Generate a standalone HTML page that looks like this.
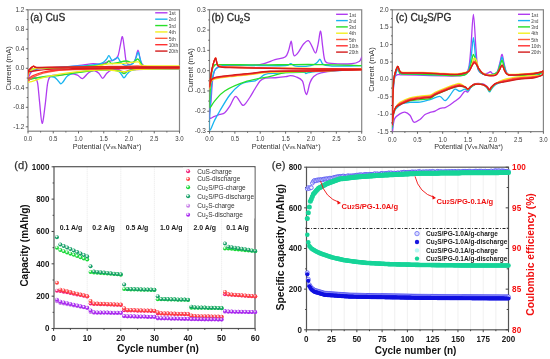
<!DOCTYPE html><html><head><meta charset="utf-8"><style>html,body{margin:0;padding:0;background:#fff;width:550px;height:359px;overflow:hidden}svg{display:block;will-change:transform}</style></head><body>
<svg width="550" height="359" viewBox="0 0 550 359" font-family='"Liberation Sans", sans-serif'>
<rect width="550" height="359" fill="#fff"/>
<defs>
<clipPath id="ca"><rect x="28" y="9.8" width="151.5" height="121.4"/></clipPath>
<clipPath id="cb"><rect x="209.5" y="9.8" width="152.2" height="121.7"/></clipPath>
<clipPath id="cc"><rect x="392.3" y="9.8" width="151.1" height="121.8"/></clipPath>
</defs>
<rect x="28" y="9.8" width="151.5" height="121.4" fill="none" stroke="#858585" stroke-width="1.2"/>
<line x1="28" y1="131.2" x2="28" y2="133.4" stroke="#555" stroke-width="0.9"/>
<text x="28" y="141.1" text-anchor="middle" font-size="7" fill="#3a3a3a" textLength="8.4" lengthAdjust="spacingAndGlyphs">0.0</text>
<line x1="40.62" y1="131.2" x2="40.62" y2="132.5" stroke="#555" stroke-width="0.9"/>
<line x1="53.25" y1="131.2" x2="53.25" y2="133.4" stroke="#555" stroke-width="0.9"/>
<text x="53.25" y="141.1" text-anchor="middle" font-size="7" fill="#3a3a3a" textLength="8.4" lengthAdjust="spacingAndGlyphs">0.5</text>
<line x1="65.88" y1="131.2" x2="65.88" y2="132.5" stroke="#555" stroke-width="0.9"/>
<line x1="78.5" y1="131.2" x2="78.5" y2="133.4" stroke="#555" stroke-width="0.9"/>
<text x="78.5" y="141.1" text-anchor="middle" font-size="7" fill="#3a3a3a" textLength="8.4" lengthAdjust="spacingAndGlyphs">1.0</text>
<line x1="91.12" y1="131.2" x2="91.12" y2="132.5" stroke="#555" stroke-width="0.9"/>
<line x1="103.75" y1="131.2" x2="103.75" y2="133.4" stroke="#555" stroke-width="0.9"/>
<text x="103.75" y="141.1" text-anchor="middle" font-size="7" fill="#3a3a3a" textLength="8.4" lengthAdjust="spacingAndGlyphs">1.5</text>
<line x1="116.38" y1="131.2" x2="116.38" y2="132.5" stroke="#555" stroke-width="0.9"/>
<line x1="129" y1="131.2" x2="129" y2="133.4" stroke="#555" stroke-width="0.9"/>
<text x="129" y="141.1" text-anchor="middle" font-size="7" fill="#3a3a3a" textLength="8.4" lengthAdjust="spacingAndGlyphs">2.0</text>
<line x1="141.62" y1="131.2" x2="141.62" y2="132.5" stroke="#555" stroke-width="0.9"/>
<line x1="154.25" y1="131.2" x2="154.25" y2="133.4" stroke="#555" stroke-width="0.9"/>
<text x="154.25" y="141.1" text-anchor="middle" font-size="7" fill="#3a3a3a" textLength="8.4" lengthAdjust="spacingAndGlyphs">2.5</text>
<line x1="166.88" y1="131.2" x2="166.88" y2="132.5" stroke="#555" stroke-width="0.9"/>
<line x1="179.5" y1="131.2" x2="179.5" y2="133.4" stroke="#555" stroke-width="0.9"/>
<text x="179.5" y="141.1" text-anchor="middle" font-size="7" fill="#3a3a3a" textLength="8.4" lengthAdjust="spacingAndGlyphs">3.0</text>
<line x1="25.8" y1="9.8" x2="28" y2="9.8" stroke="#555" stroke-width="0.9"/>
<text x="24.4" y="11.75" text-anchor="end" font-size="7.2" fill="#3a3a3a" textLength="9.01" lengthAdjust="spacingAndGlyphs">1.2</text>
<line x1="25.8" y1="29.3" x2="28" y2="29.3" stroke="#555" stroke-width="0.9"/>
<text x="24.4" y="31.25" text-anchor="end" font-size="7.2" fill="#3a3a3a" textLength="9.01" lengthAdjust="spacingAndGlyphs">0.8</text>
<line x1="25.8" y1="48.8" x2="28" y2="48.8" stroke="#555" stroke-width="0.9"/>
<text x="24.4" y="50.75" text-anchor="end" font-size="7.2" fill="#3a3a3a" textLength="9.01" lengthAdjust="spacingAndGlyphs">0.4</text>
<line x1="25.8" y1="68.31" x2="28" y2="68.31" stroke="#555" stroke-width="0.9"/>
<text x="24.4" y="70.26" text-anchor="end" font-size="7.2" fill="#3a3a3a" textLength="9.01" lengthAdjust="spacingAndGlyphs">0.0</text>
<line x1="25.8" y1="87.81" x2="28" y2="87.81" stroke="#555" stroke-width="0.9"/>
<text x="24.4" y="89.76" text-anchor="end" font-size="7.2" fill="#3a3a3a" textLength="11.17" lengthAdjust="spacingAndGlyphs">-0.4</text>
<line x1="25.8" y1="107.31" x2="28" y2="107.31" stroke="#555" stroke-width="0.9"/>
<text x="24.4" y="109.26" text-anchor="end" font-size="7.2" fill="#3a3a3a" textLength="11.17" lengthAdjust="spacingAndGlyphs">-0.8</text>
<line x1="25.8" y1="126.81" x2="28" y2="126.81" stroke="#555" stroke-width="0.9"/>
<text x="24.4" y="128.76" text-anchor="end" font-size="7.2" fill="#3a3a3a" textLength="11.17" lengthAdjust="spacingAndGlyphs">-1.2</text>
<line x1="26.7" y1="19.55" x2="28" y2="19.55" stroke="#555" stroke-width="0.9"/>
<line x1="26.7" y1="39.05" x2="28" y2="39.05" stroke="#555" stroke-width="0.9"/>
<line x1="26.7" y1="58.56" x2="28" y2="58.56" stroke="#555" stroke-width="0.9"/>
<line x1="26.7" y1="78.06" x2="28" y2="78.06" stroke="#555" stroke-width="0.9"/>
<line x1="26.7" y1="97.56" x2="28" y2="97.56" stroke="#555" stroke-width="0.9"/>
<line x1="26.7" y1="117.06" x2="28" y2="117.06" stroke="#555" stroke-width="0.9"/>
<path d="M179.5,69.28 C176.13,69.28 165.19,69.28 159.3,69.28 C153.41,69.28 148.78,69.2 144.15,69.28 C139.52,69.36 134.47,69.44 131.52,69.77 C128.58,70.09 127.74,70.86 126.48,71.23 C125.21,71.61 124.88,72.09 123.95,72.01 C123.02,71.93 121.93,71.16 120.92,70.74 C119.91,70.33 119.49,69.65 117.89,69.52 C116.29,69.4 113.18,69.4 111.33,70.01 C109.47,70.62 108.21,71.8 106.78,73.18 C105.35,74.56 104,78.22 102.74,78.3 C101.48,78.38 100.55,74.93 99.2,73.67 C97.86,72.41 96.43,70.91 94.66,70.74 C92.89,70.58 90.62,71.39 88.6,72.69 C86.58,73.99 84.39,78.14 82.54,78.54 C80.69,78.95 79.43,75.9 77.49,75.13 C75.55,74.36 74.12,73.91 70.93,73.91 C67.73,73.91 61.67,74.77 58.3,75.13 C54.93,75.5 52.49,74.81 50.72,76.11 C48.96,77.41 48.62,78.14 47.7,82.93 C46.77,87.73 46.1,98.13 45.17,104.87 C44.24,111.62 43.07,123.81 42.14,123.4 C41.21,122.99 40.37,109.18 39.62,102.43 C38.86,95.69 38.35,87 37.59,82.93 C36.84,78.87 36.25,78.71 35.07,78.06 C33.89,77.41 31.7,78.63 30.52,79.03 C29.35,79.44 27.92,81.63 28,80.49 C28.08,79.36 29.35,74.16 31.03,72.21 C32.71,70.26 34.4,69.52 38.1,68.79 C41.8,68.06 47.95,68.18 53.25,67.82 C58.55,67.45 64.86,67.09 69.91,66.6 C74.96,66.11 79.68,65.37 83.55,64.89 C87.42,64.41 90.28,63.84 93.14,63.72 C96.01,63.6 98.11,64.54 100.72,64.16 C103.33,63.79 106.61,62.17 108.8,61.48 C110.99,60.79 112.34,60.91 113.85,60.02 C115.37,59.12 116.8,58.64 117.89,56.12 C118.98,53.6 119.66,48.15 120.42,44.9 C121.17,41.65 121.76,35.97 122.44,36.62 C123.11,37.27 123.78,44.5 124.45,48.8 C125.13,53.11 125.38,59.86 126.48,62.46 C127.57,65.06 129.59,64.81 131.02,64.41 C132.45,64 133.88,62.37 135.06,60.02 C136.24,57.66 137.16,50.1 138.09,50.27 C139.02,50.43 139.61,58.39 140.62,60.99 C141.62,63.59 141.88,64.81 144.15,65.87 C146.42,66.92 148.36,67.01 154.25,67.33 C160.14,67.66 175.29,67.74 179.5,67.82" fill="none" stroke="#b03cf0" stroke-width="1.3" stroke-linejoin="round" stroke-linecap="round" clip-path="url(#ca)"/>
<path d="M179.5,68.55 C173.61,68.59 152.15,68.51 144.15,68.79 C136.15,69.08 134.39,69.36 131.52,70.26 C128.66,71.15 128.24,72.9 126.98,74.16 C125.72,75.42 124.96,77.89 123.95,77.81 C122.94,77.73 122.18,74.93 120.92,73.67 C119.66,72.41 119.24,70.91 116.38,70.26 C113.51,69.61 108.38,69.69 103.75,69.77 C99.12,69.85 93.65,70.17 88.6,70.74 C83.55,71.31 76.98,72.29 73.45,73.18 C69.91,74.08 69.07,74.73 67.39,76.11 C65.71,77.49 64.44,80.17 63.35,81.47 C62.26,82.77 61.67,83.99 60.83,83.91 C59.98,83.83 59.39,82.12 58.3,80.98 C57.21,79.84 55.94,77.81 54.26,77.08 C52.58,76.35 50.89,76.51 48.2,76.59 C45.51,76.68 41.47,77.33 38.1,77.57 C34.73,77.81 29.26,79.11 28,78.06 C26.74,77 29.26,72.82 30.52,71.23 C31.79,69.65 32.63,69.08 35.58,68.55 C38.52,68.02 42.48,68.43 48.2,68.06 C53.92,67.7 63.18,66.8 69.91,66.36 C76.65,65.91 83.38,65.87 88.6,65.38 C93.82,64.89 98.28,64.41 101.22,63.43 C104.17,62.46 105.01,60.83 106.28,59.53 C107.54,58.23 108.04,55.79 108.8,55.63 C109.56,55.47 110.23,57.74 110.82,58.56 C111.41,59.37 111.66,60.42 112.33,60.51 C113.01,60.59 113.93,59.53 114.86,59.04 C115.79,58.56 117.05,57.25 117.89,57.58 C118.73,57.9 119.15,59.94 119.91,60.99 C120.67,62.05 121.34,63.19 122.44,63.92 C123.53,64.65 124.71,65.46 126.48,65.38 C128.24,65.3 131.44,64.73 133.04,63.43 C134.64,62.13 135.23,59.45 136.07,57.58 C136.91,55.71 137.42,52.05 138.09,52.22 C138.76,52.38 139.35,56.36 140.11,58.56 C140.87,60.75 141.12,63.92 142.63,65.38 C144.15,66.84 143.06,66.92 149.2,67.33 C155.34,67.74 174.45,67.74 179.5,67.82" fill="none" stroke="#18b4f0" stroke-width="1.3" stroke-linejoin="round" stroke-linecap="round" clip-path="url(#ca)"/>
<path d="M179.5,68.55 C172.77,68.59 147.52,68.43 139.1,68.79 C130.68,69.16 131.53,69.93 129,70.74 C126.47,71.56 125.46,73.59 123.95,73.67 C122.43,73.75 122.44,71.88 119.91,71.23 C117.39,70.58 113.6,69.85 108.8,69.77 C104,69.69 97.02,70.17 91.12,70.74 C85.23,71.31 78.92,72.37 73.45,73.18 C67.98,73.99 62.51,75.13 58.3,75.62 C54.09,76.11 51.57,75.78 48.2,76.11 C44.83,76.43 41.47,77.08 38.1,77.57 C34.73,78.06 29.43,80.17 28,79.03 C26.57,77.89 28.25,72.49 29.52,70.74 C30.78,69 31.62,68.96 35.58,68.55 C39.53,68.14 46.1,68.59 53.25,68.31 C60.4,68.02 70.92,67.33 78.5,66.84 C86.08,66.36 94.07,65.95 98.7,65.38 C103.33,64.81 104.59,64.16 106.28,63.43 C107.96,62.7 107.96,60.99 108.8,60.99 C109.64,60.99 110.06,63.11 111.33,63.43 C112.59,63.76 113.93,63.35 116.38,62.94 C118.82,62.54 123.44,61.07 125.97,60.99 C128.49,60.91 130.01,62.46 131.52,62.46 C133.04,62.46 133.97,61.56 135.06,60.99 C136.15,60.42 137.08,58.64 138.09,59.04 C139.1,59.45 139.69,62.13 141.12,63.43 C142.55,64.73 140.28,66.11 146.68,66.84 C153.07,67.57 174.03,67.66 179.5,67.82" fill="none" stroke="#28e028" stroke-width="1.3" stroke-linejoin="round" stroke-linecap="round" clip-path="url(#ca)"/>
<path d="M179.5,68.79 C172.77,68.87 148.36,68.79 139.1,69.28 C129.84,69.77 129,71.6 123.95,71.72 C118.9,71.84 114.44,70.2 108.8,70.01 C103.16,69.83 96.01,70.23 90.12,70.6 C84.22,70.96 78.5,71.61 73.45,72.21 C68.4,72.8 64.86,73.26 59.81,74.16 C54.77,75.05 48.45,76.27 43.15,77.57 C37.85,78.87 30.27,82.85 28,81.96 C25.73,81.06 28.25,74.48 29.52,72.21 C30.78,69.93 31.62,69.04 35.58,68.31 C39.53,67.57 44.41,68.06 53.25,67.82 C62.09,67.57 79.34,67.49 88.6,66.84 C97.86,66.19 102.91,64.49 108.8,63.92 C114.69,63.35 119.07,63.76 123.95,63.43 C128.83,63.11 134.72,61.6 138.09,61.97 C141.46,62.33 137.25,64.97 144.15,65.62 C151.05,66.27 173.61,65.83 179.5,65.87" fill="none" stroke="#f2f020" stroke-width="1.3" stroke-linejoin="round" stroke-linecap="round" clip-path="url(#ca)"/>
<path d="M179.5,68.31 C171.08,68.35 141.62,68.47 129,68.55 C116.38,68.63 112.17,68.63 103.75,68.79 C95.33,68.96 86.5,69.2 78.5,69.52 C70.5,69.85 61.67,70.13 55.78,70.74 C49.88,71.35 46.94,72.13 43.15,73.18 C39.36,74.24 35.57,75.86 33.05,77.08 C30.52,78.3 28.76,81.39 28,80.49 C27.24,79.6 28.08,73.75 28.5,71.72 C28.93,69.69 29.68,69.24 30.52,68.31 C31.37,67.37 32.55,66.21 33.55,66.11 C34.56,66.01 34.99,67.48 36.59,67.72 C38.18,67.96 36.16,67.64 43.15,67.57 C50.14,67.51 67.56,67.53 78.5,67.33 C89.44,67.13 101.22,66.52 108.8,66.36 C116.38,66.19 119.07,66.44 123.95,66.36 C128.83,66.27 133.88,65.75 138.09,65.87 C142.3,65.99 142.3,66.84 149.2,67.09 C156.1,67.33 174.45,67.29 179.5,67.33" fill="none" stroke="#ff5c3c" stroke-width="1.3" stroke-linejoin="round" stroke-linecap="round" clip-path="url(#ca)"/>
<path d="M179.5,68.06 C171.08,68.1 145.83,68.14 129,68.31 C112.17,68.47 90.7,68.71 78.5,69.04 C66.3,69.36 61.67,69.73 55.78,70.26 C49.88,70.78 46.94,71.31 43.15,72.21 C39.36,73.1 35.57,74.56 33.05,75.62 C30.52,76.68 28.76,79.19 28,78.54 C27.24,77.89 28,73.43 28.5,71.72 C29.01,70.01 30.19,69.2 31.03,68.31 C31.87,67.41 32.63,66.48 33.55,66.36 C34.48,66.23 34.14,67.41 36.59,67.57 C39.03,67.74 37.01,67.41 48.2,67.33 C59.39,67.25 90.28,67.13 103.75,67.09 C117.22,67.05 116.38,67.09 129,67.09 C141.62,67.09 171.08,67.09 179.5,67.09" fill="none" stroke="#ff3030" stroke-width="1.3" stroke-linejoin="round" stroke-linecap="round" clip-path="url(#ca)"/>
<path d="M179.5,67.82 C166.88,67.9 122.27,68.14 103.75,68.31 C85.23,68.47 77.66,68.63 68.4,68.79 C59.14,68.96 53.67,68.96 48.2,69.28 C42.73,69.61 38.94,70.34 35.58,70.74 C32.21,71.15 28.84,72.13 28,71.72 C27.16,71.31 29.6,69.24 30.52,68.31 C31.45,67.37 32.55,66.27 33.55,66.11 C34.56,65.95 33.3,67.17 36.59,67.33 C39.87,67.49 37.85,67.17 53.25,67.09 C68.65,67.01 107.96,66.88 129,66.84 C150.04,66.8 171.08,66.84 179.5,66.84" fill="none" stroke="#d41c1c" stroke-width="1.3" stroke-linejoin="round" stroke-linecap="round" clip-path="url(#ca)"/>
<line x1="155.2" y1="12.8" x2="167.5" y2="12.8" stroke="#b03cf0" stroke-width="1.4"/>
<text x="168.7" y="15" font-size="6" fill="#444" textLength="7.05" lengthAdjust="spacingAndGlyphs">1st</text>
<line x1="155.2" y1="19.18" x2="167.5" y2="19.18" stroke="#18b4f0" stroke-width="1.4"/>
<text x="168.7" y="21.38" font-size="6" fill="#444" textLength="7.05" lengthAdjust="spacingAndGlyphs">2nd</text>
<line x1="155.2" y1="25.56" x2="167.5" y2="25.56" stroke="#28e028" stroke-width="1.4"/>
<text x="168.7" y="27.76" font-size="6" fill="#444" textLength="7.05" lengthAdjust="spacingAndGlyphs">3rd</text>
<line x1="155.2" y1="31.94" x2="167.5" y2="31.94" stroke="#f2f020" stroke-width="1.4"/>
<text x="168.7" y="34.14" font-size="6" fill="#444" textLength="7.05" lengthAdjust="spacingAndGlyphs">4th</text>
<line x1="155.2" y1="38.32" x2="167.5" y2="38.32" stroke="#ff5c3c" stroke-width="1.4"/>
<text x="168.7" y="40.52" font-size="6" fill="#444" textLength="7.05" lengthAdjust="spacingAndGlyphs">5th</text>
<line x1="155.2" y1="44.7" x2="167.5" y2="44.7" stroke="#ff3030" stroke-width="1.4"/>
<text x="168.7" y="46.9" font-size="6" fill="#444" textLength="9.4" lengthAdjust="spacingAndGlyphs">10th</text>
<line x1="155.2" y1="51.08" x2="167.5" y2="51.08" stroke="#d41c1c" stroke-width="1.4"/>
<text x="168.7" y="53.28" font-size="6" fill="#444" textLength="9.4" lengthAdjust="spacingAndGlyphs">20th</text>
<text x="30.2" y="20.5" font-size="10.2" fill="#2a2a2a" stroke="#2a2a2a" stroke-width="0.3">(a) CuS</text>
<text transform="translate(11.1,68.4) rotate(-90)" text-anchor="middle" font-size="7.7" fill="#333">Current (mA)</text>
<text x="72.7" y="149.3" font-size="7.3" fill="#333">Potential (V<tspan font-size="5.5">vs.</tspan><tspan font-size="6.7">Na/Na</tspan><tspan font-size="4.5" dy="-2.6">+</tspan><tspan dy="2.6">)</tspan></text>
<rect x="209.5" y="9.8" width="152.2" height="121.7" fill="none" stroke="#858585" stroke-width="1.2"/>
<line x1="209.5" y1="131.5" x2="209.5" y2="133.7" stroke="#555" stroke-width="0.9"/>
<text x="209.5" y="141.4" text-anchor="middle" font-size="7" fill="#3a3a3a" textLength="8.4" lengthAdjust="spacingAndGlyphs">0.0</text>
<line x1="222.18" y1="131.5" x2="222.18" y2="132.8" stroke="#555" stroke-width="0.9"/>
<line x1="234.87" y1="131.5" x2="234.87" y2="133.7" stroke="#555" stroke-width="0.9"/>
<text x="234.87" y="141.4" text-anchor="middle" font-size="7" fill="#3a3a3a" textLength="8.4" lengthAdjust="spacingAndGlyphs">0.5</text>
<line x1="247.55" y1="131.5" x2="247.55" y2="132.8" stroke="#555" stroke-width="0.9"/>
<line x1="260.23" y1="131.5" x2="260.23" y2="133.7" stroke="#555" stroke-width="0.9"/>
<text x="260.23" y="141.4" text-anchor="middle" font-size="7" fill="#3a3a3a" textLength="8.4" lengthAdjust="spacingAndGlyphs">1.0</text>
<line x1="272.92" y1="131.5" x2="272.92" y2="132.8" stroke="#555" stroke-width="0.9"/>
<line x1="285.6" y1="131.5" x2="285.6" y2="133.7" stroke="#555" stroke-width="0.9"/>
<text x="285.6" y="141.4" text-anchor="middle" font-size="7" fill="#3a3a3a" textLength="8.4" lengthAdjust="spacingAndGlyphs">1.5</text>
<line x1="298.28" y1="131.5" x2="298.28" y2="132.8" stroke="#555" stroke-width="0.9"/>
<line x1="310.97" y1="131.5" x2="310.97" y2="133.7" stroke="#555" stroke-width="0.9"/>
<text x="310.97" y="141.4" text-anchor="middle" font-size="7" fill="#3a3a3a" textLength="8.4" lengthAdjust="spacingAndGlyphs">2.0</text>
<line x1="323.65" y1="131.5" x2="323.65" y2="132.8" stroke="#555" stroke-width="0.9"/>
<line x1="336.33" y1="131.5" x2="336.33" y2="133.7" stroke="#555" stroke-width="0.9"/>
<text x="336.33" y="141.4" text-anchor="middle" font-size="7" fill="#3a3a3a" textLength="8.4" lengthAdjust="spacingAndGlyphs">2.5</text>
<line x1="349.02" y1="131.5" x2="349.02" y2="132.8" stroke="#555" stroke-width="0.9"/>
<line x1="361.7" y1="131.5" x2="361.7" y2="133.7" stroke="#555" stroke-width="0.9"/>
<text x="361.7" y="141.4" text-anchor="middle" font-size="7" fill="#3a3a3a" textLength="8.4" lengthAdjust="spacingAndGlyphs">3.0</text>
<line x1="207.3" y1="9.8" x2="209.5" y2="9.8" stroke="#555" stroke-width="0.9"/>
<text x="205.9" y="11.75" text-anchor="end" font-size="7.2" fill="#3a3a3a" textLength="9.01" lengthAdjust="spacingAndGlyphs">0.3</text>
<line x1="207.3" y1="30.08" x2="209.5" y2="30.08" stroke="#555" stroke-width="0.9"/>
<text x="205.9" y="32.03" text-anchor="end" font-size="7.2" fill="#3a3a3a" textLength="9.01" lengthAdjust="spacingAndGlyphs">0.2</text>
<line x1="207.3" y1="50.37" x2="209.5" y2="50.37" stroke="#555" stroke-width="0.9"/>
<text x="205.9" y="52.32" text-anchor="end" font-size="7.2" fill="#3a3a3a" textLength="9.01" lengthAdjust="spacingAndGlyphs">0.1</text>
<line x1="207.3" y1="70.65" x2="209.5" y2="70.65" stroke="#555" stroke-width="0.9"/>
<text x="205.9" y="72.6" text-anchor="end" font-size="7.2" fill="#3a3a3a" textLength="9.01" lengthAdjust="spacingAndGlyphs">0.0</text>
<line x1="207.3" y1="90.93" x2="209.5" y2="90.93" stroke="#555" stroke-width="0.9"/>
<text x="205.9" y="92.88" text-anchor="end" font-size="7.2" fill="#3a3a3a" textLength="11.17" lengthAdjust="spacingAndGlyphs">-0.1</text>
<line x1="207.3" y1="111.22" x2="209.5" y2="111.22" stroke="#555" stroke-width="0.9"/>
<text x="205.9" y="113.17" text-anchor="end" font-size="7.2" fill="#3a3a3a" textLength="11.17" lengthAdjust="spacingAndGlyphs">-0.2</text>
<line x1="207.3" y1="131.5" x2="209.5" y2="131.5" stroke="#555" stroke-width="0.9"/>
<text x="205.9" y="133.45" text-anchor="end" font-size="7.2" fill="#3a3a3a" textLength="11.17" lengthAdjust="spacingAndGlyphs">-0.3</text>
<line x1="208.2" y1="19.94" x2="209.5" y2="19.94" stroke="#555" stroke-width="0.9"/>
<line x1="208.2" y1="40.23" x2="209.5" y2="40.23" stroke="#555" stroke-width="0.9"/>
<line x1="208.2" y1="60.51" x2="209.5" y2="60.51" stroke="#555" stroke-width="0.9"/>
<line x1="208.2" y1="80.79" x2="209.5" y2="80.79" stroke="#555" stroke-width="0.9"/>
<line x1="208.2" y1="101.08" x2="209.5" y2="101.08" stroke="#555" stroke-width="0.9"/>
<line x1="208.2" y1="121.36" x2="209.5" y2="121.36" stroke="#555" stroke-width="0.9"/>
<path d="M361.7,68.62 C358.32,68.89 348.17,69.53 341.41,70.24 C334.64,70.95 325.76,71.8 321.11,72.88 C316.46,73.96 315.36,75.08 313.5,76.73 C311.64,78.39 310.88,80.45 309.95,82.82 C309.02,85.19 308.51,88.97 307.92,90.93 C307.33,92.89 306.91,94.58 306.4,94.58 C305.89,94.58 305.56,93.23 304.88,90.93 C304.2,88.63 303.86,83.16 302.34,80.79 C300.82,78.43 297.78,77.58 295.75,76.73 C293.72,75.89 291.86,75.72 290.17,75.72 C288.47,75.72 288.05,76.4 285.6,76.73 C283.15,77.07 278.84,77.51 275.45,77.75 C272.07,77.99 267.84,77.65 265.31,78.15 C262.77,78.66 261.92,79.07 260.23,80.79 C258.54,82.52 256.85,85.79 255.16,88.5 C253.47,91.2 251.78,94.42 250.09,97.02 C248.4,99.62 246.28,102.77 245.01,104.12 C243.74,105.47 243.49,105.81 242.48,105.13 C241.46,104.46 240.02,101.51 238.93,100.06 C237.83,98.61 236.81,96.58 235.88,96.41 C234.95,96.24 234.36,97.42 233.34,99.05 C232.33,100.67 231.23,103.88 229.79,106.15 C228.36,108.41 226.41,111.25 224.72,112.64 C223.03,114.02 221.34,113.85 219.65,114.46 C217.96,115.07 216.26,115.81 214.57,116.29 C212.88,116.76 210.09,119.84 209.5,117.3 C208.91,114.77 210.51,107.16 211.02,101.08 C211.53,94.99 211.95,85.86 212.54,80.79 C213.14,75.72 213.81,72.85 214.57,70.65 C215.33,68.45 215.84,68.45 217.11,67.61 C218.38,66.76 219.22,65.92 222.18,65.58 C225.14,65.24 228.61,65.75 234.87,65.58 C241.12,65.41 253.05,65.55 259.73,64.57 C266.41,63.58 270.72,60.95 274.95,59.7 C279.17,58.45 282.81,58.62 285.09,57.06 C287.38,55.51 287.63,53 288.64,50.37 C289.66,47.73 290.5,41.24 291.18,41.24 C291.86,41.24 292.2,47.93 292.7,50.37 C293.21,52.8 293.29,55.51 294.22,55.84 C295.15,56.18 296.76,54.32 298.28,52.39 C299.81,50.47 301.67,46.24 303.36,44.28 C305.05,42.32 306.99,40.29 308.43,40.63 C309.87,40.97 310.8,44.25 311.98,46.31 C313.17,48.37 314.52,53.34 315.53,53 C316.55,52.67 317.22,47.93 318.07,44.28 C318.91,40.63 319.84,30.76 320.61,31.1 C321.37,31.44 321.87,41.31 322.64,46.31 C323.4,51.31 323.73,58.28 325.17,61.12 C326.61,63.96 326.86,62.91 331.26,63.35 C335.66,63.79 346.9,64.06 351.55,63.75 C356.2,63.45 357.47,62.64 359.16,61.52 C360.85,60.41 361.28,57.8 361.7,57.06" fill="none" stroke="#b03cf0" stroke-width="1.3" stroke-linejoin="round" stroke-linecap="round" clip-path="url(#cb)"/>
<path d="M361.7,68.62 C357.47,68.96 343.94,70.14 336.33,70.65 C328.72,71.16 320.69,71.33 316.04,71.66 C311.39,72 310.12,72.37 308.43,72.68 C306.74,72.98 306.74,73.56 305.89,73.49 C305.05,73.42 306.74,72.41 303.36,72.27 C299.97,72.14 290.25,72.51 285.6,72.68 C280.95,72.85 278.84,73.02 275.45,73.29 C272.07,73.56 267.84,73.56 265.31,74.3 C262.77,75.04 261.92,76.67 260.23,77.75 C258.54,78.83 257.27,80.12 255.16,80.79 C253.05,81.47 250.09,81.13 247.55,81.81 C245.01,82.48 242.9,82.65 239.94,84.85 C236.98,87.05 233.18,90.6 229.79,94.99 C226.41,99.38 222.18,106.99 219.65,111.22 C217.11,115.44 216.26,117.3 214.57,120.34 C212.88,123.39 210.18,132.68 209.5,129.47 C208.82,126.26 210.09,109.19 210.51,101.08 C210.94,92.96 211.36,85.86 212.04,80.79 C212.71,75.72 213.3,73.02 214.57,70.65 C215.84,68.28 217.11,67.54 219.65,66.59 C222.18,65.65 223.03,65.14 229.79,64.97 C236.56,64.8 250.93,65.48 260.23,65.58 C269.53,65.68 280.53,65.92 285.6,65.58 C290.67,65.24 288.98,63.45 290.67,63.55 C292.36,63.65 292.36,65.85 295.75,66.19 C299.13,66.53 307.42,66.19 310.97,65.58 C314.52,64.97 315.53,63.58 317.05,62.54 C318.58,61.49 319,58.95 320.1,59.29 C321.2,59.63 320.94,63.42 323.65,64.57 C326.36,65.71 329.99,66.02 336.33,66.19 C342.67,66.36 357.47,65.68 361.7,65.58" fill="none" stroke="#18b4f0" stroke-width="1.3" stroke-linejoin="round" stroke-linecap="round" clip-path="url(#cb)"/>
<path d="M361.7,68.62 C353.24,69.13 323.65,70.99 310.97,71.66 C298.28,72.34 292.36,71.9 285.6,72.68 C278.84,73.46 277.14,74.81 270.38,76.33 C263.62,77.85 252.62,79.37 245.01,81.81 C237.4,84.24 229.79,87.72 224.72,90.93 C219.65,94.14 217.11,98.37 214.57,101.08 C212.04,103.78 210.18,109.53 209.5,107.16 C208.82,104.79 210.09,92.96 210.51,86.88 C210.94,80.79 211.36,74.2 212.04,70.65 C212.71,67.1 213.3,66.59 214.57,65.58 C215.84,64.56 212.04,64.67 219.65,64.57 C227.26,64.46 248.4,64.97 260.23,64.97 C272.07,64.97 280.53,64.63 290.67,64.57 C300.82,64.5 309.28,64.4 321.11,64.57 C332.95,64.73 354.94,65.41 361.7,65.58" fill="none" stroke="#28e028" stroke-width="1.3" stroke-linejoin="round" stroke-linecap="round" clip-path="url(#cb)"/>
<path d="M361.7,69.43 C353.24,69.77 326.19,70.99 310.97,71.46 C295.75,71.93 280.53,71.73 270.38,72.27 C260.23,72.81 256.85,73.96 250.09,74.71 C243.32,75.45 235.71,75.99 229.79,76.73 C223.87,77.48 217.7,78.32 214.57,79.17 C211.44,80.01 211.87,80.18 211.02,81.81 C210.18,83.43 209.5,90.09 209.5,88.91 C209.5,87.72 210.43,78.76 211.02,74.71 C211.61,70.65 212.29,67.27 213.05,64.57 C213.81,61.86 214.91,58.65 215.59,58.48 C216.26,58.31 216.43,62.27 217.11,63.55 C217.79,64.84 217.53,65.61 219.65,66.19 C221.76,66.76 223.03,66.73 229.79,67 C236.56,67.27 246.7,67.57 260.23,67.81 C273.76,68.05 294.06,68.25 310.97,68.42 C327.88,68.59 353.24,68.76 361.7,68.82" fill="none" stroke="#f2f020" stroke-width="1.3" stroke-linejoin="round" stroke-linecap="round" clip-path="url(#cb)"/>
<path d="M361.7,69.64 C353.24,69.91 326.19,70.92 310.97,71.26 C295.75,71.6 280.53,71.19 270.38,71.66 C260.23,72.14 256.85,73.35 250.09,74.1 C243.32,74.84 235.71,75.42 229.79,76.13 C223.87,76.84 217.7,77.58 214.57,78.36 C211.44,79.14 211.87,79.2 211.02,80.79 C210.18,82.38 209.5,88.91 209.5,87.89 C209.5,86.88 210.43,78.59 211.02,74.71 C211.61,70.82 212.29,67.4 213.05,64.57 C213.81,61.73 214.91,57.84 215.59,57.67 C216.26,57.5 216.43,62.13 217.11,63.55 C217.79,64.97 217.53,65.61 219.65,66.19 C221.76,66.76 223.03,66.73 229.79,67 C236.56,67.27 246.7,67.54 260.23,67.81 C273.76,68.08 294.06,68.42 310.97,68.62 C327.88,68.82 353.24,68.96 361.7,69.03" fill="none" stroke="#ff5c3c" stroke-width="1.3" stroke-linejoin="round" stroke-linecap="round" clip-path="url(#cb)"/>
<path d="M361.7,69.64 C353.24,69.87 326.19,70.75 310.97,71.06 C295.75,71.36 280.53,71.02 270.38,71.46 C260.23,71.9 256.85,72.98 250.09,73.69 C243.32,74.4 235.71,75.01 229.79,75.72 C223.87,76.43 217.7,77.11 214.57,77.95 C211.44,78.8 211.87,79.3 211.02,80.79 C210.18,82.28 209.5,87.89 209.5,86.88 C209.5,85.86 210.43,78.43 211.02,74.71 C211.61,70.99 212.29,67.34 213.05,64.57 C213.81,61.79 214.91,58.18 215.59,58.07 C216.26,57.97 216.43,62.54 217.11,63.96 C217.79,65.38 217.53,66.02 219.65,66.59 C221.76,67.17 223.03,67.17 229.79,67.4 C236.56,67.64 246.7,67.78 260.23,68.01 C273.76,68.25 294.06,68.62 310.97,68.82 C327.88,69.03 353.24,69.16 361.7,69.23" fill="none" stroke="#ff3030" stroke-width="1.3" stroke-linejoin="round" stroke-linecap="round" clip-path="url(#cb)"/>
<path d="M361.7,69.84 C353.24,70.01 326.19,70.62 310.97,70.85 C295.75,71.09 280.53,70.85 270.38,71.26 C260.23,71.66 256.85,72.61 250.09,73.29 C243.32,73.96 235.71,74.61 229.79,75.32 C223.87,76.03 217.7,76.7 214.57,77.55 C211.44,78.39 211.87,78.9 211.02,80.39 C210.18,81.87 209.5,87.42 209.5,86.47 C209.5,85.52 210.43,78.36 211.02,74.71 C211.61,71.06 212.29,67.27 213.05,64.57 C213.81,61.86 214.91,58.55 215.59,58.48 C216.26,58.41 216.43,62.77 217.11,64.16 C217.79,65.55 217.53,66.22 219.65,66.8 C221.76,67.37 223.03,67.37 229.79,67.61 C236.56,67.84 246.7,67.98 260.23,68.22 C273.76,68.45 294.06,68.82 310.97,69.03 C327.88,69.23 353.24,69.37 361.7,69.43" fill="none" stroke="#d41c1c" stroke-width="1.3" stroke-linejoin="round" stroke-linecap="round" clip-path="url(#cb)"/>
<line x1="336.1" y1="14.3" x2="347.8" y2="14.3" stroke="#b03cf0" stroke-width="1.4"/>
<text x="349" y="16.5" font-size="6" fill="#444" textLength="7.05" lengthAdjust="spacingAndGlyphs">1st</text>
<line x1="336.1" y1="20.6" x2="347.8" y2="20.6" stroke="#18b4f0" stroke-width="1.4"/>
<text x="349" y="22.8" font-size="6" fill="#444" textLength="7.05" lengthAdjust="spacingAndGlyphs">2nd</text>
<line x1="336.1" y1="26.9" x2="347.8" y2="26.9" stroke="#28e028" stroke-width="1.4"/>
<text x="349" y="29.1" font-size="6" fill="#444" textLength="7.05" lengthAdjust="spacingAndGlyphs">3rd</text>
<line x1="336.1" y1="33.2" x2="347.8" y2="33.2" stroke="#f2f020" stroke-width="1.4"/>
<text x="349" y="35.4" font-size="6" fill="#444" textLength="7.05" lengthAdjust="spacingAndGlyphs">4th</text>
<line x1="336.1" y1="39.5" x2="347.8" y2="39.5" stroke="#ff5c3c" stroke-width="1.4"/>
<text x="349" y="41.7" font-size="6" fill="#444" textLength="7.05" lengthAdjust="spacingAndGlyphs">5th</text>
<line x1="336.1" y1="45.8" x2="347.8" y2="45.8" stroke="#ff3030" stroke-width="1.4"/>
<text x="349" y="48" font-size="6" fill="#444" textLength="9.4" lengthAdjust="spacingAndGlyphs">10th</text>
<line x1="336.1" y1="52.1" x2="347.8" y2="52.1" stroke="#d41c1c" stroke-width="1.4"/>
<text x="349" y="54.3" font-size="6" fill="#444" textLength="9.4" lengthAdjust="spacingAndGlyphs">20th</text>
<text x="211.5" y="20.6" font-size="10.2" fill="#2a2a2a" stroke="#2a2a2a" stroke-width="0.3">(b) Cu<tspan font-size="6.5" dy="2">2</tspan><tspan dy="-2">S</tspan></text>
<text transform="translate(193.1,70.4) rotate(-90)" text-anchor="middle" font-size="7.7" fill="#333">Current (mA)</text>
<text x="251.8" y="149.3" font-size="7.3" fill="#333">Potential (V<tspan font-size="5.5">vs.</tspan><tspan font-size="6.7">Na/Na</tspan><tspan font-size="4.5" dy="-2.6">+</tspan><tspan dy="2.6">)</tspan></text>
<rect x="392.3" y="9.8" width="151.1" height="121.8" fill="none" stroke="#858585" stroke-width="1.2"/>
<line x1="392.3" y1="131.6" x2="392.3" y2="133.8" stroke="#555" stroke-width="0.9"/>
<text x="392.3" y="141.5" text-anchor="middle" font-size="7" fill="#3a3a3a" textLength="8.4" lengthAdjust="spacingAndGlyphs">0.0</text>
<line x1="404.89" y1="131.6" x2="404.89" y2="132.9" stroke="#555" stroke-width="0.9"/>
<line x1="417.48" y1="131.6" x2="417.48" y2="133.8" stroke="#555" stroke-width="0.9"/>
<text x="417.48" y="141.5" text-anchor="middle" font-size="7" fill="#3a3a3a" textLength="8.4" lengthAdjust="spacingAndGlyphs">0.5</text>
<line x1="430.07" y1="131.6" x2="430.07" y2="132.9" stroke="#555" stroke-width="0.9"/>
<line x1="442.67" y1="131.6" x2="442.67" y2="133.8" stroke="#555" stroke-width="0.9"/>
<text x="442.67" y="141.5" text-anchor="middle" font-size="7" fill="#3a3a3a" textLength="8.4" lengthAdjust="spacingAndGlyphs">1.0</text>
<line x1="455.26" y1="131.6" x2="455.26" y2="132.9" stroke="#555" stroke-width="0.9"/>
<line x1="467.85" y1="131.6" x2="467.85" y2="133.8" stroke="#555" stroke-width="0.9"/>
<text x="467.85" y="141.5" text-anchor="middle" font-size="7" fill="#3a3a3a" textLength="8.4" lengthAdjust="spacingAndGlyphs">1.5</text>
<line x1="480.44" y1="131.6" x2="480.44" y2="132.9" stroke="#555" stroke-width="0.9"/>
<line x1="493.03" y1="131.6" x2="493.03" y2="133.8" stroke="#555" stroke-width="0.9"/>
<text x="493.03" y="141.5" text-anchor="middle" font-size="7" fill="#3a3a3a" textLength="8.4" lengthAdjust="spacingAndGlyphs">2.0</text>
<line x1="505.62" y1="131.6" x2="505.62" y2="132.9" stroke="#555" stroke-width="0.9"/>
<line x1="518.22" y1="131.6" x2="518.22" y2="133.8" stroke="#555" stroke-width="0.9"/>
<text x="518.22" y="141.5" text-anchor="middle" font-size="7" fill="#3a3a3a" textLength="8.4" lengthAdjust="spacingAndGlyphs">2.5</text>
<line x1="530.81" y1="131.6" x2="530.81" y2="132.9" stroke="#555" stroke-width="0.9"/>
<line x1="543.4" y1="131.6" x2="543.4" y2="133.8" stroke="#555" stroke-width="0.9"/>
<text x="543.4" y="141.5" text-anchor="middle" font-size="7" fill="#3a3a3a" textLength="8.4" lengthAdjust="spacingAndGlyphs">3.0</text>
<line x1="390.1" y1="9.8" x2="392.3" y2="9.8" stroke="#555" stroke-width="0.9"/>
<text x="388.7" y="11.75" text-anchor="end" font-size="7.2" fill="#3a3a3a" textLength="9.01" lengthAdjust="spacingAndGlyphs">2.0</text>
<line x1="390.1" y1="27.2" x2="392.3" y2="27.2" stroke="#555" stroke-width="0.9"/>
<text x="388.7" y="29.15" text-anchor="end" font-size="7.2" fill="#3a3a3a" textLength="9.01" lengthAdjust="spacingAndGlyphs">1.5</text>
<line x1="390.1" y1="44.6" x2="392.3" y2="44.6" stroke="#555" stroke-width="0.9"/>
<text x="388.7" y="46.55" text-anchor="end" font-size="7.2" fill="#3a3a3a" textLength="9.01" lengthAdjust="spacingAndGlyphs">1.0</text>
<line x1="390.1" y1="62" x2="392.3" y2="62" stroke="#555" stroke-width="0.9"/>
<text x="388.7" y="63.95" text-anchor="end" font-size="7.2" fill="#3a3a3a" textLength="9.01" lengthAdjust="spacingAndGlyphs">0.5</text>
<line x1="390.1" y1="79.4" x2="392.3" y2="79.4" stroke="#555" stroke-width="0.9"/>
<text x="388.7" y="81.35" text-anchor="end" font-size="7.2" fill="#3a3a3a" textLength="9.01" lengthAdjust="spacingAndGlyphs">0.0</text>
<line x1="390.1" y1="96.8" x2="392.3" y2="96.8" stroke="#555" stroke-width="0.9"/>
<text x="388.7" y="98.75" text-anchor="end" font-size="7.2" fill="#3a3a3a" textLength="11.17" lengthAdjust="spacingAndGlyphs">-0.5</text>
<line x1="390.1" y1="114.2" x2="392.3" y2="114.2" stroke="#555" stroke-width="0.9"/>
<text x="388.7" y="116.15" text-anchor="end" font-size="7.2" fill="#3a3a3a" textLength="11.17" lengthAdjust="spacingAndGlyphs">-1.0</text>
<line x1="390.1" y1="131.6" x2="392.3" y2="131.6" stroke="#555" stroke-width="0.9"/>
<text x="388.7" y="133.55" text-anchor="end" font-size="7.2" fill="#3a3a3a" textLength="11.17" lengthAdjust="spacingAndGlyphs">-1.5</text>
<line x1="391" y1="18.5" x2="392.3" y2="18.5" stroke="#555" stroke-width="0.9"/>
<line x1="391" y1="35.9" x2="392.3" y2="35.9" stroke="#555" stroke-width="0.9"/>
<line x1="391" y1="53.3" x2="392.3" y2="53.3" stroke="#555" stroke-width="0.9"/>
<line x1="391" y1="70.7" x2="392.3" y2="70.7" stroke="#555" stroke-width="0.9"/>
<line x1="391" y1="88.1" x2="392.3" y2="88.1" stroke="#555" stroke-width="0.9"/>
<line x1="391" y1="105.5" x2="392.3" y2="105.5" stroke="#555" stroke-width="0.9"/>
<line x1="391" y1="122.9" x2="392.3" y2="122.9" stroke="#555" stroke-width="0.9"/>
<path d="M543.4,71.05 C541.72,72.09 537.52,76.04 533.33,77.31 C529.13,78.59 523.25,78.07 518.22,78.7 C513.18,79.34 506.88,80.33 503.11,81.14 C499.33,81.95 497.48,82.59 495.55,83.58 C493.62,84.56 492.53,86.13 491.52,87.06 C490.51,87.98 490.26,89.26 489.51,89.14 C488.75,89.03 488.08,87.23 486.99,86.36 C485.9,85.49 484.89,84.39 482.96,83.92 C481.03,83.46 477.25,83.29 475.4,83.58 C473.56,83.87 473.14,84.27 471.88,85.66 C470.62,87.06 469.03,91 467.85,91.93 C466.67,92.86 466.17,90.3 464.83,91.23 C463.48,92.16 461.47,95.81 459.79,97.5 C458.11,99.18 456.35,100.11 454.75,101.32 C453.16,102.54 451.82,103.76 450.22,104.8 C448.63,105.85 446.86,107.01 445.19,107.59 C443.51,108.17 441.83,107.7 440.15,108.28 C438.47,108.86 436.79,110.37 435.11,111.07 C433.43,111.76 431.75,111.88 430.07,112.46 C428.4,113.04 426.72,113.39 425.04,114.55 C423.36,115.71 421.85,118.14 420,119.42 C418.15,120.7 415.64,122.9 413.96,122.2 C412.28,121.51 411.44,116.93 409.93,115.24 C408.42,113.56 406.57,112.34 404.89,112.11 C403.21,111.88 401.53,112.81 399.86,113.85 C398.18,114.9 395.91,116.58 394.82,118.38 C393.73,120.17 393.73,122.44 393.31,124.64 C392.89,126.84 392.38,135.66 392.3,131.6 C392.22,127.54 392.47,108.98 392.8,100.28 C393.14,91.58 393.73,83.58 394.31,79.4 C394.9,75.22 395.66,76.04 396.33,75.22 C397,74.41 397.34,74.59 398.34,74.53 C399.35,74.47 399.18,74.76 402.37,74.88 C405.56,74.99 410.77,75.05 417.48,75.22 C424.2,75.4 435.95,75.8 442.67,75.92 C449.38,76.04 454,76.15 457.78,75.92 C461.55,75.69 463.48,75.98 465.33,74.53 C467.18,73.08 467.93,71.63 468.86,67.22 C469.78,62.81 470.12,56.9 470.87,48.08 C471.63,39.26 472.55,14.32 473.39,14.32 C474.23,14.32 475.15,38.97 475.91,48.08 C476.66,57.19 476.92,64.78 477.92,68.96 C478.93,73.14 480.44,72.38 481.95,73.14 C483.46,73.89 485.56,73.72 486.99,73.48 C488.42,73.25 489.51,71.63 490.51,71.74 C491.52,71.86 491.94,74.06 493.03,74.18 C494.12,74.3 495.89,74.47 497.06,72.44 C498.24,70.41 499.25,65.02 500.08,62 C500.92,58.98 501.43,54.05 502.1,54.34 C502.77,54.63 503.27,60.55 504.11,63.74 C504.95,66.93 505.62,71.57 507.14,73.48 C508.65,75.4 508.81,75.05 513.18,75.22 C517.55,75.4 528.29,75.22 533.33,74.53 C538.36,73.83 541.72,71.63 543.4,71.05" fill="none" stroke="#b03cf0" stroke-width="1.3" stroke-linejoin="round" stroke-linecap="round" clip-path="url(#cc)"/>
<path d="M543.4,71.74 C541.72,72.67 537.52,76.15 533.33,77.31 C529.13,78.47 523.25,77.95 518.22,78.7 C513.18,79.46 506.88,80.85 503.11,81.84 C499.33,82.82 497.48,83.4 495.55,84.62 C493.62,85.84 492.53,87.93 491.52,89.14 C490.51,90.36 490.26,92.1 489.51,91.93 C488.75,91.75 488.08,89.32 486.99,88.1 C485.9,86.88 484.89,85.26 482.96,84.62 C481.03,83.98 477.5,83.69 475.4,84.27 C473.31,84.85 471.63,87 470.37,88.1 C469.11,89.2 468.77,90.71 467.85,90.88 C466.93,91.06 466.17,89.09 464.83,89.14 C463.48,89.2 461.47,91.23 459.79,91.23 C458.11,91.23 456.35,88.51 454.75,89.14 C453.16,89.78 451.82,93.15 450.22,95.06 C448.63,96.97 446.95,100.4 445.19,100.63 C443.42,100.86 442.16,96.63 439.64,96.45 C437.13,96.28 433.35,98.66 430.07,99.58 C426.8,100.51 423.36,101.56 420,102.02 C416.64,102.48 412.87,102.08 409.93,102.37 C406.99,102.66 404.72,102.66 402.37,103.76 C400.02,104.86 397.34,106.95 395.83,108.98 C394.31,111.01 393.89,112.75 393.31,115.94 C392.72,119.13 392.38,131.31 392.3,128.12 C392.22,124.93 392.47,104.92 392.8,96.8 C393.14,88.68 393.73,83.46 394.31,79.4 C394.9,75.34 395.74,74.18 396.33,72.44 C396.92,70.7 397.25,68.84 397.84,68.96 C398.43,69.08 398.26,72.27 399.86,73.14 C401.45,74.01 400.27,73.83 407.41,74.18 C414.55,74.53 434.27,75.05 442.67,75.22 C451.06,75.4 454,75.4 457.78,75.22 C461.55,75.05 463.48,75.22 465.33,74.18 C467.18,73.14 467.85,72.15 468.86,68.96 C469.86,65.77 470.62,60.26 471.38,55.04 C472.13,49.82 472.72,37.64 473.39,37.64 C474.06,37.64 474.65,49.82 475.4,55.04 C476.16,60.26 476.66,65.77 477.92,68.96 C479.18,72.15 480.86,73.19 482.96,74.18 C485.06,75.17 488.16,75.17 490.51,74.88 C492.87,74.59 495.47,74.3 497.06,72.44 C498.66,70.58 499.25,66.29 500.08,63.74 C500.92,61.19 501.43,56.84 502.1,57.13 C502.77,57.42 503.27,62.75 504.11,65.48 C504.95,68.21 505.62,71.86 507.14,73.48 C508.65,75.11 508.81,75.05 513.18,75.22 C517.55,75.4 528.29,75.11 533.33,74.53 C538.36,73.95 541.72,72.21 543.4,71.74" fill="none" stroke="#18b4f0" stroke-width="1.3" stroke-linejoin="round" stroke-linecap="round" clip-path="url(#cc)"/>
<path d="M543.4,71.4 C541.72,72.38 537.52,76.09 533.33,77.31 C529.13,78.53 523.25,77.98 518.22,78.7 C513.18,79.43 506.88,80.79 503.11,81.66 C499.33,82.53 497.48,82.85 495.55,83.92 C493.62,85 492.53,86.94 491.52,88.1 C490.51,89.26 490.26,91 489.51,90.88 C488.75,90.77 488.08,88.45 486.99,87.4 C485.9,86.36 484.89,85.14 482.96,84.62 C481.03,84.1 477.5,83.81 475.4,84.27 C473.31,84.74 471.63,86.48 470.37,87.4 C469.11,88.33 468.69,89.84 467.85,89.84 C467.01,89.84 466.67,88.04 465.33,87.4 C463.99,86.77 461.55,86.07 459.79,86.01 C458.03,85.95 457.19,86.3 454.75,87.06 C452.32,87.81 448.46,89.2 445.19,90.54 C441.91,91.87 437.63,93.73 435.11,95.06 C432.59,96.39 432.59,97.79 430.07,98.54 C427.56,99.29 423.36,99.18 420,99.58 C416.64,99.99 413.29,100.16 409.93,100.98 C406.57,101.79 402.21,103.3 399.86,104.46 C397.5,105.62 396.92,106.31 395.83,107.94 C394.73,109.56 393.89,111.13 393.31,114.2 C392.72,117.27 392.38,129.28 392.3,126.38 C392.22,123.48 392.55,104.63 392.8,96.8 C393.06,88.97 393.31,83.75 393.81,79.4 C394.31,75.05 395.15,72.67 395.83,70.7 C396.5,68.73 397.25,67.39 397.84,67.57 C398.43,67.74 398.76,70.7 399.35,71.74 C399.94,72.79 398.34,73.43 401.37,73.83 C404.39,74.24 410.6,73.95 417.48,74.18 C424.37,74.41 435.95,74.99 442.67,75.22 C449.38,75.46 454,75.69 457.78,75.57 C461.55,75.46 463.48,75.34 465.33,74.53 C467.18,73.72 467.85,72.79 468.86,70.7 C469.86,68.61 470.62,64.73 471.38,62 C472.13,59.27 472.63,54.34 473.39,54.34 C474.15,54.34 474.99,59.45 475.91,62 C476.83,64.55 477.76,67.68 478.93,69.66 C480.11,71.63 481.03,72.96 482.96,73.83 C484.89,74.7 488.16,75.11 490.51,74.88 C492.87,74.64 495.47,74.01 497.06,72.44 C498.66,70.87 499.25,67.51 500.08,65.48 C500.92,63.45 501.43,59.97 502.1,60.26 C502.77,60.55 503.27,64.9 504.11,67.22 C504.95,69.54 504.79,72.79 507.14,74.18 C509.49,75.57 513.85,75.51 518.22,75.57 C522.58,75.63 529.13,75.22 533.33,74.53 C537.52,73.83 541.72,71.92 543.4,71.4" fill="none" stroke="#28e028" stroke-width="1.3" stroke-linejoin="round" stroke-linecap="round" clip-path="url(#cc)"/>
<path d="M392.3,124.64 C392.38,120 392.55,104.34 392.8,96.8 C393.06,89.26 393.31,83.75 393.81,79.4 C394.31,75.05 395.15,72.85 395.83,70.7 C396.5,68.55 397.25,66.58 397.84,66.52 C398.43,66.47 398.76,69.42 399.35,70.35 C399.94,71.28 400.02,71.74 401.37,72.09 C402.71,72.44 403.88,72.38 407.41,72.44 C410.94,72.5 417.48,72.32 422.52,72.44 C427.56,72.56 433.01,72.9 437.63,73.14 C442.25,73.37 446.86,73.72 450.22,73.83 C453.58,73.95 455.26,74.06 457.78,73.83 C460.29,73.6 463.48,72.96 465.33,72.44 C467.18,71.92 467.85,71.63 468.86,70.7 C469.86,69.77 470.54,68.9 471.38,66.87 C472.22,64.84 473.05,59.56 473.89,58.52 C474.73,57.48 475.57,58.87 476.41,60.61 C477.25,62.35 477.84,66.87 478.93,68.96 C480.02,71.05 481.45,72.15 482.96,73.14 C484.47,74.12 485.9,74.64 488,74.88 C490.1,75.11 493.7,75.22 495.55,74.53 C497.4,73.83 497.99,72.27 499.08,70.7 C500.17,69.13 501.18,65.13 502.1,65.13 C503.02,65.13 503.61,69.19 504.62,70.7 C505.62,72.21 505.88,73.6 508.14,74.18 C510.41,74.76 514.02,74.35 518.22,74.18 C522.41,74.01 529.55,73.48 533.33,73.14 C537.1,72.79 539.2,72.44 540.88,72.09 C542.56,71.74 543.23,70.53 543.4,71.05 C543.57,71.57 543.57,74.47 541.89,75.22 C540.21,75.98 537.27,75.28 533.33,75.57 C529.38,75.86 523.25,76.27 518.22,76.96 C513.18,77.66 506.88,78.65 503.11,79.75 C499.33,80.85 497.48,82.36 495.55,83.58 C493.62,84.79 492.53,86.01 491.52,87.06 C490.51,88.1 490.26,89.84 489.51,89.84 C488.75,89.84 488.08,87.93 486.99,87.06 C485.9,86.19 484.89,85.08 482.96,84.62 C481.03,84.16 477.08,84.21 475.4,84.27 C473.73,84.33 473.73,84.5 472.89,84.97 C472.05,85.43 471.21,86.36 470.37,87.06 C469.53,87.75 468.69,89.14 467.85,89.14 C467.01,89.14 466.67,87.98 465.33,87.06 C463.99,86.13 461.55,83.98 459.79,83.58 C458.03,83.17 457.19,83.87 454.75,84.62 C452.32,85.37 448.46,86.82 445.19,88.1 C441.91,89.38 437.63,91.12 435.11,92.28 C432.59,93.44 432.59,94.42 430.07,95.06 C427.56,95.7 423.36,95.64 420,96.1 C416.64,96.57 413.29,96.8 409.93,97.84 C406.57,98.89 402.21,100.8 399.86,102.37 C397.5,103.93 396.92,105.27 395.83,107.24 C394.73,109.21 393.89,111.3 393.31,114.2 C392.72,117.1 392.47,122.9 392.3,124.64" fill="none" stroke="#f2f020" stroke-width="1.3" stroke-linejoin="round" stroke-linecap="round" clip-path="url(#cc)"/>
<path d="M392.3,124.64 C392.38,120 392.55,104.34 392.8,96.8 C393.06,89.26 393.31,83.75 393.81,79.4 C394.31,75.05 395.15,72.85 395.83,70.7 C396.5,68.55 397.25,66.58 397.84,66.52 C398.43,66.47 398.76,69.37 399.35,70.35 C399.94,71.34 400.02,72.03 401.37,72.44 C402.71,72.85 403.88,72.73 407.41,72.79 C410.94,72.85 417.48,72.67 422.52,72.79 C427.56,72.9 433.01,73.25 437.63,73.48 C442.25,73.72 446.86,74.06 450.22,74.18 C453.58,74.3 455.26,74.41 457.78,74.18 C460.29,73.95 463.48,73.31 465.33,72.79 C467.18,72.27 467.85,72.03 468.86,71.05 C469.86,70.06 470.54,68.5 471.38,66.87 C472.22,65.25 473.05,61.93 473.89,61.3 C474.73,60.68 475.57,61.84 476.41,63.11 C477.25,64.39 477.84,67.23 478.93,68.96 C480.02,70.69 481.45,72.44 482.96,73.48 C484.47,74.53 485.9,74.99 488,75.22 C490.1,75.46 493.7,75.63 495.55,74.88 C497.4,74.12 497.99,72.32 499.08,70.7 C500.17,69.08 501.18,65.13 502.1,65.13 C503.02,65.13 503.61,69.13 504.62,70.7 C505.62,72.27 505.88,73.89 508.14,74.53 C510.41,75.17 514.02,74.7 518.22,74.53 C522.41,74.35 529.55,73.89 533.33,73.48 C537.1,73.08 539.2,72.5 540.88,72.09 C542.56,71.69 543.23,70.53 543.4,71.05 C543.57,71.57 543.57,74.3 541.89,75.22 C540.21,76.15 537.27,76.15 533.33,76.62 C529.38,77.08 523.25,77.31 518.22,78.01 C513.18,78.7 506.88,79.86 503.11,80.79 C499.33,81.72 497.48,82.53 495.55,83.58 C493.62,84.62 492.53,86.01 491.52,87.06 C490.51,88.1 490.26,89.84 489.51,89.84 C488.75,89.84 488.08,87.93 486.99,87.06 C485.9,86.19 484.89,85.08 482.96,84.62 C481.03,84.16 477.08,84.21 475.4,84.27 C473.73,84.33 473.73,84.5 472.89,84.97 C472.05,85.43 471.21,86.36 470.37,87.06 C469.53,87.75 468.69,89.14 467.85,89.14 C467.01,89.14 466.67,87.81 465.33,87.06 C463.99,86.3 461.55,84.85 459.79,84.62 C458.03,84.39 457.19,84.91 454.75,85.66 C452.32,86.42 448.46,87.87 445.19,89.14 C441.91,90.42 437.63,92.16 435.11,93.32 C432.59,94.48 432.59,95.47 430.07,96.1 C427.56,96.74 423.36,96.68 420,97.15 C416.64,97.61 413.29,97.84 409.93,98.89 C406.57,99.93 402.21,102.02 399.86,103.41 C397.5,104.8 396.92,105.44 395.83,107.24 C394.73,109.04 393.89,111.3 393.31,114.2 C392.72,117.1 392.47,122.9 392.3,124.64" fill="none" stroke="#ff5c3c" stroke-width="1.3" stroke-linejoin="round" stroke-linecap="round" clip-path="url(#cc)"/>
<path d="M392.3,124.64 C392.38,120 392.55,104.34 392.8,96.8 C393.06,89.26 393.31,83.75 393.81,79.4 C394.31,75.05 395.15,72.85 395.83,70.7 C396.5,68.55 397.25,66.58 397.84,66.52 C398.43,66.47 398.76,69.34 399.35,70.35 C399.94,71.37 400.02,72.18 401.37,72.61 C402.71,73.05 403.88,72.9 407.41,72.96 C410.94,73.02 417.48,72.85 422.52,72.96 C427.56,73.08 433.01,73.43 437.63,73.66 C442.25,73.89 446.86,74.24 450.22,74.35 C453.58,74.47 455.26,74.59 457.78,74.35 C460.29,74.12 463.48,73.48 465.33,72.96 C467.18,72.44 467.85,72.24 468.86,71.22 C469.86,70.21 470.54,68.35 471.38,66.87 C472.22,65.39 473.05,62.82 473.89,62.35 C474.73,61.88 475.57,62.95 476.41,64.05 C477.25,65.16 477.84,67.36 478.93,68.96 C480.02,70.56 481.45,72.58 482.96,73.66 C484.47,74.73 485.9,75.17 488,75.4 C490.1,75.63 493.7,75.83 495.55,75.05 C497.4,74.27 497.99,72.35 499.08,70.7 C500.17,69.05 501.18,65.13 502.1,65.13 C503.02,65.13 503.61,69.1 504.62,70.7 C505.62,72.29 505.88,74.03 508.14,74.7 C510.41,75.37 514.02,74.88 518.22,74.7 C522.41,74.53 529.55,74.09 533.33,73.66 C537.1,73.22 539.2,72.53 540.88,72.09 C542.56,71.66 543.23,70.53 543.4,71.05 C543.57,71.57 543.57,74.18 541.89,75.22 C540.21,76.27 537.27,76.73 533.33,77.31 C529.38,77.89 523.25,78.01 518.22,78.7 C513.18,79.4 506.88,80.68 503.11,81.49 C499.33,82.3 497.48,82.65 495.55,83.58 C493.62,84.5 492.53,86.01 491.52,87.06 C490.51,88.1 490.26,89.84 489.51,89.84 C488.75,89.84 488.08,87.93 486.99,87.06 C485.9,86.19 484.89,85.08 482.96,84.62 C481.03,84.16 477.08,84.21 475.4,84.27 C473.73,84.33 473.73,84.5 472.89,84.97 C472.05,85.43 471.21,86.36 470.37,87.06 C469.53,87.75 468.69,89.14 467.85,89.14 C467.01,89.14 466.67,87.69 465.33,87.06 C463.99,86.42 461.55,85.43 459.79,85.32 C458.03,85.2 457.19,85.61 454.75,86.36 C452.32,87.11 448.46,88.56 445.19,89.84 C441.91,91.12 437.63,92.86 435.11,94.02 C432.59,95.18 432.59,96.16 430.07,96.8 C427.56,97.44 423.36,97.38 420,97.84 C416.64,98.31 413.29,98.54 409.93,99.58 C406.57,100.63 402.21,102.83 399.86,104.11 C397.5,105.38 396.92,105.56 395.83,107.24 C394.73,108.92 393.89,111.3 393.31,114.2 C392.72,117.1 392.47,122.9 392.3,124.64" fill="none" stroke="#ff3030" stroke-width="1.3" stroke-linejoin="round" stroke-linecap="round" clip-path="url(#cc)"/>
<path d="M392.3,124.64 C392.38,120 392.55,104.34 392.8,96.8 C393.06,89.26 393.31,83.75 393.81,79.4 C394.31,75.05 395.15,72.85 395.83,70.7 C396.5,68.55 397.25,66.58 397.84,66.52 C398.43,66.47 398.76,69.31 399.35,70.35 C399.94,71.4 400.02,72.32 401.37,72.79 C402.71,73.25 403.88,73.08 407.41,73.14 C410.94,73.19 417.48,73.02 422.52,73.14 C427.56,73.25 433.01,73.6 437.63,73.83 C442.25,74.06 446.86,74.41 450.22,74.53 C453.58,74.64 455.26,74.76 457.78,74.53 C460.29,74.3 463.48,73.66 465.33,73.14 C467.18,72.61 467.85,72.44 468.86,71.4 C469.86,70.35 470.54,68.26 471.38,66.87 C472.22,65.48 473.05,63.41 473.89,63.04 C474.73,62.68 475.57,63.69 476.41,64.68 C477.25,65.67 477.84,67.43 478.93,68.96 C480.02,70.49 481.45,72.73 482.96,73.83 C484.47,74.93 485.9,75.34 488,75.57 C490.1,75.8 493.7,76.04 495.55,75.22 C497.4,74.41 497.99,72.38 499.08,70.7 C500.17,69.02 501.18,65.13 502.1,65.13 C503.02,65.13 503.61,69.08 504.62,70.7 C505.62,72.32 505.88,74.18 508.14,74.88 C510.41,75.57 514.02,75.05 518.22,74.88 C522.41,74.7 529.55,74.3 533.33,73.83 C537.1,73.37 539.2,72.56 540.88,72.09 C542.56,71.63 543.23,70.53 543.4,71.05 C543.57,71.57 543.57,74.06 541.89,75.22 C540.21,76.38 537.27,77.31 533.33,78.01 C529.38,78.7 523.25,78.7 518.22,79.4 C513.18,80.1 506.88,81.49 503.11,82.18 C499.33,82.88 497.48,82.76 495.55,83.58 C493.62,84.39 492.53,86.01 491.52,87.06 C490.51,88.1 490.26,89.84 489.51,89.84 C488.75,89.84 488.08,87.93 486.99,87.06 C485.9,86.19 484.89,85.08 482.96,84.62 C481.03,84.16 477.08,84.21 475.4,84.27 C473.73,84.33 473.73,84.5 472.89,84.97 C472.05,85.43 471.21,86.36 470.37,87.06 C469.53,87.75 468.69,89.14 467.85,89.14 C467.01,89.14 466.67,87.58 465.33,87.06 C463.99,86.53 461.55,86.01 459.79,86.01 C458.03,86.01 457.19,86.3 454.75,87.06 C452.32,87.81 448.46,89.26 445.19,90.54 C441.91,91.81 437.63,93.55 435.11,94.71 C432.59,95.87 432.59,96.86 430.07,97.5 C427.56,98.13 423.36,98.08 420,98.54 C416.64,99 413.29,99.24 409.93,100.28 C406.57,101.32 402.21,103.64 399.86,104.8 C397.5,105.96 396.92,105.67 395.83,107.24 C394.73,108.81 393.89,111.3 393.31,114.2 C392.72,117.1 392.47,122.9 392.3,124.64" fill="none" stroke="#d41c1c" stroke-width="1.3" stroke-linejoin="round" stroke-linecap="round" clip-path="url(#cc)"/>
<line x1="518" y1="14.3" x2="530" y2="14.3" stroke="#b03cf0" stroke-width="1.4"/>
<text x="531.2" y="16.5" font-size="6" fill="#444" textLength="7.05" lengthAdjust="spacingAndGlyphs">1st</text>
<line x1="518" y1="20.6" x2="530" y2="20.6" stroke="#18b4f0" stroke-width="1.4"/>
<text x="531.2" y="22.8" font-size="6" fill="#444" textLength="7.05" lengthAdjust="spacingAndGlyphs">2nd</text>
<line x1="518" y1="26.9" x2="530" y2="26.9" stroke="#28e028" stroke-width="1.4"/>
<text x="531.2" y="29.1" font-size="6" fill="#444" textLength="7.05" lengthAdjust="spacingAndGlyphs">3rd</text>
<line x1="518" y1="33.2" x2="530" y2="33.2" stroke="#f2f020" stroke-width="1.4"/>
<text x="531.2" y="35.4" font-size="6" fill="#444" textLength="7.05" lengthAdjust="spacingAndGlyphs">4th</text>
<line x1="518" y1="39.5" x2="530" y2="39.5" stroke="#ff5c3c" stroke-width="1.4"/>
<text x="531.2" y="41.7" font-size="6" fill="#444" textLength="7.05" lengthAdjust="spacingAndGlyphs">5th</text>
<line x1="518" y1="45.8" x2="530" y2="45.8" stroke="#ff3030" stroke-width="1.4"/>
<text x="531.2" y="48" font-size="6" fill="#444" textLength="9.4" lengthAdjust="spacingAndGlyphs">10th</text>
<line x1="518" y1="52.1" x2="530" y2="52.1" stroke="#d41c1c" stroke-width="1.4"/>
<text x="531.2" y="54.3" font-size="6" fill="#444" textLength="9.4" lengthAdjust="spacingAndGlyphs">20th</text>
<text x="395.7" y="20.6" font-size="10.2" fill="#2a2a2a" stroke="#2a2a2a" stroke-width="0.3">(c) Cu<tspan font-size="6.5" dy="2">2</tspan><tspan dy="-2">S/PG</tspan></text>
<text transform="translate(374.2,69.5) rotate(-90)" text-anchor="middle" font-size="7.7" fill="#333">Current (mA)</text>
<text x="434.2" y="149.3" font-size="7.3" fill="#333">Potential (V<tspan font-size="5.5">vs.</tspan><tspan font-size="6.7">Na/Na</tspan><tspan font-size="4.5" dy="-2.6">+</tspan><tspan dy="2.6">)</tspan></text>
<line x1="87.2" y1="166.7" x2="87.2" y2="328.5" stroke="#d8d8d8" stroke-width="0.6" stroke-dasharray="1,1"/>
<line x1="120.8" y1="166.7" x2="120.8" y2="328.5" stroke="#d8d8d8" stroke-width="0.6" stroke-dasharray="1,1"/>
<line x1="154.4" y1="166.7" x2="154.4" y2="328.5" stroke="#d8d8d8" stroke-width="0.6" stroke-dasharray="1,1"/>
<line x1="188" y1="166.7" x2="188" y2="328.5" stroke="#d8d8d8" stroke-width="0.6" stroke-dasharray="1,1"/>
<line x1="221.6" y1="166.7" x2="221.6" y2="328.5" stroke="#d8d8d8" stroke-width="0.6" stroke-dasharray="1,1"/>
<rect x="54" y="166.7" width="201" height="161.8" fill="none" stroke="#555" stroke-width="1.2"/>
<line x1="53.6" y1="328.5" x2="53.6" y2="330.9" stroke="#444" stroke-width="1"/>
<text x="53.6" y="340.5" text-anchor="middle" font-size="9" font-weight="bold" fill="#1a1a1a" textLength="4.5" lengthAdjust="spacingAndGlyphs">0</text>
<line x1="70.4" y1="328.5" x2="70.4" y2="329.9" stroke="#444" stroke-width="1"/>
<line x1="87.2" y1="328.5" x2="87.2" y2="330.9" stroke="#444" stroke-width="1"/>
<text x="87.2" y="340.5" text-anchor="middle" font-size="9" font-weight="bold" fill="#1a1a1a" textLength="9" lengthAdjust="spacingAndGlyphs">10</text>
<line x1="104" y1="328.5" x2="104" y2="329.9" stroke="#444" stroke-width="1"/>
<line x1="120.8" y1="328.5" x2="120.8" y2="330.9" stroke="#444" stroke-width="1"/>
<text x="120.8" y="340.5" text-anchor="middle" font-size="9" font-weight="bold" fill="#1a1a1a" textLength="9" lengthAdjust="spacingAndGlyphs">20</text>
<line x1="137.6" y1="328.5" x2="137.6" y2="329.9" stroke="#444" stroke-width="1"/>
<line x1="154.4" y1="328.5" x2="154.4" y2="330.9" stroke="#444" stroke-width="1"/>
<text x="154.4" y="340.5" text-anchor="middle" font-size="9" font-weight="bold" fill="#1a1a1a" textLength="9" lengthAdjust="spacingAndGlyphs">30</text>
<line x1="171.2" y1="328.5" x2="171.2" y2="329.9" stroke="#444" stroke-width="1"/>
<line x1="188" y1="328.5" x2="188" y2="330.9" stroke="#444" stroke-width="1"/>
<text x="188" y="340.5" text-anchor="middle" font-size="9" font-weight="bold" fill="#1a1a1a" textLength="9" lengthAdjust="spacingAndGlyphs">40</text>
<line x1="204.8" y1="328.5" x2="204.8" y2="329.9" stroke="#444" stroke-width="1"/>
<line x1="221.6" y1="328.5" x2="221.6" y2="330.9" stroke="#444" stroke-width="1"/>
<text x="221.6" y="340.5" text-anchor="middle" font-size="9" font-weight="bold" fill="#1a1a1a" textLength="9" lengthAdjust="spacingAndGlyphs">50</text>
<line x1="238.4" y1="328.5" x2="238.4" y2="329.9" stroke="#444" stroke-width="1"/>
<line x1="255.2" y1="328.5" x2="255.2" y2="330.9" stroke="#444" stroke-width="1"/>
<text x="255.2" y="340.5" text-anchor="middle" font-size="9" font-weight="bold" fill="#1a1a1a" textLength="9" lengthAdjust="spacingAndGlyphs">60</text>
<line x1="51.6" y1="328.5" x2="54" y2="328.5" stroke="#444" stroke-width="1"/>
<text x="49.5" y="331.4" text-anchor="end" font-size="8.7" font-weight="bold" fill="#1a1a1a" textLength="4.45" lengthAdjust="spacingAndGlyphs">0</text>
<line x1="52.6" y1="312.33" x2="54" y2="312.33" stroke="#444" stroke-width="1"/>
<line x1="51.6" y1="296.16" x2="54" y2="296.16" stroke="#444" stroke-width="1"/>
<text x="49.5" y="299.06" text-anchor="end" font-size="8.7" font-weight="bold" fill="#1a1a1a" textLength="13.35" lengthAdjust="spacingAndGlyphs">200</text>
<line x1="52.6" y1="279.99" x2="54" y2="279.99" stroke="#444" stroke-width="1"/>
<line x1="51.6" y1="263.82" x2="54" y2="263.82" stroke="#444" stroke-width="1"/>
<text x="49.5" y="266.72" text-anchor="end" font-size="8.7" font-weight="bold" fill="#1a1a1a" textLength="13.35" lengthAdjust="spacingAndGlyphs">400</text>
<line x1="52.6" y1="247.65" x2="54" y2="247.65" stroke="#444" stroke-width="1"/>
<line x1="51.6" y1="231.48" x2="54" y2="231.48" stroke="#444" stroke-width="1"/>
<text x="49.5" y="234.38" text-anchor="end" font-size="8.7" font-weight="bold" fill="#1a1a1a" textLength="13.35" lengthAdjust="spacingAndGlyphs">600</text>
<line x1="52.6" y1="215.31" x2="54" y2="215.31" stroke="#444" stroke-width="1"/>
<line x1="51.6" y1="199.14" x2="54" y2="199.14" stroke="#444" stroke-width="1"/>
<text x="49.5" y="202.04" text-anchor="end" font-size="8.7" font-weight="bold" fill="#1a1a1a" textLength="13.35" lengthAdjust="spacingAndGlyphs">800</text>
<line x1="52.6" y1="182.97" x2="54" y2="182.97" stroke="#444" stroke-width="1"/>
<line x1="51.6" y1="166.8" x2="54" y2="166.8" stroke="#444" stroke-width="1"/>
<text x="49.5" y="169.7" text-anchor="end" font-size="8.7" font-weight="bold" fill="#1a1a1a" textLength="17.8" lengthAdjust="spacingAndGlyphs">1000</text>
<defs>
<radialGradient id="gcusc" cx="0.38" cy="0.35" r="0.7"><stop offset="0" stop-color="#fff" stop-opacity="0.22"/><stop offset="0.5" stop-color="#f0207a" stop-opacity="1"/><stop offset="1" stop-color="#f0207a"/></radialGradient>
<radialGradient id="gcusd" cx="0.38" cy="0.35" r="0.7"><stop offset="0" stop-color="#fff" stop-opacity="0.22"/><stop offset="0.5" stop-color="#ff4040" stop-opacity="1"/><stop offset="1" stop-color="#ff4040"/></radialGradient>
<radialGradient id="gpgc" cx="0.38" cy="0.35" r="0.7"><stop offset="0" stop-color="#fff" stop-opacity="0.22"/><stop offset="0.5" stop-color="#18d838" stop-opacity="1"/><stop offset="1" stop-color="#18d838"/></radialGradient>
<radialGradient id="gpgd" cx="0.38" cy="0.35" r="0.7"><stop offset="0" stop-color="#fff" stop-opacity="0.22"/><stop offset="0.5" stop-color="#16a068" stop-opacity="1"/><stop offset="1" stop-color="#16a068"/></radialGradient>
<radialGradient id="gcu2sc" cx="0.38" cy="0.35" r="0.7"><stop offset="0" stop-color="#fff" stop-opacity="0.22"/><stop offset="0.5" stop-color="#c880e8" stop-opacity="1"/><stop offset="1" stop-color="#c880e8"/></radialGradient>
<radialGradient id="gcu2sd" cx="0.38" cy="0.35" r="0.7"><stop offset="0" stop-color="#fff" stop-opacity="0.22"/><stop offset="0.5" stop-color="#a828f0" stop-opacity="1"/><stop offset="1" stop-color="#a828f0"/></radialGradient>
</defs>
<circle cx="56.96" cy="290.66" r="2.0" fill="url(#gcusc)"/>
<circle cx="60.32" cy="290.99" r="2.0" fill="url(#gcusc)"/>
<circle cx="63.68" cy="291.67" r="2.0" fill="url(#gcusc)"/>
<circle cx="67.04" cy="292.36" r="2.0" fill="url(#gcusc)"/>
<circle cx="70.4" cy="293.05" r="2.0" fill="url(#gcusc)"/>
<circle cx="73.76" cy="293.73" r="2.0" fill="url(#gcusc)"/>
<circle cx="77.12" cy="294.42" r="2.0" fill="url(#gcusc)"/>
<circle cx="80.48" cy="295.11" r="2.0" fill="url(#gcusc)"/>
<circle cx="83.84" cy="295.8" r="2.0" fill="url(#gcusc)"/>
<circle cx="87.2" cy="296.48" r="2.0" fill="url(#gcusc)"/>
<circle cx="90.56" cy="303.44" r="2.0" fill="url(#gcusc)"/>
<circle cx="93.92" cy="303.92" r="2.0" fill="url(#gcusc)"/>
<circle cx="97.28" cy="304.04" r="2.0" fill="url(#gcusc)"/>
<circle cx="100.64" cy="304.16" r="2.0" fill="url(#gcusc)"/>
<circle cx="104" cy="304.29" r="2.0" fill="url(#gcusc)"/>
<circle cx="107.36" cy="304.41" r="2.0" fill="url(#gcusc)"/>
<circle cx="110.72" cy="304.53" r="2.0" fill="url(#gcusc)"/>
<circle cx="114.08" cy="304.65" r="2.0" fill="url(#gcusc)"/>
<circle cx="117.44" cy="304.77" r="2.0" fill="url(#gcusc)"/>
<circle cx="120.8" cy="304.89" r="2.0" fill="url(#gcusc)"/>
<circle cx="124.16" cy="310.23" r="2.0" fill="url(#gcusc)"/>
<circle cx="127.52" cy="310.39" r="2.0" fill="url(#gcusc)"/>
<circle cx="130.88" cy="310.47" r="2.0" fill="url(#gcusc)"/>
<circle cx="134.24" cy="310.55" r="2.0" fill="url(#gcusc)"/>
<circle cx="137.6" cy="310.63" r="2.0" fill="url(#gcusc)"/>
<circle cx="140.96" cy="310.71" r="2.0" fill="url(#gcusc)"/>
<circle cx="144.32" cy="310.79" r="2.0" fill="url(#gcusc)"/>
<circle cx="147.68" cy="310.87" r="2.0" fill="url(#gcusc)"/>
<circle cx="151.04" cy="310.96" r="2.0" fill="url(#gcusc)"/>
<circle cx="154.4" cy="311.04" r="2.0" fill="url(#gcusc)"/>
<circle cx="157.76" cy="313.62" r="2.0" fill="url(#gcusc)"/>
<circle cx="161.12" cy="313.62" r="2.0" fill="url(#gcusc)"/>
<circle cx="164.48" cy="313.7" r="2.0" fill="url(#gcusc)"/>
<circle cx="167.84" cy="313.79" r="2.0" fill="url(#gcusc)"/>
<circle cx="171.2" cy="313.87" r="2.0" fill="url(#gcusc)"/>
<circle cx="174.56" cy="313.95" r="2.0" fill="url(#gcusc)"/>
<circle cx="177.92" cy="314.03" r="2.0" fill="url(#gcusc)"/>
<circle cx="181.28" cy="314.11" r="2.0" fill="url(#gcusc)"/>
<circle cx="184.64" cy="314.19" r="2.0" fill="url(#gcusc)"/>
<circle cx="188" cy="314.27" r="2.0" fill="url(#gcusc)"/>
<circle cx="191.36" cy="316.53" r="2.0" fill="url(#gcusc)"/>
<circle cx="194.72" cy="316.53" r="2.0" fill="url(#gcusc)"/>
<circle cx="198.08" cy="316.59" r="2.0" fill="url(#gcusc)"/>
<circle cx="201.44" cy="316.66" r="2.0" fill="url(#gcusc)"/>
<circle cx="204.8" cy="316.72" r="2.0" fill="url(#gcusc)"/>
<circle cx="208.16" cy="316.78" r="2.0" fill="url(#gcusc)"/>
<circle cx="211.52" cy="316.84" r="2.0" fill="url(#gcusc)"/>
<circle cx="214.88" cy="316.9" r="2.0" fill="url(#gcusc)"/>
<circle cx="218.24" cy="316.96" r="2.0" fill="url(#gcusc)"/>
<circle cx="221.6" cy="317.02" r="2.0" fill="url(#gcusc)"/>
<circle cx="224.96" cy="294.22" r="2.0" fill="url(#gcusc)"/>
<circle cx="228.32" cy="294.54" r="2.0" fill="url(#gcusc)"/>
<circle cx="231.68" cy="294.79" r="2.0" fill="url(#gcusc)"/>
<circle cx="235.04" cy="295.03" r="2.0" fill="url(#gcusc)"/>
<circle cx="238.4" cy="295.27" r="2.0" fill="url(#gcusc)"/>
<circle cx="241.76" cy="295.51" r="2.0" fill="url(#gcusc)"/>
<circle cx="245.12" cy="295.76" r="2.0" fill="url(#gcusc)"/>
<circle cx="248.48" cy="296" r="2.0" fill="url(#gcusc)"/>
<circle cx="251.84" cy="296.24" r="2.0" fill="url(#gcusc)"/>
<circle cx="255.2" cy="296.48" r="2.0" fill="url(#gcusc)"/>
<circle cx="56.96" cy="282.74" r="2.0" fill="url(#gcusd)"/>
<circle cx="60.32" cy="289.69" r="2.0" fill="url(#gcusd)"/>
<circle cx="63.68" cy="290.5" r="2.0" fill="url(#gcusd)"/>
<circle cx="67.04" cy="291.31" r="2.0" fill="url(#gcusd)"/>
<circle cx="70.4" cy="292.12" r="2.0" fill="url(#gcusd)"/>
<circle cx="73.76" cy="292.93" r="2.0" fill="url(#gcusd)"/>
<circle cx="77.12" cy="293.73" r="2.0" fill="url(#gcusd)"/>
<circle cx="80.48" cy="294.54" r="2.0" fill="url(#gcusd)"/>
<circle cx="83.84" cy="295.35" r="2.0" fill="url(#gcusd)"/>
<circle cx="87.2" cy="296.16" r="2.0" fill="url(#gcusd)"/>
<circle cx="90.56" cy="301.01" r="2.0" fill="url(#gcusd)"/>
<circle cx="93.92" cy="303.44" r="2.0" fill="url(#gcusd)"/>
<circle cx="97.28" cy="303.58" r="2.0" fill="url(#gcusd)"/>
<circle cx="100.64" cy="303.72" r="2.0" fill="url(#gcusd)"/>
<circle cx="104" cy="303.86" r="2.0" fill="url(#gcusd)"/>
<circle cx="107.36" cy="304" r="2.0" fill="url(#gcusd)"/>
<circle cx="110.72" cy="304.14" r="2.0" fill="url(#gcusd)"/>
<circle cx="114.08" cy="304.29" r="2.0" fill="url(#gcusd)"/>
<circle cx="117.44" cy="304.43" r="2.0" fill="url(#gcusd)"/>
<circle cx="120.8" cy="304.57" r="2.0" fill="url(#gcusd)"/>
<circle cx="124.16" cy="308.29" r="2.0" fill="url(#gcusd)"/>
<circle cx="127.52" cy="309.9" r="2.0" fill="url(#gcusd)"/>
<circle cx="130.88" cy="310.01" r="2.0" fill="url(#gcusd)"/>
<circle cx="134.24" cy="310.11" r="2.0" fill="url(#gcusd)"/>
<circle cx="137.6" cy="310.21" r="2.0" fill="url(#gcusd)"/>
<circle cx="140.96" cy="310.31" r="2.0" fill="url(#gcusd)"/>
<circle cx="144.32" cy="310.41" r="2.0" fill="url(#gcusd)"/>
<circle cx="147.68" cy="310.51" r="2.0" fill="url(#gcusd)"/>
<circle cx="151.04" cy="310.61" r="2.0" fill="url(#gcusd)"/>
<circle cx="154.4" cy="310.71" r="2.0" fill="url(#gcusd)"/>
<circle cx="157.76" cy="312.33" r="2.0" fill="url(#gcusd)"/>
<circle cx="161.12" cy="313.14" r="2.0" fill="url(#gcusd)"/>
<circle cx="164.48" cy="313.24" r="2.0" fill="url(#gcusd)"/>
<circle cx="167.84" cy="313.34" r="2.0" fill="url(#gcusd)"/>
<circle cx="171.2" cy="313.44" r="2.0" fill="url(#gcusd)"/>
<circle cx="174.56" cy="313.54" r="2.0" fill="url(#gcusd)"/>
<circle cx="177.92" cy="313.64" r="2.0" fill="url(#gcusd)"/>
<circle cx="181.28" cy="313.74" r="2.0" fill="url(#gcusd)"/>
<circle cx="184.64" cy="313.85" r="2.0" fill="url(#gcusd)"/>
<circle cx="188" cy="313.95" r="2.0" fill="url(#gcusd)"/>
<circle cx="191.36" cy="315.56" r="2.0" fill="url(#gcusd)"/>
<circle cx="194.72" cy="316.05" r="2.0" fill="url(#gcusd)"/>
<circle cx="198.08" cy="316.13" r="2.0" fill="url(#gcusd)"/>
<circle cx="201.44" cy="316.21" r="2.0" fill="url(#gcusd)"/>
<circle cx="204.8" cy="316.29" r="2.0" fill="url(#gcusd)"/>
<circle cx="208.16" cy="316.37" r="2.0" fill="url(#gcusd)"/>
<circle cx="211.52" cy="316.45" r="2.0" fill="url(#gcusd)"/>
<circle cx="214.88" cy="316.53" r="2.0" fill="url(#gcusd)"/>
<circle cx="218.24" cy="316.62" r="2.0" fill="url(#gcusd)"/>
<circle cx="221.6" cy="316.7" r="2.0" fill="url(#gcusd)"/>
<circle cx="224.96" cy="291.96" r="2.0" fill="url(#gcusd)"/>
<circle cx="228.32" cy="294.22" r="2.0" fill="url(#gcusd)"/>
<circle cx="231.68" cy="294.46" r="2.0" fill="url(#gcusd)"/>
<circle cx="235.04" cy="294.7" r="2.0" fill="url(#gcusd)"/>
<circle cx="238.4" cy="294.95" r="2.0" fill="url(#gcusd)"/>
<circle cx="241.76" cy="295.19" r="2.0" fill="url(#gcusd)"/>
<circle cx="245.12" cy="295.43" r="2.0" fill="url(#gcusd)"/>
<circle cx="248.48" cy="295.67" r="2.0" fill="url(#gcusd)"/>
<circle cx="251.84" cy="295.92" r="2.0" fill="url(#gcusd)"/>
<circle cx="255.2" cy="296.16" r="2.0" fill="url(#gcusd)"/>
<circle cx="56.96" cy="247.65" r="2.0" fill="url(#gpgc)"/>
<circle cx="60.32" cy="250.08" r="2.0" fill="url(#gpgc)"/>
<circle cx="63.68" cy="251.27" r="2.0" fill="url(#gpgc)"/>
<circle cx="67.04" cy="252.46" r="2.0" fill="url(#gpgc)"/>
<circle cx="70.4" cy="253.65" r="2.0" fill="url(#gpgc)"/>
<circle cx="73.76" cy="254.85" r="2.0" fill="url(#gpgc)"/>
<circle cx="77.12" cy="256.04" r="2.0" fill="url(#gpgc)"/>
<circle cx="80.48" cy="257.23" r="2.0" fill="url(#gpgc)"/>
<circle cx="83.84" cy="258.42" r="2.0" fill="url(#gpgc)"/>
<circle cx="87.2" cy="259.62" r="2.0" fill="url(#gpgc)"/>
<circle cx="90.56" cy="271.9" r="2.0" fill="url(#gpgc)"/>
<circle cx="93.92" cy="272.39" r="2.0" fill="url(#gpgc)"/>
<circle cx="97.28" cy="272.67" r="2.0" fill="url(#gpgc)"/>
<circle cx="100.64" cy="272.96" r="2.0" fill="url(#gpgc)"/>
<circle cx="104" cy="273.24" r="2.0" fill="url(#gpgc)"/>
<circle cx="107.36" cy="273.52" r="2.0" fill="url(#gpgc)"/>
<circle cx="110.72" cy="273.8" r="2.0" fill="url(#gpgc)"/>
<circle cx="114.08" cy="274.09" r="2.0" fill="url(#gpgc)"/>
<circle cx="117.44" cy="274.37" r="2.0" fill="url(#gpgc)"/>
<circle cx="120.8" cy="274.65" r="2.0" fill="url(#gpgc)"/>
<circle cx="124.16" cy="288.88" r="2.0" fill="url(#gpgc)"/>
<circle cx="127.52" cy="289.37" r="2.0" fill="url(#gpgc)"/>
<circle cx="130.88" cy="289.45" r="2.0" fill="url(#gpgc)"/>
<circle cx="134.24" cy="289.53" r="2.0" fill="url(#gpgc)"/>
<circle cx="137.6" cy="289.61" r="2.0" fill="url(#gpgc)"/>
<circle cx="140.96" cy="289.69" r="2.0" fill="url(#gpgc)"/>
<circle cx="144.32" cy="289.77" r="2.0" fill="url(#gpgc)"/>
<circle cx="147.68" cy="289.85" r="2.0" fill="url(#gpgc)"/>
<circle cx="151.04" cy="289.93" r="2.0" fill="url(#gpgc)"/>
<circle cx="154.4" cy="290.02" r="2.0" fill="url(#gpgc)"/>
<circle cx="157.76" cy="299.23" r="2.0" fill="url(#gpgc)"/>
<circle cx="161.12" cy="299.23" r="2.0" fill="url(#gpgc)"/>
<circle cx="164.48" cy="299.31" r="2.0" fill="url(#gpgc)"/>
<circle cx="167.84" cy="299.39" r="2.0" fill="url(#gpgc)"/>
<circle cx="171.2" cy="299.47" r="2.0" fill="url(#gpgc)"/>
<circle cx="174.56" cy="299.56" r="2.0" fill="url(#gpgc)"/>
<circle cx="177.92" cy="299.64" r="2.0" fill="url(#gpgc)"/>
<circle cx="181.28" cy="299.72" r="2.0" fill="url(#gpgc)"/>
<circle cx="184.64" cy="299.8" r="2.0" fill="url(#gpgc)"/>
<circle cx="188" cy="299.88" r="2.0" fill="url(#gpgc)"/>
<circle cx="191.36" cy="307.8" r="2.0" fill="url(#gpgc)"/>
<circle cx="194.72" cy="307.64" r="2.0" fill="url(#gpgc)"/>
<circle cx="198.08" cy="307.7" r="2.0" fill="url(#gpgc)"/>
<circle cx="201.44" cy="307.76" r="2.0" fill="url(#gpgc)"/>
<circle cx="204.8" cy="307.82" r="2.0" fill="url(#gpgc)"/>
<circle cx="208.16" cy="307.88" r="2.0" fill="url(#gpgc)"/>
<circle cx="211.52" cy="307.94" r="2.0" fill="url(#gpgc)"/>
<circle cx="214.88" cy="308" r="2.0" fill="url(#gpgc)"/>
<circle cx="218.24" cy="308.07" r="2.0" fill="url(#gpgc)"/>
<circle cx="221.6" cy="308.13" r="2.0" fill="url(#gpgc)"/>
<circle cx="224.96" cy="248.46" r="2.0" fill="url(#gpgc)"/>
<circle cx="228.32" cy="248.46" r="2.0" fill="url(#gpgc)"/>
<circle cx="231.68" cy="248.8" r="2.0" fill="url(#gpgc)"/>
<circle cx="235.04" cy="249.15" r="2.0" fill="url(#gpgc)"/>
<circle cx="238.4" cy="249.49" r="2.0" fill="url(#gpgc)"/>
<circle cx="241.76" cy="249.83" r="2.0" fill="url(#gpgc)"/>
<circle cx="245.12" cy="250.18" r="2.0" fill="url(#gpgc)"/>
<circle cx="248.48" cy="250.52" r="2.0" fill="url(#gpgc)"/>
<circle cx="251.84" cy="250.86" r="2.0" fill="url(#gpgc)"/>
<circle cx="255.2" cy="251.21" r="2.0" fill="url(#gpgc)"/>
<circle cx="56.96" cy="237.14" r="2.0" fill="url(#gpgd)"/>
<circle cx="60.32" cy="244.58" r="2.0" fill="url(#gpgd)"/>
<circle cx="63.68" cy="246.07" r="2.0" fill="url(#gpgd)"/>
<circle cx="67.04" cy="247.57" r="2.0" fill="url(#gpgd)"/>
<circle cx="70.4" cy="249.06" r="2.0" fill="url(#gpgd)"/>
<circle cx="73.76" cy="250.56" r="2.0" fill="url(#gpgd)"/>
<circle cx="77.12" cy="252.06" r="2.0" fill="url(#gpgd)"/>
<circle cx="80.48" cy="253.55" r="2.0" fill="url(#gpgd)"/>
<circle cx="83.84" cy="255.05" r="2.0" fill="url(#gpgd)"/>
<circle cx="87.2" cy="256.54" r="2.0" fill="url(#gpgd)"/>
<circle cx="90.56" cy="266.25" r="2.0" fill="url(#gpgd)"/>
<circle cx="93.92" cy="271.58" r="2.0" fill="url(#gpgd)"/>
<circle cx="97.28" cy="271.93" r="2.0" fill="url(#gpgd)"/>
<circle cx="100.64" cy="272.27" r="2.0" fill="url(#gpgd)"/>
<circle cx="104" cy="272.61" r="2.0" fill="url(#gpgd)"/>
<circle cx="107.36" cy="272.96" r="2.0" fill="url(#gpgd)"/>
<circle cx="110.72" cy="273.3" r="2.0" fill="url(#gpgd)"/>
<circle cx="114.08" cy="273.64" r="2.0" fill="url(#gpgd)"/>
<circle cx="117.44" cy="273.99" r="2.0" fill="url(#gpgd)"/>
<circle cx="120.8" cy="274.33" r="2.0" fill="url(#gpgd)"/>
<circle cx="124.16" cy="284.52" r="2.0" fill="url(#gpgd)"/>
<circle cx="127.52" cy="288.88" r="2.0" fill="url(#gpgd)"/>
<circle cx="130.88" cy="288.98" r="2.0" fill="url(#gpgd)"/>
<circle cx="134.24" cy="289.09" r="2.0" fill="url(#gpgd)"/>
<circle cx="137.6" cy="289.19" r="2.0" fill="url(#gpgd)"/>
<circle cx="140.96" cy="289.29" r="2.0" fill="url(#gpgd)"/>
<circle cx="144.32" cy="289.39" r="2.0" fill="url(#gpgd)"/>
<circle cx="147.68" cy="289.49" r="2.0" fill="url(#gpgd)"/>
<circle cx="151.04" cy="289.59" r="2.0" fill="url(#gpgd)"/>
<circle cx="154.4" cy="289.69" r="2.0" fill="url(#gpgd)"/>
<circle cx="157.76" cy="296.16" r="2.0" fill="url(#gpgd)"/>
<circle cx="161.12" cy="298.91" r="2.0" fill="url(#gpgd)"/>
<circle cx="164.48" cy="299.01" r="2.0" fill="url(#gpgd)"/>
<circle cx="167.84" cy="299.11" r="2.0" fill="url(#gpgd)"/>
<circle cx="171.2" cy="299.21" r="2.0" fill="url(#gpgd)"/>
<circle cx="174.56" cy="299.31" r="2.0" fill="url(#gpgd)"/>
<circle cx="177.92" cy="299.41" r="2.0" fill="url(#gpgd)"/>
<circle cx="181.28" cy="299.52" r="2.0" fill="url(#gpgd)"/>
<circle cx="184.64" cy="299.62" r="2.0" fill="url(#gpgd)"/>
<circle cx="188" cy="299.72" r="2.0" fill="url(#gpgd)"/>
<circle cx="191.36" cy="306.67" r="2.0" fill="url(#gpgd)"/>
<circle cx="194.72" cy="307.32" r="2.0" fill="url(#gpgd)"/>
<circle cx="198.08" cy="307.4" r="2.0" fill="url(#gpgd)"/>
<circle cx="201.44" cy="307.48" r="2.0" fill="url(#gpgd)"/>
<circle cx="204.8" cy="307.56" r="2.0" fill="url(#gpgd)"/>
<circle cx="208.16" cy="307.64" r="2.0" fill="url(#gpgd)"/>
<circle cx="211.52" cy="307.72" r="2.0" fill="url(#gpgd)"/>
<circle cx="214.88" cy="307.8" r="2.0" fill="url(#gpgd)"/>
<circle cx="218.24" cy="307.88" r="2.0" fill="url(#gpgd)"/>
<circle cx="221.6" cy="307.96" r="2.0" fill="url(#gpgd)"/>
<circle cx="224.96" cy="243.61" r="2.0" fill="url(#gpgd)"/>
<circle cx="228.32" cy="246.84" r="2.0" fill="url(#gpgd)"/>
<circle cx="231.68" cy="247.35" r="2.0" fill="url(#gpgd)"/>
<circle cx="235.04" cy="247.85" r="2.0" fill="url(#gpgd)"/>
<circle cx="238.4" cy="248.36" r="2.0" fill="url(#gpgd)"/>
<circle cx="241.76" cy="248.86" r="2.0" fill="url(#gpgd)"/>
<circle cx="245.12" cy="249.37" r="2.0" fill="url(#gpgd)"/>
<circle cx="248.48" cy="249.87" r="2.0" fill="url(#gpgd)"/>
<circle cx="251.84" cy="250.38" r="2.0" fill="url(#gpgd)"/>
<circle cx="255.2" cy="250.88" r="2.0" fill="url(#gpgd)"/>
<circle cx="56.96" cy="301.33" r="2.0" fill="url(#gcu2sc)"/>
<circle cx="60.32" cy="302.95" r="2.0" fill="url(#gcu2sc)"/>
<circle cx="63.68" cy="303.58" r="2.0" fill="url(#gcu2sc)"/>
<circle cx="67.04" cy="304.2" r="2.0" fill="url(#gcu2sc)"/>
<circle cx="70.4" cy="304.83" r="2.0" fill="url(#gcu2sc)"/>
<circle cx="73.76" cy="305.46" r="2.0" fill="url(#gcu2sc)"/>
<circle cx="77.12" cy="306.08" r="2.0" fill="url(#gcu2sc)"/>
<circle cx="80.48" cy="306.71" r="2.0" fill="url(#gcu2sc)"/>
<circle cx="83.84" cy="307.34" r="2.0" fill="url(#gcu2sc)"/>
<circle cx="87.2" cy="307.96" r="2.0" fill="url(#gcu2sc)"/>
<circle cx="90.56" cy="312.01" r="2.0" fill="url(#gcu2sc)"/>
<circle cx="93.92" cy="312.65" r="2.0" fill="url(#gcu2sc)"/>
<circle cx="97.28" cy="312.69" r="2.0" fill="url(#gcu2sc)"/>
<circle cx="100.64" cy="312.73" r="2.0" fill="url(#gcu2sc)"/>
<circle cx="104" cy="312.77" r="2.0" fill="url(#gcu2sc)"/>
<circle cx="107.36" cy="312.82" r="2.0" fill="url(#gcu2sc)"/>
<circle cx="110.72" cy="312.86" r="2.0" fill="url(#gcu2sc)"/>
<circle cx="114.08" cy="312.9" r="2.0" fill="url(#gcu2sc)"/>
<circle cx="117.44" cy="312.94" r="2.0" fill="url(#gcu2sc)"/>
<circle cx="120.8" cy="312.98" r="2.0" fill="url(#gcu2sc)"/>
<circle cx="124.16" cy="316.37" r="2.0" fill="url(#gcu2sc)"/>
<circle cx="127.52" cy="316.53" r="2.0" fill="url(#gcu2sc)"/>
<circle cx="130.88" cy="316.59" r="2.0" fill="url(#gcu2sc)"/>
<circle cx="134.24" cy="316.66" r="2.0" fill="url(#gcu2sc)"/>
<circle cx="137.6" cy="316.72" r="2.0" fill="url(#gcu2sc)"/>
<circle cx="140.96" cy="316.78" r="2.0" fill="url(#gcu2sc)"/>
<circle cx="144.32" cy="316.84" r="2.0" fill="url(#gcu2sc)"/>
<circle cx="147.68" cy="316.9" r="2.0" fill="url(#gcu2sc)"/>
<circle cx="151.04" cy="316.96" r="2.0" fill="url(#gcu2sc)"/>
<circle cx="154.4" cy="317.02" r="2.0" fill="url(#gcu2sc)"/>
<circle cx="157.76" cy="318.47" r="2.0" fill="url(#gcu2sc)"/>
<circle cx="161.12" cy="318.47" r="2.0" fill="url(#gcu2sc)"/>
<circle cx="164.48" cy="318.54" r="2.0" fill="url(#gcu2sc)"/>
<circle cx="167.84" cy="318.6" r="2.0" fill="url(#gcu2sc)"/>
<circle cx="171.2" cy="318.66" r="2.0" fill="url(#gcu2sc)"/>
<circle cx="174.56" cy="318.72" r="2.0" fill="url(#gcu2sc)"/>
<circle cx="177.92" cy="318.78" r="2.0" fill="url(#gcu2sc)"/>
<circle cx="181.28" cy="318.84" r="2.0" fill="url(#gcu2sc)"/>
<circle cx="184.64" cy="318.9" r="2.0" fill="url(#gcu2sc)"/>
<circle cx="188" cy="318.96" r="2.0" fill="url(#gcu2sc)"/>
<circle cx="191.36" cy="319.28" r="2.0" fill="url(#gcu2sc)"/>
<circle cx="194.72" cy="319.28" r="2.0" fill="url(#gcu2sc)"/>
<circle cx="198.08" cy="319.32" r="2.0" fill="url(#gcu2sc)"/>
<circle cx="201.44" cy="319.36" r="2.0" fill="url(#gcu2sc)"/>
<circle cx="204.8" cy="319.4" r="2.0" fill="url(#gcu2sc)"/>
<circle cx="208.16" cy="319.44" r="2.0" fill="url(#gcu2sc)"/>
<circle cx="211.52" cy="319.49" r="2.0" fill="url(#gcu2sc)"/>
<circle cx="214.88" cy="319.53" r="2.0" fill="url(#gcu2sc)"/>
<circle cx="218.24" cy="319.57" r="2.0" fill="url(#gcu2sc)"/>
<circle cx="221.6" cy="319.61" r="2.0" fill="url(#gcu2sc)"/>
<circle cx="224.96" cy="311.68" r="2.0" fill="url(#gcu2sc)"/>
<circle cx="228.32" cy="311.68" r="2.0" fill="url(#gcu2sc)"/>
<circle cx="231.68" cy="311.74" r="2.0" fill="url(#gcu2sc)"/>
<circle cx="235.04" cy="311.8" r="2.0" fill="url(#gcu2sc)"/>
<circle cx="238.4" cy="311.87" r="2.0" fill="url(#gcu2sc)"/>
<circle cx="241.76" cy="311.93" r="2.0" fill="url(#gcu2sc)"/>
<circle cx="245.12" cy="311.99" r="2.0" fill="url(#gcu2sc)"/>
<circle cx="248.48" cy="312.05" r="2.0" fill="url(#gcu2sc)"/>
<circle cx="251.84" cy="312.11" r="2.0" fill="url(#gcu2sc)"/>
<circle cx="255.2" cy="312.17" r="2.0" fill="url(#gcu2sc)"/>
<circle cx="56.96" cy="299.72" r="2.0" fill="url(#gcu2sd)"/>
<circle cx="60.32" cy="301.66" r="2.0" fill="url(#gcu2sd)"/>
<circle cx="63.68" cy="302.43" r="2.0" fill="url(#gcu2sd)"/>
<circle cx="67.04" cy="303.19" r="2.0" fill="url(#gcu2sd)"/>
<circle cx="70.4" cy="303.96" r="2.0" fill="url(#gcu2sd)"/>
<circle cx="73.76" cy="304.73" r="2.0" fill="url(#gcu2sd)"/>
<circle cx="77.12" cy="305.5" r="2.0" fill="url(#gcu2sd)"/>
<circle cx="80.48" cy="306.27" r="2.0" fill="url(#gcu2sd)"/>
<circle cx="83.84" cy="307.03" r="2.0" fill="url(#gcu2sd)"/>
<circle cx="87.2" cy="307.8" r="2.0" fill="url(#gcu2sd)"/>
<circle cx="90.56" cy="310.39" r="2.0" fill="url(#gcu2sd)"/>
<circle cx="93.92" cy="312.33" r="2.0" fill="url(#gcu2sd)"/>
<circle cx="97.28" cy="312.39" r="2.0" fill="url(#gcu2sd)"/>
<circle cx="100.64" cy="312.45" r="2.0" fill="url(#gcu2sd)"/>
<circle cx="104" cy="312.51" r="2.0" fill="url(#gcu2sd)"/>
<circle cx="107.36" cy="312.57" r="2.0" fill="url(#gcu2sd)"/>
<circle cx="110.72" cy="312.63" r="2.0" fill="url(#gcu2sd)"/>
<circle cx="114.08" cy="312.69" r="2.0" fill="url(#gcu2sd)"/>
<circle cx="117.44" cy="312.75" r="2.0" fill="url(#gcu2sd)"/>
<circle cx="120.8" cy="312.82" r="2.0" fill="url(#gcu2sd)"/>
<circle cx="124.16" cy="315.89" r="2.0" fill="url(#gcu2sd)"/>
<circle cx="127.52" cy="316.21" r="2.0" fill="url(#gcu2sd)"/>
<circle cx="130.88" cy="316.29" r="2.0" fill="url(#gcu2sd)"/>
<circle cx="134.24" cy="316.37" r="2.0" fill="url(#gcu2sd)"/>
<circle cx="137.6" cy="316.45" r="2.0" fill="url(#gcu2sd)"/>
<circle cx="140.96" cy="316.53" r="2.0" fill="url(#gcu2sd)"/>
<circle cx="144.32" cy="316.62" r="2.0" fill="url(#gcu2sd)"/>
<circle cx="147.68" cy="316.7" r="2.0" fill="url(#gcu2sd)"/>
<circle cx="151.04" cy="316.78" r="2.0" fill="url(#gcu2sd)"/>
<circle cx="154.4" cy="316.86" r="2.0" fill="url(#gcu2sd)"/>
<circle cx="157.76" cy="317.99" r="2.0" fill="url(#gcu2sd)"/>
<circle cx="161.12" cy="318.15" r="2.0" fill="url(#gcu2sd)"/>
<circle cx="164.48" cy="318.23" r="2.0" fill="url(#gcu2sd)"/>
<circle cx="167.84" cy="318.31" r="2.0" fill="url(#gcu2sd)"/>
<circle cx="171.2" cy="318.39" r="2.0" fill="url(#gcu2sd)"/>
<circle cx="174.56" cy="318.47" r="2.0" fill="url(#gcu2sd)"/>
<circle cx="177.92" cy="318.56" r="2.0" fill="url(#gcu2sd)"/>
<circle cx="181.28" cy="318.64" r="2.0" fill="url(#gcu2sd)"/>
<circle cx="184.64" cy="318.72" r="2.0" fill="url(#gcu2sd)"/>
<circle cx="188" cy="318.8" r="2.0" fill="url(#gcu2sd)"/>
<circle cx="191.36" cy="319.12" r="2.0" fill="url(#gcu2sd)"/>
<circle cx="194.72" cy="319.12" r="2.0" fill="url(#gcu2sd)"/>
<circle cx="198.08" cy="319.16" r="2.0" fill="url(#gcu2sd)"/>
<circle cx="201.44" cy="319.2" r="2.0" fill="url(#gcu2sd)"/>
<circle cx="204.8" cy="319.24" r="2.0" fill="url(#gcu2sd)"/>
<circle cx="208.16" cy="319.28" r="2.0" fill="url(#gcu2sd)"/>
<circle cx="211.52" cy="319.32" r="2.0" fill="url(#gcu2sd)"/>
<circle cx="214.88" cy="319.36" r="2.0" fill="url(#gcu2sd)"/>
<circle cx="218.24" cy="319.4" r="2.0" fill="url(#gcu2sd)"/>
<circle cx="221.6" cy="319.44" r="2.0" fill="url(#gcu2sd)"/>
<circle cx="224.96" cy="311.04" r="2.0" fill="url(#gcu2sd)"/>
<circle cx="228.32" cy="311.52" r="2.0" fill="url(#gcu2sd)"/>
<circle cx="231.68" cy="311.58" r="2.0" fill="url(#gcu2sd)"/>
<circle cx="235.04" cy="311.64" r="2.0" fill="url(#gcu2sd)"/>
<circle cx="238.4" cy="311.7" r="2.0" fill="url(#gcu2sd)"/>
<circle cx="241.76" cy="311.76" r="2.0" fill="url(#gcu2sd)"/>
<circle cx="245.12" cy="311.82" r="2.0" fill="url(#gcu2sd)"/>
<circle cx="248.48" cy="311.89" r="2.0" fill="url(#gcu2sd)"/>
<circle cx="251.84" cy="311.95" r="2.0" fill="url(#gcu2sd)"/>
<circle cx="255.2" cy="312.01" r="2.0" fill="url(#gcu2sd)"/>
<text x="59.7" y="230.3" font-size="7.3" font-weight="bold" fill="#222" textLength="22.5" lengthAdjust="spacingAndGlyphs">0.1 A/g</text>
<text x="92.3" y="230.3" font-size="7.3" font-weight="bold" fill="#222" textLength="22.5" lengthAdjust="spacingAndGlyphs">0.2 A/g</text>
<text x="125.8" y="230.3" font-size="7.3" font-weight="bold" fill="#222" textLength="22.5" lengthAdjust="spacingAndGlyphs">0.5 A/g</text>
<text x="160" y="230.3" font-size="7.3" font-weight="bold" fill="#222" textLength="22.5" lengthAdjust="spacingAndGlyphs">1.0 A/g</text>
<text x="193.5" y="230.3" font-size="7.3" font-weight="bold" fill="#222" textLength="22.5" lengthAdjust="spacingAndGlyphs">2.0 A/g</text>
<text x="226.3" y="230.3" font-size="7.3" font-weight="bold" fill="#222" textLength="22.5" lengthAdjust="spacingAndGlyphs">0.1 A/g</text>
<rect x="183" y="167.5" width="71.4" height="51" fill="#fff"/>
<circle cx="188.1" cy="171.2" r="2.0" fill="url(#gcusc)"/>
<text x="197.3" y="173.5" font-size="6.5" fill="#333">CuS-charge</text>
<circle cx="188.1" cy="179.0" r="2.0" fill="url(#gcusd)"/>
<text x="197.3" y="181.3" font-size="6.5" fill="#333">CuS-discharge</text>
<circle cx="188.1" cy="187.2" r="2.0" fill="url(#gpgc)"/>
<text x="197.3" y="189.5" font-size="6.5" fill="#333">Cu<tspan font-size="4.5" dy="1.5">2</tspan><tspan dy="-1.5">S/PG-charge</tspan></text>
<circle cx="188.1" cy="196.2" r="2.0" fill="url(#gpgd)"/>
<text x="197.3" y="198.5" font-size="6.5" fill="#333">Cu<tspan font-size="4.5" dy="1.5">2</tspan><tspan dy="-1.5">S/PG-discharge</tspan></text>
<circle cx="188.1" cy="205.7" r="2.0" fill="url(#gcu2sc)"/>
<text x="197.3" y="208" font-size="6.5" fill="#333">Cu<tspan font-size="4.5" dy="1.5">2</tspan><tspan dy="-1.5">S-charge</tspan></text>
<circle cx="188.1" cy="214.7" r="2.0" fill="url(#gcu2sd)"/>
<text x="197.3" y="217" font-size="6.5" fill="#333">Cu<tspan font-size="4.5" dy="1.5">2</tspan><tspan dy="-1.5">S-discharge</tspan></text>
<text x="14.3" y="168.7" font-size="11.2" fill="#333" stroke="#333" stroke-width="0.25">(d)</text>
<text transform="translate(28.3,245.5) rotate(-90)" text-anchor="middle" font-size="10" font-weight="bold" fill="#111">Capacity (mAh/g)</text>
<text x="158" y="351.7" text-anchor="middle" font-size="10" font-weight="bold" fill="#111">Cycle number (n)</text>
<line x1="318.94" y1="167.2" x2="318.94" y2="329.8" stroke="#e6e6e6" stroke-width="0.6"/>
<line x1="331.57" y1="167.2" x2="331.57" y2="329.8" stroke="#e6e6e6" stroke-width="0.6"/>
<line x1="344.21" y1="167.2" x2="344.21" y2="329.8" stroke="#e6e6e6" stroke-width="0.6"/>
<line x1="356.85" y1="167.2" x2="356.85" y2="329.8" stroke="#e6e6e6" stroke-width="0.6"/>
<line x1="369.49" y1="167.2" x2="369.49" y2="329.8" stroke="#e6e6e6" stroke-width="0.6"/>
<line x1="382.12" y1="167.2" x2="382.12" y2="329.8" stroke="#e6e6e6" stroke-width="0.6"/>
<line x1="394.76" y1="167.2" x2="394.76" y2="329.8" stroke="#e6e6e6" stroke-width="0.6"/>
<line x1="407.4" y1="167.2" x2="407.4" y2="329.8" stroke="#e6e6e6" stroke-width="0.6"/>
<line x1="420.04" y1="167.2" x2="420.04" y2="329.8" stroke="#e6e6e6" stroke-width="0.6"/>
<line x1="432.68" y1="167.2" x2="432.68" y2="329.8" stroke="#e6e6e6" stroke-width="0.6"/>
<line x1="445.31" y1="167.2" x2="445.31" y2="329.8" stroke="#e6e6e6" stroke-width="0.6"/>
<line x1="457.95" y1="167.2" x2="457.95" y2="329.8" stroke="#e6e6e6" stroke-width="0.6"/>
<line x1="470.59" y1="167.2" x2="470.59" y2="329.8" stroke="#e6e6e6" stroke-width="0.6"/>
<line x1="483.23" y1="167.2" x2="483.23" y2="329.8" stroke="#e6e6e6" stroke-width="0.6"/>
<line x1="495.86" y1="167.2" x2="495.86" y2="329.8" stroke="#e6e6e6" stroke-width="0.6"/>
<rect x="306.5" y="167.2" width="202" height="162.6" fill="none" stroke="#555" stroke-width="1.2"/>
<line x1="306.3" y1="329.8" x2="306.3" y2="332.2" stroke="#444" stroke-width="1"/>
<text x="306.3" y="341.7" text-anchor="middle" font-size="9" font-weight="bold" fill="#1a1a1a" textLength="4.47" lengthAdjust="spacingAndGlyphs">0</text>
<line x1="318.94" y1="329.8" x2="318.94" y2="331.2" stroke="#444" stroke-width="1"/>
<line x1="331.57" y1="329.8" x2="331.57" y2="332.2" stroke="#444" stroke-width="1"/>
<text x="331.57" y="341.7" text-anchor="middle" font-size="9" font-weight="bold" fill="#1a1a1a" textLength="8.94" lengthAdjust="spacingAndGlyphs">25</text>
<line x1="344.21" y1="329.8" x2="344.21" y2="331.2" stroke="#444" stroke-width="1"/>
<line x1="356.85" y1="329.8" x2="356.85" y2="332.2" stroke="#444" stroke-width="1"/>
<text x="356.85" y="341.7" text-anchor="middle" font-size="9" font-weight="bold" fill="#1a1a1a" textLength="8.94" lengthAdjust="spacingAndGlyphs">50</text>
<line x1="369.49" y1="329.8" x2="369.49" y2="331.2" stroke="#444" stroke-width="1"/>
<line x1="382.12" y1="329.8" x2="382.12" y2="332.2" stroke="#444" stroke-width="1"/>
<text x="382.12" y="341.7" text-anchor="middle" font-size="9" font-weight="bold" fill="#1a1a1a" textLength="8.94" lengthAdjust="spacingAndGlyphs">75</text>
<line x1="394.76" y1="329.8" x2="394.76" y2="331.2" stroke="#444" stroke-width="1"/>
<line x1="407.4" y1="329.8" x2="407.4" y2="332.2" stroke="#444" stroke-width="1"/>
<text x="407.4" y="341.7" text-anchor="middle" font-size="9" font-weight="bold" fill="#1a1a1a" textLength="13.41" lengthAdjust="spacingAndGlyphs">100</text>
<line x1="420.04" y1="329.8" x2="420.04" y2="331.2" stroke="#444" stroke-width="1"/>
<line x1="432.68" y1="329.8" x2="432.68" y2="332.2" stroke="#444" stroke-width="1"/>
<text x="432.68" y="341.7" text-anchor="middle" font-size="9" font-weight="bold" fill="#1a1a1a" textLength="13.41" lengthAdjust="spacingAndGlyphs">125</text>
<line x1="445.31" y1="329.8" x2="445.31" y2="331.2" stroke="#444" stroke-width="1"/>
<line x1="457.95" y1="329.8" x2="457.95" y2="332.2" stroke="#444" stroke-width="1"/>
<text x="457.95" y="341.7" text-anchor="middle" font-size="9" font-weight="bold" fill="#1a1a1a" textLength="13.41" lengthAdjust="spacingAndGlyphs">150</text>
<line x1="470.59" y1="329.8" x2="470.59" y2="331.2" stroke="#444" stroke-width="1"/>
<line x1="483.23" y1="329.8" x2="483.23" y2="332.2" stroke="#444" stroke-width="1"/>
<text x="483.23" y="341.7" text-anchor="middle" font-size="9" font-weight="bold" fill="#1a1a1a" textLength="13.41" lengthAdjust="spacingAndGlyphs">175</text>
<line x1="495.86" y1="329.8" x2="495.86" y2="331.2" stroke="#444" stroke-width="1"/>
<line x1="508.5" y1="329.8" x2="508.5" y2="332.2" stroke="#444" stroke-width="1"/>
<text x="508.5" y="341.7" text-anchor="middle" font-size="9" font-weight="bold" fill="#1a1a1a" textLength="13.41" lengthAdjust="spacingAndGlyphs">200</text>
<line x1="304.1" y1="329.8" x2="306.5" y2="329.8" stroke="#444" stroke-width="1"/>
<text x="302" y="332.7" text-anchor="end" font-size="8.7" font-weight="bold" fill="#1a1a1a" textLength="4.45" lengthAdjust="spacingAndGlyphs">0</text>
<line x1="305.1" y1="309.48" x2="306.5" y2="309.48" stroke="#444" stroke-width="1"/>
<line x1="304.1" y1="289.15" x2="306.5" y2="289.15" stroke="#444" stroke-width="1"/>
<text x="302" y="292.05" text-anchor="end" font-size="8.7" font-weight="bold" fill="#1a1a1a" textLength="13.35" lengthAdjust="spacingAndGlyphs">200</text>
<line x1="305.1" y1="268.83" x2="306.5" y2="268.83" stroke="#444" stroke-width="1"/>
<line x1="304.1" y1="248.5" x2="306.5" y2="248.5" stroke="#444" stroke-width="1"/>
<text x="302" y="251.4" text-anchor="end" font-size="8.7" font-weight="bold" fill="#1a1a1a" textLength="13.35" lengthAdjust="spacingAndGlyphs">400</text>
<line x1="305.1" y1="228.18" x2="306.5" y2="228.18" stroke="#444" stroke-width="1"/>
<line x1="304.1" y1="207.85" x2="306.5" y2="207.85" stroke="#444" stroke-width="1"/>
<text x="302" y="210.75" text-anchor="end" font-size="8.7" font-weight="bold" fill="#1a1a1a" textLength="13.35" lengthAdjust="spacingAndGlyphs">600</text>
<line x1="305.1" y1="187.53" x2="306.5" y2="187.53" stroke="#444" stroke-width="1"/>
<line x1="304.1" y1="167.2" x2="306.5" y2="167.2" stroke="#444" stroke-width="1"/>
<text x="302" y="170.1" text-anchor="end" font-size="8.7" font-weight="bold" fill="#1a1a1a" textLength="13.35" lengthAdjust="spacingAndGlyphs">800</text>
<line x1="508.5" y1="329.8" x2="505.7" y2="329.8" stroke="#444" stroke-width="1"/>
<text x="512.1" y="332.5" font-size="9.3" font-weight="bold" fill="#f51010" textLength="9.1" lengthAdjust="spacingAndGlyphs">80</text>
<line x1="508.5" y1="309.48" x2="506.7" y2="309.48" stroke="#444" stroke-width="1"/>
<line x1="508.5" y1="289.15" x2="505.7" y2="289.15" stroke="#444" stroke-width="1"/>
<text x="512.1" y="291.85" font-size="9.3" font-weight="bold" fill="#f51010" textLength="9.1" lengthAdjust="spacingAndGlyphs">85</text>
<line x1="508.5" y1="268.82" x2="506.7" y2="268.82" stroke="#444" stroke-width="1"/>
<line x1="508.5" y1="248.5" x2="505.7" y2="248.5" stroke="#444" stroke-width="1"/>
<text x="512.1" y="251.2" font-size="9.3" font-weight="bold" fill="#f51010" textLength="9.1" lengthAdjust="spacingAndGlyphs">90</text>
<line x1="508.5" y1="228.18" x2="506.7" y2="228.18" stroke="#444" stroke-width="1"/>
<line x1="508.5" y1="207.85" x2="505.7" y2="207.85" stroke="#444" stroke-width="1"/>
<text x="512.1" y="210.55" font-size="9.3" font-weight="bold" fill="#f51010" textLength="9.1" lengthAdjust="spacingAndGlyphs">95</text>
<line x1="508.5" y1="187.53" x2="506.7" y2="187.53" stroke="#444" stroke-width="1"/>
<line x1="508.5" y1="167.2" x2="505.7" y2="167.2" stroke="#444" stroke-width="1"/>
<text x="512.1" y="169.9" font-size="9.3" font-weight="bold" fill="#f51010" textLength="13.65" lengthAdjust="spacingAndGlyphs">100</text>
<line x1="306.5" y1="228.5" x2="508.5" y2="228.5" stroke="#222" stroke-width="1" stroke-dasharray="3,1.6,0.8,1.6"/>
<circle cx="307.31" cy="188.8" r="1.9" fill="#f6f6ff" stroke="#4646f0" stroke-width="0.7"/>
<circle cx="308.32" cy="187.51" r="1.9" fill="#f6f6ff" stroke="#4646f0" stroke-width="0.7"/>
<circle cx="309.33" cy="188.57" r="1.9" fill="#f6f6ff" stroke="#4646f0" stroke-width="0.7"/>
<circle cx="310.34" cy="187.63" r="1.9" fill="#f6f6ff" stroke="#4646f0" stroke-width="0.7"/>
<circle cx="311.36" cy="187.72" r="1.9" fill="#f6f6ff" stroke="#4646f0" stroke-width="0.7"/>
<circle cx="312.37" cy="183.14" r="1.9" fill="#f6f6ff" stroke="#4646f0" stroke-width="0.7"/>
<circle cx="313.38" cy="181.35" r="1.9" fill="#f6f6ff" stroke="#4646f0" stroke-width="0.7"/>
<circle cx="314.39" cy="180.4" r="1.9" fill="#f6f6ff" stroke="#4646f0" stroke-width="0.7"/>
<circle cx="315.4" cy="180.82" r="1.9" fill="#f6f6ff" stroke="#4646f0" stroke-width="0.7"/>
<circle cx="316.41" cy="180.7" r="1.9" fill="#f6f6ff" stroke="#4646f0" stroke-width="0.7"/>
<circle cx="317.42" cy="179.81" r="1.9" fill="#f6f6ff" stroke="#4646f0" stroke-width="0.7"/>
<circle cx="318.43" cy="180.18" r="1.9" fill="#f6f6ff" stroke="#4646f0" stroke-width="0.7"/>
<circle cx="319.44" cy="179.68" r="1.9" fill="#f6f6ff" stroke="#4646f0" stroke-width="0.7"/>
<circle cx="320.45" cy="179.88" r="1.9" fill="#f6f6ff" stroke="#4646f0" stroke-width="0.7"/>
<circle cx="321.47" cy="179.58" r="1.9" fill="#f6f6ff" stroke="#4646f0" stroke-width="0.7"/>
<circle cx="322.48" cy="179.91" r="1.9" fill="#f6f6ff" stroke="#4646f0" stroke-width="0.7"/>
<circle cx="323.49" cy="179.29" r="1.9" fill="#f6f6ff" stroke="#4646f0" stroke-width="0.7"/>
<circle cx="324.5" cy="178.92" r="1.9" fill="#f6f6ff" stroke="#4646f0" stroke-width="0.7"/>
<circle cx="325.51" cy="179.11" r="1.9" fill="#f6f6ff" stroke="#4646f0" stroke-width="0.7"/>
<circle cx="326.52" cy="178.75" r="1.9" fill="#f6f6ff" stroke="#4646f0" stroke-width="0.7"/>
<circle cx="327.53" cy="178.65" r="1.9" fill="#f6f6ff" stroke="#4646f0" stroke-width="0.7"/>
<circle cx="328.54" cy="179.06" r="1.9" fill="#f6f6ff" stroke="#4646f0" stroke-width="0.7"/>
<circle cx="329.55" cy="178.21" r="1.9" fill="#f6f6ff" stroke="#4646f0" stroke-width="0.7"/>
<circle cx="330.56" cy="178.2" r="1.9" fill="#f6f6ff" stroke="#4646f0" stroke-width="0.7"/>
<circle cx="331.57" cy="178.31" r="1.9" fill="#f6f6ff" stroke="#4646f0" stroke-width="0.7"/>
<circle cx="332.59" cy="178.4" r="1.9" fill="#f6f6ff" stroke="#4646f0" stroke-width="0.7"/>
<circle cx="333.6" cy="177.41" r="1.9" fill="#f6f6ff" stroke="#4646f0" stroke-width="0.7"/>
<circle cx="334.61" cy="177.61" r="1.9" fill="#f6f6ff" stroke="#4646f0" stroke-width="0.7"/>
<circle cx="335.62" cy="177.2" r="1.9" fill="#f6f6ff" stroke="#4646f0" stroke-width="0.7"/>
<circle cx="336.63" cy="176.87" r="1.9" fill="#f6f6ff" stroke="#4646f0" stroke-width="0.7"/>
<circle cx="337.64" cy="176.85" r="1.9" fill="#f6f6ff" stroke="#4646f0" stroke-width="0.7"/>
<circle cx="338.65" cy="176.48" r="1.9" fill="#f6f6ff" stroke="#4646f0" stroke-width="0.7"/>
<circle cx="339.66" cy="176.81" r="1.9" fill="#f6f6ff" stroke="#4646f0" stroke-width="0.7"/>
<circle cx="340.67" cy="176.35" r="1.9" fill="#f6f6ff" stroke="#4646f0" stroke-width="0.7"/>
<circle cx="341.69" cy="176.62" r="1.9" fill="#f6f6ff" stroke="#4646f0" stroke-width="0.7"/>
<circle cx="342.7" cy="176.07" r="1.9" fill="#f6f6ff" stroke="#4646f0" stroke-width="0.7"/>
<circle cx="343.71" cy="176.05" r="1.9" fill="#f6f6ff" stroke="#4646f0" stroke-width="0.7"/>
<circle cx="344.72" cy="176.74" r="1.9" fill="#f6f6ff" stroke="#4646f0" stroke-width="0.7"/>
<circle cx="345.73" cy="176.63" r="1.9" fill="#f6f6ff" stroke="#4646f0" stroke-width="0.7"/>
<circle cx="346.74" cy="176.48" r="1.9" fill="#f6f6ff" stroke="#4646f0" stroke-width="0.7"/>
<circle cx="347.75" cy="175.67" r="1.9" fill="#f6f6ff" stroke="#4646f0" stroke-width="0.7"/>
<circle cx="348.76" cy="176.12" r="1.9" fill="#f6f6ff" stroke="#4646f0" stroke-width="0.7"/>
<circle cx="349.77" cy="175.86" r="1.9" fill="#f6f6ff" stroke="#4646f0" stroke-width="0.7"/>
<circle cx="350.78" cy="176.1" r="1.9" fill="#f6f6ff" stroke="#4646f0" stroke-width="0.7"/>
<circle cx="351.8" cy="175.83" r="1.9" fill="#f6f6ff" stroke="#4646f0" stroke-width="0.7"/>
<circle cx="352.81" cy="175.87" r="1.9" fill="#f6f6ff" stroke="#4646f0" stroke-width="0.7"/>
<circle cx="353.82" cy="175.83" r="1.9" fill="#f6f6ff" stroke="#4646f0" stroke-width="0.7"/>
<circle cx="354.83" cy="175.53" r="1.9" fill="#f6f6ff" stroke="#4646f0" stroke-width="0.7"/>
<circle cx="355.84" cy="175.46" r="1.9" fill="#f6f6ff" stroke="#4646f0" stroke-width="0.7"/>
<circle cx="356.85" cy="175.07" r="1.9" fill="#f6f6ff" stroke="#4646f0" stroke-width="0.7"/>
<circle cx="357.86" cy="175.22" r="1.9" fill="#f6f6ff" stroke="#4646f0" stroke-width="0.7"/>
<circle cx="358.87" cy="174.9" r="1.9" fill="#f6f6ff" stroke="#4646f0" stroke-width="0.7"/>
<circle cx="359.88" cy="174.9" r="1.9" fill="#f6f6ff" stroke="#4646f0" stroke-width="0.7"/>
<circle cx="360.89" cy="174.7" r="1.9" fill="#f6f6ff" stroke="#4646f0" stroke-width="0.7"/>
<circle cx="361.91" cy="174.94" r="1.9" fill="#f6f6ff" stroke="#4646f0" stroke-width="0.7"/>
<circle cx="362.92" cy="175.36" r="1.9" fill="#f6f6ff" stroke="#4646f0" stroke-width="0.7"/>
<circle cx="363.93" cy="174.6" r="1.9" fill="#f6f6ff" stroke="#4646f0" stroke-width="0.7"/>
<circle cx="364.94" cy="174.43" r="1.9" fill="#f6f6ff" stroke="#4646f0" stroke-width="0.7"/>
<circle cx="365.95" cy="174.41" r="1.9" fill="#f6f6ff" stroke="#4646f0" stroke-width="0.7"/>
<circle cx="366.96" cy="174.67" r="1.9" fill="#f6f6ff" stroke="#4646f0" stroke-width="0.7"/>
<circle cx="367.97" cy="174.45" r="1.9" fill="#f6f6ff" stroke="#4646f0" stroke-width="0.7"/>
<circle cx="368.98" cy="174.87" r="1.9" fill="#f6f6ff" stroke="#4646f0" stroke-width="0.7"/>
<circle cx="369.99" cy="174.19" r="1.9" fill="#f6f6ff" stroke="#4646f0" stroke-width="0.7"/>
<circle cx="371" cy="174.37" r="1.9" fill="#f6f6ff" stroke="#4646f0" stroke-width="0.7"/>
<circle cx="372.01" cy="174.58" r="1.9" fill="#f6f6ff" stroke="#4646f0" stroke-width="0.7"/>
<circle cx="373.03" cy="174.72" r="1.9" fill="#f6f6ff" stroke="#4646f0" stroke-width="0.7"/>
<circle cx="374.04" cy="173.88" r="1.9" fill="#f6f6ff" stroke="#4646f0" stroke-width="0.7"/>
<circle cx="375.05" cy="173.67" r="1.9" fill="#f6f6ff" stroke="#4646f0" stroke-width="0.7"/>
<circle cx="376.06" cy="174.48" r="1.9" fill="#f6f6ff" stroke="#4646f0" stroke-width="0.7"/>
<circle cx="377.07" cy="173.71" r="1.9" fill="#f6f6ff" stroke="#4646f0" stroke-width="0.7"/>
<circle cx="378.08" cy="174.02" r="1.9" fill="#f6f6ff" stroke="#4646f0" stroke-width="0.7"/>
<circle cx="379.09" cy="174.2" r="1.9" fill="#f6f6ff" stroke="#4646f0" stroke-width="0.7"/>
<circle cx="380.1" cy="173.99" r="1.9" fill="#f6f6ff" stroke="#4646f0" stroke-width="0.7"/>
<circle cx="381.11" cy="173.47" r="1.9" fill="#f6f6ff" stroke="#4646f0" stroke-width="0.7"/>
<circle cx="382.12" cy="173.32" r="1.9" fill="#f6f6ff" stroke="#4646f0" stroke-width="0.7"/>
<circle cx="383.14" cy="174.08" r="1.9" fill="#f6f6ff" stroke="#4646f0" stroke-width="0.7"/>
<circle cx="384.15" cy="173.48" r="1.9" fill="#f6f6ff" stroke="#4646f0" stroke-width="0.7"/>
<circle cx="385.16" cy="173.98" r="1.9" fill="#f6f6ff" stroke="#4646f0" stroke-width="0.7"/>
<circle cx="386.17" cy="173.28" r="1.9" fill="#f6f6ff" stroke="#4646f0" stroke-width="0.7"/>
<circle cx="387.18" cy="173.61" r="1.9" fill="#f6f6ff" stroke="#4646f0" stroke-width="0.7"/>
<circle cx="388.19" cy="173.02" r="1.9" fill="#f6f6ff" stroke="#4646f0" stroke-width="0.7"/>
<circle cx="389.2" cy="172.87" r="1.9" fill="#f6f6ff" stroke="#4646f0" stroke-width="0.7"/>
<circle cx="390.21" cy="173.29" r="1.9" fill="#f6f6ff" stroke="#4646f0" stroke-width="0.7"/>
<circle cx="391.22" cy="172.76" r="1.9" fill="#f6f6ff" stroke="#4646f0" stroke-width="0.7"/>
<circle cx="392.24" cy="173.38" r="1.9" fill="#f6f6ff" stroke="#4646f0" stroke-width="0.7"/>
<circle cx="393.25" cy="173.56" r="1.9" fill="#f6f6ff" stroke="#4646f0" stroke-width="0.7"/>
<circle cx="394.26" cy="173" r="1.9" fill="#f6f6ff" stroke="#4646f0" stroke-width="0.7"/>
<circle cx="395.27" cy="173.5" r="1.9" fill="#f6f6ff" stroke="#4646f0" stroke-width="0.7"/>
<circle cx="396.28" cy="173.29" r="1.9" fill="#f6f6ff" stroke="#4646f0" stroke-width="0.7"/>
<circle cx="397.29" cy="173.04" r="1.9" fill="#f6f6ff" stroke="#4646f0" stroke-width="0.7"/>
<circle cx="398.3" cy="172.79" r="1.9" fill="#f6f6ff" stroke="#4646f0" stroke-width="0.7"/>
<circle cx="399.31" cy="173.19" r="1.9" fill="#f6f6ff" stroke="#4646f0" stroke-width="0.7"/>
<circle cx="400.32" cy="173.25" r="1.9" fill="#f6f6ff" stroke="#4646f0" stroke-width="0.7"/>
<circle cx="401.33" cy="172.39" r="1.9" fill="#f6f6ff" stroke="#4646f0" stroke-width="0.7"/>
<circle cx="402.35" cy="172.88" r="1.9" fill="#f6f6ff" stroke="#4646f0" stroke-width="0.7"/>
<circle cx="403.36" cy="172.21" r="1.9" fill="#f6f6ff" stroke="#4646f0" stroke-width="0.7"/>
<circle cx="404.37" cy="172.22" r="1.9" fill="#f6f6ff" stroke="#4646f0" stroke-width="0.7"/>
<circle cx="405.38" cy="172.67" r="1.9" fill="#f6f6ff" stroke="#4646f0" stroke-width="0.7"/>
<circle cx="406.39" cy="172.54" r="1.9" fill="#f6f6ff" stroke="#4646f0" stroke-width="0.7"/>
<circle cx="407.4" cy="172.44" r="1.9" fill="#f6f6ff" stroke="#4646f0" stroke-width="0.7"/>
<circle cx="408.41" cy="172.27" r="1.9" fill="#f6f6ff" stroke="#4646f0" stroke-width="0.7"/>
<circle cx="409.42" cy="172.26" r="1.9" fill="#f6f6ff" stroke="#4646f0" stroke-width="0.7"/>
<circle cx="410.43" cy="172.25" r="1.9" fill="#f6f6ff" stroke="#4646f0" stroke-width="0.7"/>
<circle cx="411.44" cy="172.14" r="1.9" fill="#f6f6ff" stroke="#4646f0" stroke-width="0.7"/>
<circle cx="412.45" cy="171.78" r="1.9" fill="#f6f6ff" stroke="#4646f0" stroke-width="0.7"/>
<circle cx="413.47" cy="172.15" r="1.9" fill="#f6f6ff" stroke="#4646f0" stroke-width="0.7"/>
<circle cx="414.48" cy="172.18" r="1.9" fill="#f6f6ff" stroke="#4646f0" stroke-width="0.7"/>
<circle cx="415.49" cy="171.85" r="1.9" fill="#f6f6ff" stroke="#4646f0" stroke-width="0.7"/>
<circle cx="416.5" cy="172.27" r="1.9" fill="#f6f6ff" stroke="#4646f0" stroke-width="0.7"/>
<circle cx="417.51" cy="172.16" r="1.9" fill="#f6f6ff" stroke="#4646f0" stroke-width="0.7"/>
<circle cx="418.52" cy="171.45" r="1.9" fill="#f6f6ff" stroke="#4646f0" stroke-width="0.7"/>
<circle cx="419.53" cy="171.89" r="1.9" fill="#f6f6ff" stroke="#4646f0" stroke-width="0.7"/>
<circle cx="420.54" cy="171.85" r="1.9" fill="#f6f6ff" stroke="#4646f0" stroke-width="0.7"/>
<circle cx="421.55" cy="172.36" r="1.9" fill="#f6f6ff" stroke="#4646f0" stroke-width="0.7"/>
<circle cx="422.56" cy="171.96" r="1.9" fill="#f6f6ff" stroke="#4646f0" stroke-width="0.7"/>
<circle cx="423.58" cy="171.79" r="1.9" fill="#f6f6ff" stroke="#4646f0" stroke-width="0.7"/>
<circle cx="424.59" cy="172.33" r="1.9" fill="#f6f6ff" stroke="#4646f0" stroke-width="0.7"/>
<circle cx="425.6" cy="171.74" r="1.9" fill="#f6f6ff" stroke="#4646f0" stroke-width="0.7"/>
<circle cx="426.61" cy="171.71" r="1.9" fill="#f6f6ff" stroke="#4646f0" stroke-width="0.7"/>
<circle cx="427.62" cy="172.26" r="1.9" fill="#f6f6ff" stroke="#4646f0" stroke-width="0.7"/>
<circle cx="428.63" cy="171.7" r="1.9" fill="#f6f6ff" stroke="#4646f0" stroke-width="0.7"/>
<circle cx="429.64" cy="171.85" r="1.9" fill="#f6f6ff" stroke="#4646f0" stroke-width="0.7"/>
<circle cx="430.65" cy="171.63" r="1.9" fill="#f6f6ff" stroke="#4646f0" stroke-width="0.7"/>
<circle cx="431.66" cy="171.94" r="1.9" fill="#f6f6ff" stroke="#4646f0" stroke-width="0.7"/>
<circle cx="432.68" cy="171.59" r="1.9" fill="#f6f6ff" stroke="#4646f0" stroke-width="0.7"/>
<circle cx="433.69" cy="171.55" r="1.9" fill="#f6f6ff" stroke="#4646f0" stroke-width="0.7"/>
<circle cx="434.7" cy="172.24" r="1.9" fill="#f6f6ff" stroke="#4646f0" stroke-width="0.7"/>
<circle cx="435.71" cy="172.19" r="1.9" fill="#f6f6ff" stroke="#4646f0" stroke-width="0.7"/>
<circle cx="436.72" cy="171.58" r="1.9" fill="#f6f6ff" stroke="#4646f0" stroke-width="0.7"/>
<circle cx="437.73" cy="171.29" r="1.9" fill="#f6f6ff" stroke="#4646f0" stroke-width="0.7"/>
<circle cx="438.74" cy="171.98" r="1.9" fill="#f6f6ff" stroke="#4646f0" stroke-width="0.7"/>
<circle cx="439.75" cy="171.77" r="1.9" fill="#f6f6ff" stroke="#4646f0" stroke-width="0.7"/>
<circle cx="440.76" cy="171.62" r="1.9" fill="#f6f6ff" stroke="#4646f0" stroke-width="0.7"/>
<circle cx="441.77" cy="171.88" r="1.9" fill="#f6f6ff" stroke="#4646f0" stroke-width="0.7"/>
<circle cx="442.78" cy="171.83" r="1.9" fill="#f6f6ff" stroke="#4646f0" stroke-width="0.7"/>
<circle cx="443.8" cy="171.87" r="1.9" fill="#f6f6ff" stroke="#4646f0" stroke-width="0.7"/>
<circle cx="444.81" cy="171.81" r="1.9" fill="#f6f6ff" stroke="#4646f0" stroke-width="0.7"/>
<circle cx="445.82" cy="171.58" r="1.9" fill="#f6f6ff" stroke="#4646f0" stroke-width="0.7"/>
<circle cx="446.83" cy="171.85" r="1.9" fill="#f6f6ff" stroke="#4646f0" stroke-width="0.7"/>
<circle cx="447.84" cy="171.77" r="1.9" fill="#f6f6ff" stroke="#4646f0" stroke-width="0.7"/>
<circle cx="448.85" cy="171.38" r="1.9" fill="#f6f6ff" stroke="#4646f0" stroke-width="0.7"/>
<circle cx="449.86" cy="172.09" r="1.9" fill="#f6f6ff" stroke="#4646f0" stroke-width="0.7"/>
<circle cx="450.87" cy="171.56" r="1.9" fill="#f6f6ff" stroke="#4646f0" stroke-width="0.7"/>
<circle cx="451.88" cy="171.38" r="1.9" fill="#f6f6ff" stroke="#4646f0" stroke-width="0.7"/>
<circle cx="452.89" cy="171.79" r="1.9" fill="#f6f6ff" stroke="#4646f0" stroke-width="0.7"/>
<circle cx="453.91" cy="171.87" r="1.9" fill="#f6f6ff" stroke="#4646f0" stroke-width="0.7"/>
<circle cx="454.92" cy="171.29" r="1.9" fill="#f6f6ff" stroke="#4646f0" stroke-width="0.7"/>
<circle cx="455.93" cy="171.83" r="1.9" fill="#f6f6ff" stroke="#4646f0" stroke-width="0.7"/>
<circle cx="456.94" cy="171.87" r="1.9" fill="#f6f6ff" stroke="#4646f0" stroke-width="0.7"/>
<circle cx="457.95" cy="171.62" r="1.9" fill="#f6f6ff" stroke="#4646f0" stroke-width="0.7"/>
<circle cx="458.96" cy="171.36" r="1.9" fill="#f6f6ff" stroke="#4646f0" stroke-width="0.7"/>
<circle cx="459.97" cy="171.93" r="1.9" fill="#f6f6ff" stroke="#4646f0" stroke-width="0.7"/>
<circle cx="460.98" cy="171.71" r="1.9" fill="#f6f6ff" stroke="#4646f0" stroke-width="0.7"/>
<circle cx="461.99" cy="171.68" r="1.9" fill="#f6f6ff" stroke="#4646f0" stroke-width="0.7"/>
<circle cx="463" cy="171.19" r="1.9" fill="#f6f6ff" stroke="#4646f0" stroke-width="0.7"/>
<circle cx="464.02" cy="171.56" r="1.9" fill="#f6f6ff" stroke="#4646f0" stroke-width="0.7"/>
<circle cx="465.03" cy="171.15" r="1.9" fill="#f6f6ff" stroke="#4646f0" stroke-width="0.7"/>
<circle cx="466.04" cy="171.81" r="1.9" fill="#f6f6ff" stroke="#4646f0" stroke-width="0.7"/>
<circle cx="467.05" cy="171.64" r="1.9" fill="#f6f6ff" stroke="#4646f0" stroke-width="0.7"/>
<circle cx="468.06" cy="171.32" r="1.9" fill="#f6f6ff" stroke="#4646f0" stroke-width="0.7"/>
<circle cx="469.07" cy="171.08" r="1.9" fill="#f6f6ff" stroke="#4646f0" stroke-width="0.7"/>
<circle cx="470.08" cy="171.5" r="1.9" fill="#f6f6ff" stroke="#4646f0" stroke-width="0.7"/>
<circle cx="471.09" cy="171.71" r="1.9" fill="#f6f6ff" stroke="#4646f0" stroke-width="0.7"/>
<circle cx="472.1" cy="171.8" r="1.9" fill="#f6f6ff" stroke="#4646f0" stroke-width="0.7"/>
<circle cx="473.12" cy="171.39" r="1.9" fill="#f6f6ff" stroke="#4646f0" stroke-width="0.7"/>
<circle cx="474.13" cy="171.71" r="1.9" fill="#f6f6ff" stroke="#4646f0" stroke-width="0.7"/>
<circle cx="475.14" cy="171.1" r="1.9" fill="#f6f6ff" stroke="#4646f0" stroke-width="0.7"/>
<circle cx="476.15" cy="171.06" r="1.9" fill="#f6f6ff" stroke="#4646f0" stroke-width="0.7"/>
<circle cx="477.16" cy="171.69" r="1.9" fill="#f6f6ff" stroke="#4646f0" stroke-width="0.7"/>
<circle cx="478.17" cy="171.59" r="1.9" fill="#f6f6ff" stroke="#4646f0" stroke-width="0.7"/>
<circle cx="479.18" cy="171.07" r="1.9" fill="#f6f6ff" stroke="#4646f0" stroke-width="0.7"/>
<circle cx="480.19" cy="171.22" r="1.9" fill="#f6f6ff" stroke="#4646f0" stroke-width="0.7"/>
<circle cx="481.2" cy="171.05" r="1.9" fill="#f6f6ff" stroke="#4646f0" stroke-width="0.7"/>
<circle cx="482.21" cy="171.49" r="1.9" fill="#f6f6ff" stroke="#4646f0" stroke-width="0.7"/>
<circle cx="483.23" cy="171.69" r="1.9" fill="#f6f6ff" stroke="#4646f0" stroke-width="0.7"/>
<circle cx="484.24" cy="171.52" r="1.9" fill="#f6f6ff" stroke="#4646f0" stroke-width="0.7"/>
<circle cx="485.25" cy="171.03" r="1.9" fill="#f6f6ff" stroke="#4646f0" stroke-width="0.7"/>
<circle cx="486.26" cy="171.53" r="1.9" fill="#f6f6ff" stroke="#4646f0" stroke-width="0.7"/>
<circle cx="487.27" cy="171.44" r="1.9" fill="#f6f6ff" stroke="#4646f0" stroke-width="0.7"/>
<circle cx="488.28" cy="171.37" r="1.9" fill="#f6f6ff" stroke="#4646f0" stroke-width="0.7"/>
<circle cx="489.29" cy="171.35" r="1.9" fill="#f6f6ff" stroke="#4646f0" stroke-width="0.7"/>
<circle cx="490.3" cy="171.36" r="1.9" fill="#f6f6ff" stroke="#4646f0" stroke-width="0.7"/>
<circle cx="491.31" cy="170.85" r="1.9" fill="#f6f6ff" stroke="#4646f0" stroke-width="0.7"/>
<circle cx="492.32" cy="171.58" r="1.9" fill="#f6f6ff" stroke="#4646f0" stroke-width="0.7"/>
<circle cx="493.33" cy="171.72" r="1.9" fill="#f6f6ff" stroke="#4646f0" stroke-width="0.7"/>
<circle cx="494.35" cy="170.8" r="1.9" fill="#f6f6ff" stroke="#4646f0" stroke-width="0.7"/>
<circle cx="495.36" cy="170.85" r="1.9" fill="#f6f6ff" stroke="#4646f0" stroke-width="0.7"/>
<circle cx="496.37" cy="170.74" r="1.9" fill="#f6f6ff" stroke="#4646f0" stroke-width="0.7"/>
<circle cx="497.38" cy="171.27" r="1.9" fill="#f6f6ff" stroke="#4646f0" stroke-width="0.7"/>
<circle cx="498.39" cy="170.75" r="1.9" fill="#f6f6ff" stroke="#4646f0" stroke-width="0.7"/>
<circle cx="499.4" cy="170.77" r="1.9" fill="#f6f6ff" stroke="#4646f0" stroke-width="0.7"/>
<circle cx="500.41" cy="171.45" r="1.9" fill="#f6f6ff" stroke="#4646f0" stroke-width="0.7"/>
<circle cx="501.42" cy="170.93" r="1.9" fill="#f6f6ff" stroke="#4646f0" stroke-width="0.7"/>
<circle cx="502.43" cy="170.83" r="1.9" fill="#f6f6ff" stroke="#4646f0" stroke-width="0.7"/>
<circle cx="503.44" cy="170.99" r="1.9" fill="#f6f6ff" stroke="#4646f0" stroke-width="0.7"/>
<circle cx="504.46" cy="171.12" r="1.9" fill="#f6f6ff" stroke="#4646f0" stroke-width="0.7"/>
<circle cx="505.47" cy="171.34" r="1.9" fill="#f6f6ff" stroke="#4646f0" stroke-width="0.7"/>
<circle cx="506.48" cy="171.28" r="1.9" fill="#f6f6ff" stroke="#4646f0" stroke-width="0.7"/>
<circle cx="507.49" cy="171.38" r="1.9" fill="#f6f6ff" stroke="#4646f0" stroke-width="0.7"/>
<circle cx="508.5" cy="171.52" r="1.9" fill="#f6f6ff" stroke="#4646f0" stroke-width="0.7"/>
<circle cx="307.31" cy="218.42" r="2.5" fill="#16d498"/>
<circle cx="308.32" cy="212.73" r="2.5" fill="#16d498"/>
<circle cx="309.33" cy="207.04" r="2.5" fill="#16d498"/>
<circle cx="310.34" cy="201.35" r="2.5" fill="#16d498"/>
<circle cx="311.36" cy="198.91" r="2.5" fill="#16d498"/>
<circle cx="312.37" cy="196.47" r="2.5" fill="#16d498"/>
<circle cx="313.38" cy="194.03" r="2.5" fill="#16d498"/>
<circle cx="314.39" cy="192.89" r="2.5" fill="#16d498"/>
<circle cx="315.4" cy="191.75" r="2.5" fill="#16d498"/>
<circle cx="316.41" cy="190.61" r="2.5" fill="#16d498"/>
<circle cx="317.42" cy="189.48" r="2.5" fill="#16d498"/>
<circle cx="318.43" cy="188.34" r="2.5" fill="#16d498"/>
<circle cx="319.44" cy="187.78" r="2.5" fill="#16d498"/>
<circle cx="320.45" cy="187.22" r="2.5" fill="#16d498"/>
<circle cx="321.47" cy="186.66" r="2.5" fill="#16d498"/>
<circle cx="322.48" cy="186.1" r="2.5" fill="#16d498"/>
<circle cx="323.49" cy="185.54" r="2.5" fill="#16d498"/>
<circle cx="324.5" cy="184.98" r="2.5" fill="#16d498"/>
<circle cx="325.51" cy="184.43" r="2.5" fill="#16d498"/>
<circle cx="326.52" cy="183.87" r="2.5" fill="#16d498"/>
<circle cx="327.53" cy="183.49" r="2.5" fill="#16d498"/>
<circle cx="328.54" cy="183.12" r="2.5" fill="#16d498"/>
<circle cx="329.55" cy="182.74" r="2.5" fill="#16d498"/>
<circle cx="330.56" cy="182.37" r="2.5" fill="#16d498"/>
<circle cx="331.57" cy="181.99" r="2.5" fill="#16d498"/>
<circle cx="332.59" cy="181.62" r="2.5" fill="#16d498"/>
<circle cx="333.6" cy="181.24" r="2.5" fill="#16d498"/>
<circle cx="334.61" cy="180.86" r="2.5" fill="#16d498"/>
<circle cx="335.62" cy="180.49" r="2.5" fill="#16d498"/>
<circle cx="336.63" cy="180.11" r="2.5" fill="#16d498"/>
<circle cx="337.64" cy="179.74" r="2.5" fill="#16d498"/>
<circle cx="338.65" cy="179.36" r="2.5" fill="#16d498"/>
<circle cx="339.66" cy="178.99" r="2.5" fill="#16d498"/>
<circle cx="340.67" cy="178.87" r="2.5" fill="#16d498"/>
<circle cx="341.69" cy="178.75" r="2.5" fill="#16d498"/>
<circle cx="342.7" cy="178.63" r="2.5" fill="#16d498"/>
<circle cx="343.71" cy="178.51" r="2.5" fill="#16d498"/>
<circle cx="344.72" cy="178.39" r="2.5" fill="#16d498"/>
<circle cx="345.73" cy="178.27" r="2.5" fill="#16d498"/>
<circle cx="346.74" cy="178.15" r="2.5" fill="#16d498"/>
<circle cx="347.75" cy="178.03" r="2.5" fill="#16d498"/>
<circle cx="348.76" cy="177.91" r="2.5" fill="#16d498"/>
<circle cx="349.77" cy="177.79" r="2.5" fill="#16d498"/>
<circle cx="350.78" cy="177.67" r="2.5" fill="#16d498"/>
<circle cx="351.8" cy="177.55" r="2.5" fill="#16d498"/>
<circle cx="352.81" cy="177.43" r="2.5" fill="#16d498"/>
<circle cx="353.82" cy="177.31" r="2.5" fill="#16d498"/>
<circle cx="354.83" cy="177.2" r="2.5" fill="#16d498"/>
<circle cx="355.84" cy="177.08" r="2.5" fill="#16d498"/>
<circle cx="356.85" cy="176.96" r="2.5" fill="#16d498"/>
<circle cx="357.86" cy="176.89" r="2.5" fill="#16d498"/>
<circle cx="358.87" cy="176.81" r="2.5" fill="#16d498"/>
<circle cx="359.88" cy="176.74" r="2.5" fill="#16d498"/>
<circle cx="360.89" cy="176.67" r="2.5" fill="#16d498"/>
<circle cx="361.91" cy="176.6" r="2.5" fill="#16d498"/>
<circle cx="362.92" cy="176.53" r="2.5" fill="#16d498"/>
<circle cx="363.93" cy="176.46" r="2.5" fill="#16d498"/>
<circle cx="364.94" cy="176.39" r="2.5" fill="#16d498"/>
<circle cx="365.95" cy="176.32" r="2.5" fill="#16d498"/>
<circle cx="366.96" cy="176.25" r="2.5" fill="#16d498"/>
<circle cx="367.97" cy="176.18" r="2.5" fill="#16d498"/>
<circle cx="368.98" cy="176.11" r="2.5" fill="#16d498"/>
<circle cx="369.99" cy="176.04" r="2.5" fill="#16d498"/>
<circle cx="371" cy="175.97" r="2.5" fill="#16d498"/>
<circle cx="372.01" cy="175.9" r="2.5" fill="#16d498"/>
<circle cx="373.03" cy="175.82" r="2.5" fill="#16d498"/>
<circle cx="374.04" cy="175.75" r="2.5" fill="#16d498"/>
<circle cx="375.05" cy="175.68" r="2.5" fill="#16d498"/>
<circle cx="376.06" cy="175.61" r="2.5" fill="#16d498"/>
<circle cx="377.07" cy="175.54" r="2.5" fill="#16d498"/>
<circle cx="378.08" cy="175.47" r="2.5" fill="#16d498"/>
<circle cx="379.09" cy="175.4" r="2.5" fill="#16d498"/>
<circle cx="380.1" cy="175.33" r="2.5" fill="#16d498"/>
<circle cx="381.11" cy="175.28" r="2.5" fill="#16d498"/>
<circle cx="382.12" cy="175.23" r="2.5" fill="#16d498"/>
<circle cx="383.14" cy="175.18" r="2.5" fill="#16d498"/>
<circle cx="384.15" cy="175.12" r="2.5" fill="#16d498"/>
<circle cx="385.16" cy="175.07" r="2.5" fill="#16d498"/>
<circle cx="386.17" cy="175.02" r="2.5" fill="#16d498"/>
<circle cx="387.18" cy="174.97" r="2.5" fill="#16d498"/>
<circle cx="388.19" cy="174.92" r="2.5" fill="#16d498"/>
<circle cx="389.2" cy="174.87" r="2.5" fill="#16d498"/>
<circle cx="390.21" cy="174.82" r="2.5" fill="#16d498"/>
<circle cx="391.22" cy="174.77" r="2.5" fill="#16d498"/>
<circle cx="392.24" cy="174.71" r="2.5" fill="#16d498"/>
<circle cx="393.25" cy="174.66" r="2.5" fill="#16d498"/>
<circle cx="394.26" cy="174.61" r="2.5" fill="#16d498"/>
<circle cx="395.27" cy="174.56" r="2.5" fill="#16d498"/>
<circle cx="396.28" cy="174.51" r="2.5" fill="#16d498"/>
<circle cx="397.29" cy="174.46" r="2.5" fill="#16d498"/>
<circle cx="398.3" cy="174.41" r="2.5" fill="#16d498"/>
<circle cx="399.31" cy="174.35" r="2.5" fill="#16d498"/>
<circle cx="400.32" cy="174.3" r="2.5" fill="#16d498"/>
<circle cx="401.33" cy="174.25" r="2.5" fill="#16d498"/>
<circle cx="402.35" cy="174.2" r="2.5" fill="#16d498"/>
<circle cx="403.36" cy="174.15" r="2.5" fill="#16d498"/>
<circle cx="404.37" cy="174.1" r="2.5" fill="#16d498"/>
<circle cx="405.38" cy="174.05" r="2.5" fill="#16d498"/>
<circle cx="406.39" cy="173.99" r="2.5" fill="#16d498"/>
<circle cx="407.4" cy="173.94" r="2.5" fill="#16d498"/>
<circle cx="408.41" cy="173.89" r="2.5" fill="#16d498"/>
<circle cx="409.42" cy="173.84" r="2.5" fill="#16d498"/>
<circle cx="410.43" cy="173.79" r="2.5" fill="#16d498"/>
<circle cx="411.44" cy="173.74" r="2.5" fill="#16d498"/>
<circle cx="412.45" cy="173.69" r="2.5" fill="#16d498"/>
<circle cx="413.47" cy="173.64" r="2.5" fill="#16d498"/>
<circle cx="414.48" cy="173.58" r="2.5" fill="#16d498"/>
<circle cx="415.49" cy="173.53" r="2.5" fill="#16d498"/>
<circle cx="416.5" cy="173.48" r="2.5" fill="#16d498"/>
<circle cx="417.51" cy="173.43" r="2.5" fill="#16d498"/>
<circle cx="418.52" cy="173.38" r="2.5" fill="#16d498"/>
<circle cx="419.53" cy="173.37" r="2.5" fill="#16d498"/>
<circle cx="420.54" cy="173.35" r="2.5" fill="#16d498"/>
<circle cx="421.55" cy="173.34" r="2.5" fill="#16d498"/>
<circle cx="422.56" cy="173.33" r="2.5" fill="#16d498"/>
<circle cx="423.58" cy="173.32" r="2.5" fill="#16d498"/>
<circle cx="424.59" cy="173.3" r="2.5" fill="#16d498"/>
<circle cx="425.6" cy="173.29" r="2.5" fill="#16d498"/>
<circle cx="426.61" cy="173.28" r="2.5" fill="#16d498"/>
<circle cx="427.62" cy="173.27" r="2.5" fill="#16d498"/>
<circle cx="428.63" cy="173.25" r="2.5" fill="#16d498"/>
<circle cx="429.64" cy="173.24" r="2.5" fill="#16d498"/>
<circle cx="430.65" cy="173.23" r="2.5" fill="#16d498"/>
<circle cx="431.66" cy="173.22" r="2.5" fill="#16d498"/>
<circle cx="432.68" cy="173.2" r="2.5" fill="#16d498"/>
<circle cx="433.69" cy="173.19" r="2.5" fill="#16d498"/>
<circle cx="434.7" cy="173.18" r="2.5" fill="#16d498"/>
<circle cx="435.71" cy="173.17" r="2.5" fill="#16d498"/>
<circle cx="436.72" cy="173.15" r="2.5" fill="#16d498"/>
<circle cx="437.73" cy="173.14" r="2.5" fill="#16d498"/>
<circle cx="438.74" cy="173.13" r="2.5" fill="#16d498"/>
<circle cx="439.75" cy="173.12" r="2.5" fill="#16d498"/>
<circle cx="440.76" cy="173.1" r="2.5" fill="#16d498"/>
<circle cx="441.77" cy="173.09" r="2.5" fill="#16d498"/>
<circle cx="442.78" cy="173.08" r="2.5" fill="#16d498"/>
<circle cx="443.8" cy="173.07" r="2.5" fill="#16d498"/>
<circle cx="444.81" cy="173.05" r="2.5" fill="#16d498"/>
<circle cx="445.82" cy="173.04" r="2.5" fill="#16d498"/>
<circle cx="446.83" cy="173.03" r="2.5" fill="#16d498"/>
<circle cx="447.84" cy="173.02" r="2.5" fill="#16d498"/>
<circle cx="448.85" cy="173" r="2.5" fill="#16d498"/>
<circle cx="449.86" cy="172.99" r="2.5" fill="#16d498"/>
<circle cx="450.87" cy="172.98" r="2.5" fill="#16d498"/>
<circle cx="451.88" cy="172.97" r="2.5" fill="#16d498"/>
<circle cx="452.89" cy="172.95" r="2.5" fill="#16d498"/>
<circle cx="453.91" cy="172.94" r="2.5" fill="#16d498"/>
<circle cx="454.92" cy="172.93" r="2.5" fill="#16d498"/>
<circle cx="455.93" cy="172.92" r="2.5" fill="#16d498"/>
<circle cx="456.94" cy="172.9" r="2.5" fill="#16d498"/>
<circle cx="457.95" cy="172.89" r="2.5" fill="#16d498"/>
<circle cx="458.96" cy="172.88" r="2.5" fill="#16d498"/>
<circle cx="459.97" cy="172.88" r="2.5" fill="#16d498"/>
<circle cx="460.98" cy="172.87" r="2.5" fill="#16d498"/>
<circle cx="461.99" cy="172.86" r="2.5" fill="#16d498"/>
<circle cx="463" cy="172.86" r="2.5" fill="#16d498"/>
<circle cx="464.02" cy="172.85" r="2.5" fill="#16d498"/>
<circle cx="465.03" cy="172.85" r="2.5" fill="#16d498"/>
<circle cx="466.04" cy="172.84" r="2.5" fill="#16d498"/>
<circle cx="467.05" cy="172.83" r="2.5" fill="#16d498"/>
<circle cx="468.06" cy="172.83" r="2.5" fill="#16d498"/>
<circle cx="469.07" cy="172.82" r="2.5" fill="#16d498"/>
<circle cx="470.08" cy="172.81" r="2.5" fill="#16d498"/>
<circle cx="471.09" cy="172.81" r="2.5" fill="#16d498"/>
<circle cx="472.1" cy="172.8" r="2.5" fill="#16d498"/>
<circle cx="473.12" cy="172.79" r="2.5" fill="#16d498"/>
<circle cx="474.13" cy="172.79" r="2.5" fill="#16d498"/>
<circle cx="475.14" cy="172.78" r="2.5" fill="#16d498"/>
<circle cx="476.15" cy="172.77" r="2.5" fill="#16d498"/>
<circle cx="477.16" cy="172.77" r="2.5" fill="#16d498"/>
<circle cx="478.17" cy="172.76" r="2.5" fill="#16d498"/>
<circle cx="479.18" cy="172.75" r="2.5" fill="#16d498"/>
<circle cx="480.19" cy="172.75" r="2.5" fill="#16d498"/>
<circle cx="481.2" cy="172.74" r="2.5" fill="#16d498"/>
<circle cx="482.21" cy="172.73" r="2.5" fill="#16d498"/>
<circle cx="483.23" cy="172.73" r="2.5" fill="#16d498"/>
<circle cx="484.24" cy="172.72" r="2.5" fill="#16d498"/>
<circle cx="485.25" cy="172.72" r="2.5" fill="#16d498"/>
<circle cx="486.26" cy="172.71" r="2.5" fill="#16d498"/>
<circle cx="487.27" cy="172.7" r="2.5" fill="#16d498"/>
<circle cx="488.28" cy="172.7" r="2.5" fill="#16d498"/>
<circle cx="489.29" cy="172.69" r="2.5" fill="#16d498"/>
<circle cx="490.3" cy="172.68" r="2.5" fill="#16d498"/>
<circle cx="491.31" cy="172.68" r="2.5" fill="#16d498"/>
<circle cx="492.32" cy="172.67" r="2.5" fill="#16d498"/>
<circle cx="493.33" cy="172.66" r="2.5" fill="#16d498"/>
<circle cx="494.35" cy="172.66" r="2.5" fill="#16d498"/>
<circle cx="495.36" cy="172.65" r="2.5" fill="#16d498"/>
<circle cx="496.37" cy="172.64" r="2.5" fill="#16d498"/>
<circle cx="497.38" cy="172.64" r="2.5" fill="#16d498"/>
<circle cx="498.39" cy="172.63" r="2.5" fill="#16d498"/>
<circle cx="499.4" cy="172.62" r="2.5" fill="#16d498"/>
<circle cx="500.41" cy="172.62" r="2.5" fill="#16d498"/>
<circle cx="501.42" cy="172.61" r="2.5" fill="#16d498"/>
<circle cx="502.43" cy="172.6" r="2.5" fill="#16d498"/>
<circle cx="503.44" cy="172.6" r="2.5" fill="#16d498"/>
<circle cx="504.46" cy="172.59" r="2.5" fill="#16d498"/>
<circle cx="505.47" cy="172.59" r="2.5" fill="#16d498"/>
<circle cx="506.48" cy="172.58" r="2.5" fill="#16d498"/>
<circle cx="507.49" cy="172.57" r="2.5" fill="#16d498"/>
<circle cx="508.5" cy="172.57" r="2.5" fill="#16d498"/>
<circle cx="307.31" cy="234.68" r="2.3" fill="#16d498"/>
<circle cx="308.32" cy="242.4" r="2.3" fill="#16d498"/>
<circle cx="309.33" cy="246.06" r="2.3" fill="#16d498"/>
<circle cx="310.34" cy="247.28" r="2.3" fill="#16d498"/>
<circle cx="311.36" cy="248.5" r="2.3" fill="#16d498"/>
<circle cx="312.37" cy="249.11" r="2.3" fill="#16d498"/>
<circle cx="313.38" cy="249.72" r="2.3" fill="#16d498"/>
<circle cx="314.39" cy="250.33" r="2.3" fill="#16d498"/>
<circle cx="315.4" cy="250.94" r="2.3" fill="#16d498"/>
<circle cx="316.41" cy="251.55" r="2.3" fill="#16d498"/>
<circle cx="317.42" cy="252" r="2.3" fill="#16d498"/>
<circle cx="318.43" cy="252.44" r="2.3" fill="#16d498"/>
<circle cx="319.44" cy="252.89" r="2.3" fill="#16d498"/>
<circle cx="320.45" cy="253.34" r="2.3" fill="#16d498"/>
<circle cx="321.47" cy="253.78" r="2.3" fill="#16d498"/>
<circle cx="322.48" cy="254.13" r="2.3" fill="#16d498"/>
<circle cx="323.49" cy="254.48" r="2.3" fill="#16d498"/>
<circle cx="324.5" cy="254.82" r="2.3" fill="#16d498"/>
<circle cx="325.51" cy="255.17" r="2.3" fill="#16d498"/>
<circle cx="326.52" cy="255.51" r="2.3" fill="#16d498"/>
<circle cx="327.53" cy="255.86" r="2.3" fill="#16d498"/>
<circle cx="328.54" cy="256.2" r="2.3" fill="#16d498"/>
<circle cx="329.55" cy="256.55" r="2.3" fill="#16d498"/>
<circle cx="330.56" cy="256.89" r="2.3" fill="#16d498"/>
<circle cx="331.57" cy="257.24" r="2.3" fill="#16d498"/>
<circle cx="332.59" cy="257.48" r="2.3" fill="#16d498"/>
<circle cx="333.6" cy="257.71" r="2.3" fill="#16d498"/>
<circle cx="334.61" cy="257.95" r="2.3" fill="#16d498"/>
<circle cx="335.62" cy="258.19" r="2.3" fill="#16d498"/>
<circle cx="336.63" cy="258.43" r="2.3" fill="#16d498"/>
<circle cx="337.64" cy="258.66" r="2.3" fill="#16d498"/>
<circle cx="338.65" cy="258.9" r="2.3" fill="#16d498"/>
<circle cx="339.66" cy="259.14" r="2.3" fill="#16d498"/>
<circle cx="340.67" cy="259.37" r="2.3" fill="#16d498"/>
<circle cx="341.69" cy="259.61" r="2.3" fill="#16d498"/>
<circle cx="342.7" cy="259.85" r="2.3" fill="#16d498"/>
<circle cx="343.71" cy="260.09" r="2.3" fill="#16d498"/>
<circle cx="344.72" cy="260.23" r="2.3" fill="#16d498"/>
<circle cx="345.73" cy="260.37" r="2.3" fill="#16d498"/>
<circle cx="346.74" cy="260.51" r="2.3" fill="#16d498"/>
<circle cx="347.75" cy="260.65" r="2.3" fill="#16d498"/>
<circle cx="348.76" cy="260.79" r="2.3" fill="#16d498"/>
<circle cx="349.77" cy="260.93" r="2.3" fill="#16d498"/>
<circle cx="350.78" cy="261.07" r="2.3" fill="#16d498"/>
<circle cx="351.8" cy="261.21" r="2.3" fill="#16d498"/>
<circle cx="352.81" cy="261.35" r="2.3" fill="#16d498"/>
<circle cx="353.82" cy="261.49" r="2.3" fill="#16d498"/>
<circle cx="354.83" cy="261.63" r="2.3" fill="#16d498"/>
<circle cx="355.84" cy="261.77" r="2.3" fill="#16d498"/>
<circle cx="356.85" cy="261.91" r="2.3" fill="#16d498"/>
<circle cx="357.86" cy="262.02" r="2.3" fill="#16d498"/>
<circle cx="358.87" cy="262.12" r="2.3" fill="#16d498"/>
<circle cx="359.88" cy="262.22" r="2.3" fill="#16d498"/>
<circle cx="360.89" cy="262.32" r="2.3" fill="#16d498"/>
<circle cx="361.91" cy="262.42" r="2.3" fill="#16d498"/>
<circle cx="362.92" cy="262.52" r="2.3" fill="#16d498"/>
<circle cx="363.93" cy="262.63" r="2.3" fill="#16d498"/>
<circle cx="364.94" cy="262.73" r="2.3" fill="#16d498"/>
<circle cx="365.95" cy="262.83" r="2.3" fill="#16d498"/>
<circle cx="366.96" cy="262.93" r="2.3" fill="#16d498"/>
<circle cx="367.97" cy="262.99" r="2.3" fill="#16d498"/>
<circle cx="368.98" cy="263.04" r="2.3" fill="#16d498"/>
<circle cx="369.99" cy="263.1" r="2.3" fill="#16d498"/>
<circle cx="371" cy="263.15" r="2.3" fill="#16d498"/>
<circle cx="372.01" cy="263.21" r="2.3" fill="#16d498"/>
<circle cx="373.03" cy="263.26" r="2.3" fill="#16d498"/>
<circle cx="374.04" cy="263.32" r="2.3" fill="#16d498"/>
<circle cx="375.05" cy="263.37" r="2.3" fill="#16d498"/>
<circle cx="376.06" cy="263.43" r="2.3" fill="#16d498"/>
<circle cx="377.07" cy="263.49" r="2.3" fill="#16d498"/>
<circle cx="378.08" cy="263.54" r="2.3" fill="#16d498"/>
<circle cx="379.09" cy="263.6" r="2.3" fill="#16d498"/>
<circle cx="380.1" cy="263.65" r="2.3" fill="#16d498"/>
<circle cx="381.11" cy="263.71" r="2.3" fill="#16d498"/>
<circle cx="382.12" cy="263.76" r="2.3" fill="#16d498"/>
<circle cx="383.14" cy="263.82" r="2.3" fill="#16d498"/>
<circle cx="384.15" cy="263.87" r="2.3" fill="#16d498"/>
<circle cx="385.16" cy="263.93" r="2.3" fill="#16d498"/>
<circle cx="386.17" cy="263.98" r="2.3" fill="#16d498"/>
<circle cx="387.18" cy="264.04" r="2.3" fill="#16d498"/>
<circle cx="388.19" cy="264.09" r="2.3" fill="#16d498"/>
<circle cx="389.2" cy="264.15" r="2.3" fill="#16d498"/>
<circle cx="390.21" cy="264.18" r="2.3" fill="#16d498"/>
<circle cx="391.22" cy="264.2" r="2.3" fill="#16d498"/>
<circle cx="392.24" cy="264.23" r="2.3" fill="#16d498"/>
<circle cx="393.25" cy="264.26" r="2.3" fill="#16d498"/>
<circle cx="394.26" cy="264.28" r="2.3" fill="#16d498"/>
<circle cx="395.27" cy="264.31" r="2.3" fill="#16d498"/>
<circle cx="396.28" cy="264.33" r="2.3" fill="#16d498"/>
<circle cx="397.29" cy="264.36" r="2.3" fill="#16d498"/>
<circle cx="398.3" cy="264.39" r="2.3" fill="#16d498"/>
<circle cx="399.31" cy="264.41" r="2.3" fill="#16d498"/>
<circle cx="400.32" cy="264.44" r="2.3" fill="#16d498"/>
<circle cx="401.33" cy="264.46" r="2.3" fill="#16d498"/>
<circle cx="402.35" cy="264.49" r="2.3" fill="#16d498"/>
<circle cx="403.36" cy="264.52" r="2.3" fill="#16d498"/>
<circle cx="404.37" cy="264.54" r="2.3" fill="#16d498"/>
<circle cx="405.38" cy="264.57" r="2.3" fill="#16d498"/>
<circle cx="406.39" cy="264.6" r="2.3" fill="#16d498"/>
<circle cx="407.4" cy="264.62" r="2.3" fill="#16d498"/>
<circle cx="408.41" cy="264.65" r="2.3" fill="#16d498"/>
<circle cx="409.42" cy="264.67" r="2.3" fill="#16d498"/>
<circle cx="410.43" cy="264.7" r="2.3" fill="#16d498"/>
<circle cx="411.44" cy="264.73" r="2.3" fill="#16d498"/>
<circle cx="412.45" cy="264.75" r="2.3" fill="#16d498"/>
<circle cx="413.47" cy="264.78" r="2.3" fill="#16d498"/>
<circle cx="414.48" cy="264.81" r="2.3" fill="#16d498"/>
<circle cx="415.49" cy="264.83" r="2.3" fill="#16d498"/>
<circle cx="416.5" cy="264.86" r="2.3" fill="#16d498"/>
<circle cx="417.51" cy="264.88" r="2.3" fill="#16d498"/>
<circle cx="418.52" cy="264.91" r="2.3" fill="#16d498"/>
<circle cx="419.53" cy="264.94" r="2.3" fill="#16d498"/>
<circle cx="420.54" cy="264.96" r="2.3" fill="#16d498"/>
<circle cx="421.55" cy="264.97" r="2.3" fill="#16d498"/>
<circle cx="422.56" cy="264.99" r="2.3" fill="#16d498"/>
<circle cx="423.58" cy="265" r="2.3" fill="#16d498"/>
<circle cx="424.59" cy="265.01" r="2.3" fill="#16d498"/>
<circle cx="425.6" cy="265.02" r="2.3" fill="#16d498"/>
<circle cx="426.61" cy="265.03" r="2.3" fill="#16d498"/>
<circle cx="427.62" cy="265.04" r="2.3" fill="#16d498"/>
<circle cx="428.63" cy="265.05" r="2.3" fill="#16d498"/>
<circle cx="429.64" cy="265.06" r="2.3" fill="#16d498"/>
<circle cx="430.65" cy="265.07" r="2.3" fill="#16d498"/>
<circle cx="431.66" cy="265.08" r="2.3" fill="#16d498"/>
<circle cx="432.68" cy="265.1" r="2.3" fill="#16d498"/>
<circle cx="433.69" cy="265.11" r="2.3" fill="#16d498"/>
<circle cx="434.7" cy="265.12" r="2.3" fill="#16d498"/>
<circle cx="435.71" cy="265.13" r="2.3" fill="#16d498"/>
<circle cx="436.72" cy="265.14" r="2.3" fill="#16d498"/>
<circle cx="437.73" cy="265.15" r="2.3" fill="#16d498"/>
<circle cx="438.74" cy="265.16" r="2.3" fill="#16d498"/>
<circle cx="439.75" cy="265.17" r="2.3" fill="#16d498"/>
<circle cx="440.76" cy="265.18" r="2.3" fill="#16d498"/>
<circle cx="441.77" cy="265.19" r="2.3" fill="#16d498"/>
<circle cx="442.78" cy="265.2" r="2.3" fill="#16d498"/>
<circle cx="443.8" cy="265.22" r="2.3" fill="#16d498"/>
<circle cx="444.81" cy="265.23" r="2.3" fill="#16d498"/>
<circle cx="445.82" cy="265.24" r="2.3" fill="#16d498"/>
<circle cx="446.83" cy="265.25" r="2.3" fill="#16d498"/>
<circle cx="447.84" cy="265.26" r="2.3" fill="#16d498"/>
<circle cx="448.85" cy="265.27" r="2.3" fill="#16d498"/>
<circle cx="449.86" cy="265.28" r="2.3" fill="#16d498"/>
<circle cx="450.87" cy="265.29" r="2.3" fill="#16d498"/>
<circle cx="451.88" cy="265.3" r="2.3" fill="#16d498"/>
<circle cx="452.89" cy="265.31" r="2.3" fill="#16d498"/>
<circle cx="453.91" cy="265.33" r="2.3" fill="#16d498"/>
<circle cx="454.92" cy="265.34" r="2.3" fill="#16d498"/>
<circle cx="455.93" cy="265.35" r="2.3" fill="#16d498"/>
<circle cx="456.94" cy="265.36" r="2.3" fill="#16d498"/>
<circle cx="457.95" cy="265.37" r="2.3" fill="#16d498"/>
<circle cx="458.96" cy="265.37" r="2.3" fill="#16d498"/>
<circle cx="459.97" cy="265.38" r="2.3" fill="#16d498"/>
<circle cx="460.98" cy="265.38" r="2.3" fill="#16d498"/>
<circle cx="461.99" cy="265.39" r="2.3" fill="#16d498"/>
<circle cx="463" cy="265.39" r="2.3" fill="#16d498"/>
<circle cx="464.02" cy="265.39" r="2.3" fill="#16d498"/>
<circle cx="465.03" cy="265.4" r="2.3" fill="#16d498"/>
<circle cx="466.04" cy="265.4" r="2.3" fill="#16d498"/>
<circle cx="467.05" cy="265.41" r="2.3" fill="#16d498"/>
<circle cx="468.06" cy="265.41" r="2.3" fill="#16d498"/>
<circle cx="469.07" cy="265.41" r="2.3" fill="#16d498"/>
<circle cx="470.08" cy="265.42" r="2.3" fill="#16d498"/>
<circle cx="471.09" cy="265.42" r="2.3" fill="#16d498"/>
<circle cx="472.1" cy="265.43" r="2.3" fill="#16d498"/>
<circle cx="473.12" cy="265.43" r="2.3" fill="#16d498"/>
<circle cx="474.13" cy="265.43" r="2.3" fill="#16d498"/>
<circle cx="475.14" cy="265.44" r="2.3" fill="#16d498"/>
<circle cx="476.15" cy="265.44" r="2.3" fill="#16d498"/>
<circle cx="477.16" cy="265.45" r="2.3" fill="#16d498"/>
<circle cx="478.17" cy="265.45" r="2.3" fill="#16d498"/>
<circle cx="479.18" cy="265.46" r="2.3" fill="#16d498"/>
<circle cx="480.19" cy="265.46" r="2.3" fill="#16d498"/>
<circle cx="481.2" cy="265.46" r="2.3" fill="#16d498"/>
<circle cx="482.21" cy="265.47" r="2.3" fill="#16d498"/>
<circle cx="483.23" cy="265.47" r="2.3" fill="#16d498"/>
<circle cx="484.24" cy="265.48" r="2.3" fill="#16d498"/>
<circle cx="485.25" cy="265.48" r="2.3" fill="#16d498"/>
<circle cx="486.26" cy="265.48" r="2.3" fill="#16d498"/>
<circle cx="487.27" cy="265.49" r="2.3" fill="#16d498"/>
<circle cx="488.28" cy="265.49" r="2.3" fill="#16d498"/>
<circle cx="489.29" cy="265.5" r="2.3" fill="#16d498"/>
<circle cx="490.3" cy="265.5" r="2.3" fill="#16d498"/>
<circle cx="491.31" cy="265.5" r="2.3" fill="#16d498"/>
<circle cx="492.32" cy="265.51" r="2.3" fill="#16d498"/>
<circle cx="493.33" cy="265.51" r="2.3" fill="#16d498"/>
<circle cx="494.35" cy="265.52" r="2.3" fill="#16d498"/>
<circle cx="495.36" cy="265.52" r="2.3" fill="#16d498"/>
<circle cx="496.37" cy="265.52" r="2.3" fill="#16d498"/>
<circle cx="497.38" cy="265.53" r="2.3" fill="#16d498"/>
<circle cx="498.39" cy="265.53" r="2.3" fill="#16d498"/>
<circle cx="499.4" cy="265.54" r="2.3" fill="#16d498"/>
<circle cx="500.41" cy="265.54" r="2.3" fill="#16d498"/>
<circle cx="501.42" cy="265.54" r="2.3" fill="#16d498"/>
<circle cx="502.43" cy="265.55" r="2.3" fill="#16d498"/>
<circle cx="503.44" cy="265.55" r="2.3" fill="#16d498"/>
<circle cx="504.46" cy="265.56" r="2.3" fill="#16d498"/>
<circle cx="505.47" cy="265.56" r="2.3" fill="#16d498"/>
<circle cx="506.48" cy="265.56" r="2.3" fill="#16d498"/>
<circle cx="507.49" cy="265.57" r="2.3" fill="#16d498"/>
<circle cx="508.5" cy="265.57" r="2.3" fill="#16d498"/>
<circle cx="307.31" cy="272.71" r="2.0" fill="#e8e8ff" stroke="#3030f0" stroke-width="0.6"/>
<circle cx="308.32" cy="279.22" r="2.0" fill="#e8e8ff" stroke="#3030f0" stroke-width="0.6"/>
<circle cx="309.33" cy="284.7" r="2.0" fill="#e8e8ff" stroke="#3030f0" stroke-width="0.6"/>
<circle cx="310.34" cy="286.33" r="2.0" fill="#e8e8ff" stroke="#3030f0" stroke-width="0.6"/>
<circle cx="311.36" cy="287.96" r="2.0" fill="#e8e8ff" stroke="#3030f0" stroke-width="0.6"/>
<circle cx="312.37" cy="288.7" r="2.0" fill="#e8e8ff" stroke="#3030f0" stroke-width="0.6"/>
<circle cx="313.38" cy="289.45" r="2.0" fill="#e8e8ff" stroke="#3030f0" stroke-width="0.6"/>
<circle cx="314.39" cy="290.19" r="2.0" fill="#e8e8ff" stroke="#3030f0" stroke-width="0.6"/>
<circle cx="315.4" cy="290.5" r="2.0" fill="#e8e8ff" stroke="#3030f0" stroke-width="0.6"/>
<circle cx="316.41" cy="290.8" r="2.0" fill="#e8e8ff" stroke="#3030f0" stroke-width="0.6"/>
<circle cx="317.42" cy="291.11" r="2.0" fill="#e8e8ff" stroke="#3030f0" stroke-width="0.6"/>
<circle cx="318.43" cy="291.41" r="2.0" fill="#e8e8ff" stroke="#3030f0" stroke-width="0.6"/>
<circle cx="319.44" cy="291.72" r="2.0" fill="#e8e8ff" stroke="#3030f0" stroke-width="0.6"/>
<circle cx="320.45" cy="292.02" r="2.0" fill="#e8e8ff" stroke="#3030f0" stroke-width="0.6"/>
<circle cx="321.47" cy="292.33" r="2.0" fill="#e8e8ff" stroke="#3030f0" stroke-width="0.6"/>
<circle cx="322.48" cy="292.63" r="2.0" fill="#e8e8ff" stroke="#3030f0" stroke-width="0.6"/>
<circle cx="323.49" cy="292.94" r="2.0" fill="#e8e8ff" stroke="#3030f0" stroke-width="0.6"/>
<circle cx="324.5" cy="293.24" r="2.0" fill="#e8e8ff" stroke="#3030f0" stroke-width="0.6"/>
<circle cx="325.51" cy="293.31" r="2.0" fill="#e8e8ff" stroke="#3030f0" stroke-width="0.6"/>
<circle cx="326.52" cy="293.39" r="2.0" fill="#e8e8ff" stroke="#3030f0" stroke-width="0.6"/>
<circle cx="327.53" cy="293.46" r="2.0" fill="#e8e8ff" stroke="#3030f0" stroke-width="0.6"/>
<circle cx="328.54" cy="293.53" r="2.0" fill="#e8e8ff" stroke="#3030f0" stroke-width="0.6"/>
<circle cx="329.55" cy="293.61" r="2.0" fill="#e8e8ff" stroke="#3030f0" stroke-width="0.6"/>
<circle cx="330.56" cy="293.68" r="2.0" fill="#e8e8ff" stroke="#3030f0" stroke-width="0.6"/>
<circle cx="331.57" cy="293.75" r="2.0" fill="#e8e8ff" stroke="#3030f0" stroke-width="0.6"/>
<circle cx="332.59" cy="293.83" r="2.0" fill="#e8e8ff" stroke="#3030f0" stroke-width="0.6"/>
<circle cx="333.6" cy="293.9" r="2.0" fill="#e8e8ff" stroke="#3030f0" stroke-width="0.6"/>
<circle cx="334.61" cy="293.97" r="2.0" fill="#e8e8ff" stroke="#3030f0" stroke-width="0.6"/>
<circle cx="335.62" cy="294.05" r="2.0" fill="#e8e8ff" stroke="#3030f0" stroke-width="0.6"/>
<circle cx="336.63" cy="294.12" r="2.0" fill="#e8e8ff" stroke="#3030f0" stroke-width="0.6"/>
<circle cx="337.64" cy="294.19" r="2.0" fill="#e8e8ff" stroke="#3030f0" stroke-width="0.6"/>
<circle cx="338.65" cy="294.27" r="2.0" fill="#e8e8ff" stroke="#3030f0" stroke-width="0.6"/>
<circle cx="339.66" cy="294.34" r="2.0" fill="#e8e8ff" stroke="#3030f0" stroke-width="0.6"/>
<circle cx="340.67" cy="294.41" r="2.0" fill="#e8e8ff" stroke="#3030f0" stroke-width="0.6"/>
<circle cx="341.69" cy="294.48" r="2.0" fill="#e8e8ff" stroke="#3030f0" stroke-width="0.6"/>
<circle cx="342.7" cy="294.56" r="2.0" fill="#e8e8ff" stroke="#3030f0" stroke-width="0.6"/>
<circle cx="343.71" cy="294.63" r="2.0" fill="#e8e8ff" stroke="#3030f0" stroke-width="0.6"/>
<circle cx="344.72" cy="294.7" r="2.0" fill="#e8e8ff" stroke="#3030f0" stroke-width="0.6"/>
<circle cx="345.73" cy="294.78" r="2.0" fill="#e8e8ff" stroke="#3030f0" stroke-width="0.6"/>
<circle cx="346.74" cy="294.85" r="2.0" fill="#e8e8ff" stroke="#3030f0" stroke-width="0.6"/>
<circle cx="347.75" cy="294.92" r="2.0" fill="#e8e8ff" stroke="#3030f0" stroke-width="0.6"/>
<circle cx="348.76" cy="295" r="2.0" fill="#e8e8ff" stroke="#3030f0" stroke-width="0.6"/>
<circle cx="349.77" cy="295.07" r="2.0" fill="#e8e8ff" stroke="#3030f0" stroke-width="0.6"/>
<circle cx="350.78" cy="295.09" r="2.0" fill="#e8e8ff" stroke="#3030f0" stroke-width="0.6"/>
<circle cx="351.8" cy="295.11" r="2.0" fill="#e8e8ff" stroke="#3030f0" stroke-width="0.6"/>
<circle cx="352.81" cy="295.12" r="2.0" fill="#e8e8ff" stroke="#3030f0" stroke-width="0.6"/>
<circle cx="353.82" cy="295.14" r="2.0" fill="#e8e8ff" stroke="#3030f0" stroke-width="0.6"/>
<circle cx="354.83" cy="295.16" r="2.0" fill="#e8e8ff" stroke="#3030f0" stroke-width="0.6"/>
<circle cx="355.84" cy="295.17" r="2.0" fill="#e8e8ff" stroke="#3030f0" stroke-width="0.6"/>
<circle cx="356.85" cy="295.19" r="2.0" fill="#e8e8ff" stroke="#3030f0" stroke-width="0.6"/>
<circle cx="357.86" cy="295.21" r="2.0" fill="#e8e8ff" stroke="#3030f0" stroke-width="0.6"/>
<circle cx="358.87" cy="295.23" r="2.0" fill="#e8e8ff" stroke="#3030f0" stroke-width="0.6"/>
<circle cx="359.88" cy="295.24" r="2.0" fill="#e8e8ff" stroke="#3030f0" stroke-width="0.6"/>
<circle cx="360.89" cy="295.26" r="2.0" fill="#e8e8ff" stroke="#3030f0" stroke-width="0.6"/>
<circle cx="361.91" cy="295.28" r="2.0" fill="#e8e8ff" stroke="#3030f0" stroke-width="0.6"/>
<circle cx="362.92" cy="295.3" r="2.0" fill="#e8e8ff" stroke="#3030f0" stroke-width="0.6"/>
<circle cx="363.93" cy="295.31" r="2.0" fill="#e8e8ff" stroke="#3030f0" stroke-width="0.6"/>
<circle cx="364.94" cy="295.33" r="2.0" fill="#e8e8ff" stroke="#3030f0" stroke-width="0.6"/>
<circle cx="365.95" cy="295.35" r="2.0" fill="#e8e8ff" stroke="#3030f0" stroke-width="0.6"/>
<circle cx="366.96" cy="295.37" r="2.0" fill="#e8e8ff" stroke="#3030f0" stroke-width="0.6"/>
<circle cx="367.97" cy="295.38" r="2.0" fill="#e8e8ff" stroke="#3030f0" stroke-width="0.6"/>
<circle cx="368.98" cy="295.4" r="2.0" fill="#e8e8ff" stroke="#3030f0" stroke-width="0.6"/>
<circle cx="369.99" cy="295.42" r="2.0" fill="#e8e8ff" stroke="#3030f0" stroke-width="0.6"/>
<circle cx="371" cy="295.44" r="2.0" fill="#e8e8ff" stroke="#3030f0" stroke-width="0.6"/>
<circle cx="372.01" cy="295.45" r="2.0" fill="#e8e8ff" stroke="#3030f0" stroke-width="0.6"/>
<circle cx="373.03" cy="295.47" r="2.0" fill="#e8e8ff" stroke="#3030f0" stroke-width="0.6"/>
<circle cx="374.04" cy="295.49" r="2.0" fill="#e8e8ff" stroke="#3030f0" stroke-width="0.6"/>
<circle cx="375.05" cy="295.51" r="2.0" fill="#e8e8ff" stroke="#3030f0" stroke-width="0.6"/>
<circle cx="376.06" cy="295.52" r="2.0" fill="#e8e8ff" stroke="#3030f0" stroke-width="0.6"/>
<circle cx="377.07" cy="295.54" r="2.0" fill="#e8e8ff" stroke="#3030f0" stroke-width="0.6"/>
<circle cx="378.08" cy="295.56" r="2.0" fill="#e8e8ff" stroke="#3030f0" stroke-width="0.6"/>
<circle cx="379.09" cy="295.58" r="2.0" fill="#e8e8ff" stroke="#3030f0" stroke-width="0.6"/>
<circle cx="380.1" cy="295.59" r="2.0" fill="#e8e8ff" stroke="#3030f0" stroke-width="0.6"/>
<circle cx="381.11" cy="295.61" r="2.0" fill="#e8e8ff" stroke="#3030f0" stroke-width="0.6"/>
<circle cx="382.12" cy="295.63" r="2.0" fill="#e8e8ff" stroke="#3030f0" stroke-width="0.6"/>
<circle cx="383.14" cy="295.65" r="2.0" fill="#e8e8ff" stroke="#3030f0" stroke-width="0.6"/>
<circle cx="384.15" cy="295.66" r="2.0" fill="#e8e8ff" stroke="#3030f0" stroke-width="0.6"/>
<circle cx="385.16" cy="295.68" r="2.0" fill="#e8e8ff" stroke="#3030f0" stroke-width="0.6"/>
<circle cx="386.17" cy="295.7" r="2.0" fill="#e8e8ff" stroke="#3030f0" stroke-width="0.6"/>
<circle cx="387.18" cy="295.71" r="2.0" fill="#e8e8ff" stroke="#3030f0" stroke-width="0.6"/>
<circle cx="388.19" cy="295.73" r="2.0" fill="#e8e8ff" stroke="#3030f0" stroke-width="0.6"/>
<circle cx="389.2" cy="295.75" r="2.0" fill="#e8e8ff" stroke="#3030f0" stroke-width="0.6"/>
<circle cx="390.21" cy="295.77" r="2.0" fill="#e8e8ff" stroke="#3030f0" stroke-width="0.6"/>
<circle cx="391.22" cy="295.78" r="2.0" fill="#e8e8ff" stroke="#3030f0" stroke-width="0.6"/>
<circle cx="392.24" cy="295.8" r="2.0" fill="#e8e8ff" stroke="#3030f0" stroke-width="0.6"/>
<circle cx="393.25" cy="295.82" r="2.0" fill="#e8e8ff" stroke="#3030f0" stroke-width="0.6"/>
<circle cx="394.26" cy="295.84" r="2.0" fill="#e8e8ff" stroke="#3030f0" stroke-width="0.6"/>
<circle cx="395.27" cy="295.85" r="2.0" fill="#e8e8ff" stroke="#3030f0" stroke-width="0.6"/>
<circle cx="396.28" cy="295.87" r="2.0" fill="#e8e8ff" stroke="#3030f0" stroke-width="0.6"/>
<circle cx="397.29" cy="295.89" r="2.0" fill="#e8e8ff" stroke="#3030f0" stroke-width="0.6"/>
<circle cx="398.3" cy="295.91" r="2.0" fill="#e8e8ff" stroke="#3030f0" stroke-width="0.6"/>
<circle cx="399.31" cy="295.92" r="2.0" fill="#e8e8ff" stroke="#3030f0" stroke-width="0.6"/>
<circle cx="400.32" cy="295.94" r="2.0" fill="#e8e8ff" stroke="#3030f0" stroke-width="0.6"/>
<circle cx="401.33" cy="295.96" r="2.0" fill="#e8e8ff" stroke="#3030f0" stroke-width="0.6"/>
<circle cx="402.35" cy="295.98" r="2.0" fill="#e8e8ff" stroke="#3030f0" stroke-width="0.6"/>
<circle cx="403.36" cy="295.99" r="2.0" fill="#e8e8ff" stroke="#3030f0" stroke-width="0.6"/>
<circle cx="404.37" cy="296.01" r="2.0" fill="#e8e8ff" stroke="#3030f0" stroke-width="0.6"/>
<circle cx="405.38" cy="296.03" r="2.0" fill="#e8e8ff" stroke="#3030f0" stroke-width="0.6"/>
<circle cx="406.39" cy="296.05" r="2.0" fill="#e8e8ff" stroke="#3030f0" stroke-width="0.6"/>
<circle cx="407.4" cy="296.06" r="2.0" fill="#e8e8ff" stroke="#3030f0" stroke-width="0.6"/>
<circle cx="408.41" cy="296.08" r="2.0" fill="#e8e8ff" stroke="#3030f0" stroke-width="0.6"/>
<circle cx="409.42" cy="296.1" r="2.0" fill="#e8e8ff" stroke="#3030f0" stroke-width="0.6"/>
<circle cx="410.43" cy="296.12" r="2.0" fill="#e8e8ff" stroke="#3030f0" stroke-width="0.6"/>
<circle cx="411.44" cy="296.13" r="2.0" fill="#e8e8ff" stroke="#3030f0" stroke-width="0.6"/>
<circle cx="412.45" cy="296.15" r="2.0" fill="#e8e8ff" stroke="#3030f0" stroke-width="0.6"/>
<circle cx="413.47" cy="296.17" r="2.0" fill="#e8e8ff" stroke="#3030f0" stroke-width="0.6"/>
<circle cx="414.48" cy="296.19" r="2.0" fill="#e8e8ff" stroke="#3030f0" stroke-width="0.6"/>
<circle cx="415.49" cy="296.2" r="2.0" fill="#e8e8ff" stroke="#3030f0" stroke-width="0.6"/>
<circle cx="416.5" cy="296.22" r="2.0" fill="#e8e8ff" stroke="#3030f0" stroke-width="0.6"/>
<circle cx="417.51" cy="296.24" r="2.0" fill="#e8e8ff" stroke="#3030f0" stroke-width="0.6"/>
<circle cx="418.52" cy="296.25" r="2.0" fill="#e8e8ff" stroke="#3030f0" stroke-width="0.6"/>
<circle cx="419.53" cy="296.27" r="2.0" fill="#e8e8ff" stroke="#3030f0" stroke-width="0.6"/>
<circle cx="420.54" cy="296.29" r="2.0" fill="#e8e8ff" stroke="#3030f0" stroke-width="0.6"/>
<circle cx="421.55" cy="296.3" r="2.0" fill="#e8e8ff" stroke="#3030f0" stroke-width="0.6"/>
<circle cx="422.56" cy="296.31" r="2.0" fill="#e8e8ff" stroke="#3030f0" stroke-width="0.6"/>
<circle cx="423.58" cy="296.31" r="2.0" fill="#e8e8ff" stroke="#3030f0" stroke-width="0.6"/>
<circle cx="424.59" cy="296.32" r="2.0" fill="#e8e8ff" stroke="#3030f0" stroke-width="0.6"/>
<circle cx="425.6" cy="296.33" r="2.0" fill="#e8e8ff" stroke="#3030f0" stroke-width="0.6"/>
<circle cx="426.61" cy="296.34" r="2.0" fill="#e8e8ff" stroke="#3030f0" stroke-width="0.6"/>
<circle cx="427.62" cy="296.35" r="2.0" fill="#e8e8ff" stroke="#3030f0" stroke-width="0.6"/>
<circle cx="428.63" cy="296.36" r="2.0" fill="#e8e8ff" stroke="#3030f0" stroke-width="0.6"/>
<circle cx="429.64" cy="296.36" r="2.0" fill="#e8e8ff" stroke="#3030f0" stroke-width="0.6"/>
<circle cx="430.65" cy="296.37" r="2.0" fill="#e8e8ff" stroke="#3030f0" stroke-width="0.6"/>
<circle cx="431.66" cy="296.38" r="2.0" fill="#e8e8ff" stroke="#3030f0" stroke-width="0.6"/>
<circle cx="432.68" cy="296.39" r="2.0" fill="#e8e8ff" stroke="#3030f0" stroke-width="0.6"/>
<circle cx="433.69" cy="296.4" r="2.0" fill="#e8e8ff" stroke="#3030f0" stroke-width="0.6"/>
<circle cx="434.7" cy="296.41" r="2.0" fill="#e8e8ff" stroke="#3030f0" stroke-width="0.6"/>
<circle cx="435.71" cy="296.41" r="2.0" fill="#e8e8ff" stroke="#3030f0" stroke-width="0.6"/>
<circle cx="436.72" cy="296.42" r="2.0" fill="#e8e8ff" stroke="#3030f0" stroke-width="0.6"/>
<circle cx="437.73" cy="296.43" r="2.0" fill="#e8e8ff" stroke="#3030f0" stroke-width="0.6"/>
<circle cx="438.74" cy="296.44" r="2.0" fill="#e8e8ff" stroke="#3030f0" stroke-width="0.6"/>
<circle cx="439.75" cy="296.45" r="2.0" fill="#e8e8ff" stroke="#3030f0" stroke-width="0.6"/>
<circle cx="440.76" cy="296.45" r="2.0" fill="#e8e8ff" stroke="#3030f0" stroke-width="0.6"/>
<circle cx="441.77" cy="296.46" r="2.0" fill="#e8e8ff" stroke="#3030f0" stroke-width="0.6"/>
<circle cx="442.78" cy="296.47" r="2.0" fill="#e8e8ff" stroke="#3030f0" stroke-width="0.6"/>
<circle cx="443.8" cy="296.48" r="2.0" fill="#e8e8ff" stroke="#3030f0" stroke-width="0.6"/>
<circle cx="444.81" cy="296.49" r="2.0" fill="#e8e8ff" stroke="#3030f0" stroke-width="0.6"/>
<circle cx="445.82" cy="296.5" r="2.0" fill="#e8e8ff" stroke="#3030f0" stroke-width="0.6"/>
<circle cx="446.83" cy="296.5" r="2.0" fill="#e8e8ff" stroke="#3030f0" stroke-width="0.6"/>
<circle cx="447.84" cy="296.51" r="2.0" fill="#e8e8ff" stroke="#3030f0" stroke-width="0.6"/>
<circle cx="448.85" cy="296.52" r="2.0" fill="#e8e8ff" stroke="#3030f0" stroke-width="0.6"/>
<circle cx="449.86" cy="296.53" r="2.0" fill="#e8e8ff" stroke="#3030f0" stroke-width="0.6"/>
<circle cx="450.87" cy="296.54" r="2.0" fill="#e8e8ff" stroke="#3030f0" stroke-width="0.6"/>
<circle cx="451.88" cy="296.55" r="2.0" fill="#e8e8ff" stroke="#3030f0" stroke-width="0.6"/>
<circle cx="452.89" cy="296.55" r="2.0" fill="#e8e8ff" stroke="#3030f0" stroke-width="0.6"/>
<circle cx="453.91" cy="296.56" r="2.0" fill="#e8e8ff" stroke="#3030f0" stroke-width="0.6"/>
<circle cx="454.92" cy="296.57" r="2.0" fill="#e8e8ff" stroke="#3030f0" stroke-width="0.6"/>
<circle cx="455.93" cy="296.58" r="2.0" fill="#e8e8ff" stroke="#3030f0" stroke-width="0.6"/>
<circle cx="456.94" cy="296.59" r="2.0" fill="#e8e8ff" stroke="#3030f0" stroke-width="0.6"/>
<circle cx="457.95" cy="296.59" r="2.0" fill="#e8e8ff" stroke="#3030f0" stroke-width="0.6"/>
<circle cx="458.96" cy="296.6" r="2.0" fill="#e8e8ff" stroke="#3030f0" stroke-width="0.6"/>
<circle cx="459.97" cy="296.61" r="2.0" fill="#e8e8ff" stroke="#3030f0" stroke-width="0.6"/>
<circle cx="460.98" cy="296.61" r="2.0" fill="#e8e8ff" stroke="#3030f0" stroke-width="0.6"/>
<circle cx="461.99" cy="296.62" r="2.0" fill="#e8e8ff" stroke="#3030f0" stroke-width="0.6"/>
<circle cx="463" cy="296.63" r="2.0" fill="#e8e8ff" stroke="#3030f0" stroke-width="0.6"/>
<circle cx="464.02" cy="296.63" r="2.0" fill="#e8e8ff" stroke="#3030f0" stroke-width="0.6"/>
<circle cx="465.03" cy="296.64" r="2.0" fill="#e8e8ff" stroke="#3030f0" stroke-width="0.6"/>
<circle cx="466.04" cy="296.64" r="2.0" fill="#e8e8ff" stroke="#3030f0" stroke-width="0.6"/>
<circle cx="467.05" cy="296.65" r="2.0" fill="#e8e8ff" stroke="#3030f0" stroke-width="0.6"/>
<circle cx="468.06" cy="296.66" r="2.0" fill="#e8e8ff" stroke="#3030f0" stroke-width="0.6"/>
<circle cx="469.07" cy="296.66" r="2.0" fill="#e8e8ff" stroke="#3030f0" stroke-width="0.6"/>
<circle cx="470.08" cy="296.67" r="2.0" fill="#e8e8ff" stroke="#3030f0" stroke-width="0.6"/>
<circle cx="471.09" cy="296.67" r="2.0" fill="#e8e8ff" stroke="#3030f0" stroke-width="0.6"/>
<circle cx="472.1" cy="296.68" r="2.0" fill="#e8e8ff" stroke="#3030f0" stroke-width="0.6"/>
<circle cx="473.12" cy="296.69" r="2.0" fill="#e8e8ff" stroke="#3030f0" stroke-width="0.6"/>
<circle cx="474.13" cy="296.69" r="2.0" fill="#e8e8ff" stroke="#3030f0" stroke-width="0.6"/>
<circle cx="475.14" cy="296.7" r="2.0" fill="#e8e8ff" stroke="#3030f0" stroke-width="0.6"/>
<circle cx="476.15" cy="296.7" r="2.0" fill="#e8e8ff" stroke="#3030f0" stroke-width="0.6"/>
<circle cx="477.16" cy="296.71" r="2.0" fill="#e8e8ff" stroke="#3030f0" stroke-width="0.6"/>
<circle cx="478.17" cy="296.72" r="2.0" fill="#e8e8ff" stroke="#3030f0" stroke-width="0.6"/>
<circle cx="479.18" cy="296.72" r="2.0" fill="#e8e8ff" stroke="#3030f0" stroke-width="0.6"/>
<circle cx="480.19" cy="296.73" r="2.0" fill="#e8e8ff" stroke="#3030f0" stroke-width="0.6"/>
<circle cx="481.2" cy="296.73" r="2.0" fill="#e8e8ff" stroke="#3030f0" stroke-width="0.6"/>
<circle cx="482.21" cy="296.74" r="2.0" fill="#e8e8ff" stroke="#3030f0" stroke-width="0.6"/>
<circle cx="483.23" cy="296.75" r="2.0" fill="#e8e8ff" stroke="#3030f0" stroke-width="0.6"/>
<circle cx="484.24" cy="296.75" r="2.0" fill="#e8e8ff" stroke="#3030f0" stroke-width="0.6"/>
<circle cx="485.25" cy="296.76" r="2.0" fill="#e8e8ff" stroke="#3030f0" stroke-width="0.6"/>
<circle cx="486.26" cy="296.77" r="2.0" fill="#e8e8ff" stroke="#3030f0" stroke-width="0.6"/>
<circle cx="487.27" cy="296.77" r="2.0" fill="#e8e8ff" stroke="#3030f0" stroke-width="0.6"/>
<circle cx="488.28" cy="296.78" r="2.0" fill="#e8e8ff" stroke="#3030f0" stroke-width="0.6"/>
<circle cx="489.29" cy="296.78" r="2.0" fill="#e8e8ff" stroke="#3030f0" stroke-width="0.6"/>
<circle cx="490.3" cy="296.79" r="2.0" fill="#e8e8ff" stroke="#3030f0" stroke-width="0.6"/>
<circle cx="491.31" cy="296.8" r="2.0" fill="#e8e8ff" stroke="#3030f0" stroke-width="0.6"/>
<circle cx="492.32" cy="296.8" r="2.0" fill="#e8e8ff" stroke="#3030f0" stroke-width="0.6"/>
<circle cx="493.33" cy="296.81" r="2.0" fill="#e8e8ff" stroke="#3030f0" stroke-width="0.6"/>
<circle cx="494.35" cy="296.81" r="2.0" fill="#e8e8ff" stroke="#3030f0" stroke-width="0.6"/>
<circle cx="495.36" cy="296.82" r="2.0" fill="#e8e8ff" stroke="#3030f0" stroke-width="0.6"/>
<circle cx="496.37" cy="296.83" r="2.0" fill="#e8e8ff" stroke="#3030f0" stroke-width="0.6"/>
<circle cx="497.38" cy="296.83" r="2.0" fill="#e8e8ff" stroke="#3030f0" stroke-width="0.6"/>
<circle cx="498.39" cy="296.84" r="2.0" fill="#e8e8ff" stroke="#3030f0" stroke-width="0.6"/>
<circle cx="499.4" cy="296.84" r="2.0" fill="#e8e8ff" stroke="#3030f0" stroke-width="0.6"/>
<circle cx="500.41" cy="296.85" r="2.0" fill="#e8e8ff" stroke="#3030f0" stroke-width="0.6"/>
<circle cx="501.42" cy="296.86" r="2.0" fill="#e8e8ff" stroke="#3030f0" stroke-width="0.6"/>
<circle cx="502.43" cy="296.86" r="2.0" fill="#e8e8ff" stroke="#3030f0" stroke-width="0.6"/>
<circle cx="503.44" cy="296.87" r="2.0" fill="#e8e8ff" stroke="#3030f0" stroke-width="0.6"/>
<circle cx="504.46" cy="296.88" r="2.0" fill="#e8e8ff" stroke="#3030f0" stroke-width="0.6"/>
<circle cx="505.47" cy="296.88" r="2.0" fill="#e8e8ff" stroke="#3030f0" stroke-width="0.6"/>
<circle cx="506.48" cy="296.89" r="2.0" fill="#e8e8ff" stroke="#3030f0" stroke-width="0.6"/>
<circle cx="507.49" cy="296.89" r="2.0" fill="#e8e8ff" stroke="#3030f0" stroke-width="0.6"/>
<circle cx="508.5" cy="296.9" r="2.0" fill="#e8e8ff" stroke="#3030f0" stroke-width="0.6"/>
<circle cx="307.31" cy="274.31" r="2.1" fill="#1010e0"/>
<circle cx="308.32" cy="280.82" r="2.1" fill="#1010e0"/>
<circle cx="309.33" cy="286.3" r="2.1" fill="#1010e0"/>
<circle cx="310.34" cy="287.93" r="2.1" fill="#1010e0"/>
<circle cx="311.36" cy="289.56" r="2.1" fill="#1010e0"/>
<circle cx="312.37" cy="290.3" r="2.1" fill="#1010e0"/>
<circle cx="313.38" cy="291.05" r="2.1" fill="#1010e0"/>
<circle cx="314.39" cy="291.79" r="2.1" fill="#1010e0"/>
<circle cx="315.4" cy="292.1" r="2.1" fill="#1010e0"/>
<circle cx="316.41" cy="292.4" r="2.1" fill="#1010e0"/>
<circle cx="317.42" cy="292.71" r="2.1" fill="#1010e0"/>
<circle cx="318.43" cy="293.01" r="2.1" fill="#1010e0"/>
<circle cx="319.44" cy="293.32" r="2.1" fill="#1010e0"/>
<circle cx="320.45" cy="293.62" r="2.1" fill="#1010e0"/>
<circle cx="321.47" cy="293.93" r="2.1" fill="#1010e0"/>
<circle cx="322.48" cy="294.23" r="2.1" fill="#1010e0"/>
<circle cx="323.49" cy="294.54" r="2.1" fill="#1010e0"/>
<circle cx="324.5" cy="294.84" r="2.1" fill="#1010e0"/>
<circle cx="325.51" cy="294.91" r="2.1" fill="#1010e0"/>
<circle cx="326.52" cy="294.99" r="2.1" fill="#1010e0"/>
<circle cx="327.53" cy="295.06" r="2.1" fill="#1010e0"/>
<circle cx="328.54" cy="295.13" r="2.1" fill="#1010e0"/>
<circle cx="329.55" cy="295.21" r="2.1" fill="#1010e0"/>
<circle cx="330.56" cy="295.28" r="2.1" fill="#1010e0"/>
<circle cx="331.57" cy="295.35" r="2.1" fill="#1010e0"/>
<circle cx="332.59" cy="295.43" r="2.1" fill="#1010e0"/>
<circle cx="333.6" cy="295.5" r="2.1" fill="#1010e0"/>
<circle cx="334.61" cy="295.57" r="2.1" fill="#1010e0"/>
<circle cx="335.62" cy="295.65" r="2.1" fill="#1010e0"/>
<circle cx="336.63" cy="295.72" r="2.1" fill="#1010e0"/>
<circle cx="337.64" cy="295.79" r="2.1" fill="#1010e0"/>
<circle cx="338.65" cy="295.87" r="2.1" fill="#1010e0"/>
<circle cx="339.66" cy="295.94" r="2.1" fill="#1010e0"/>
<circle cx="340.67" cy="296.01" r="2.1" fill="#1010e0"/>
<circle cx="341.69" cy="296.08" r="2.1" fill="#1010e0"/>
<circle cx="342.7" cy="296.16" r="2.1" fill="#1010e0"/>
<circle cx="343.71" cy="296.23" r="2.1" fill="#1010e0"/>
<circle cx="344.72" cy="296.3" r="2.1" fill="#1010e0"/>
<circle cx="345.73" cy="296.38" r="2.1" fill="#1010e0"/>
<circle cx="346.74" cy="296.45" r="2.1" fill="#1010e0"/>
<circle cx="347.75" cy="296.52" r="2.1" fill="#1010e0"/>
<circle cx="348.76" cy="296.6" r="2.1" fill="#1010e0"/>
<circle cx="349.77" cy="296.67" r="2.1" fill="#1010e0"/>
<circle cx="350.78" cy="296.69" r="2.1" fill="#1010e0"/>
<circle cx="351.8" cy="296.71" r="2.1" fill="#1010e0"/>
<circle cx="352.81" cy="296.72" r="2.1" fill="#1010e0"/>
<circle cx="353.82" cy="296.74" r="2.1" fill="#1010e0"/>
<circle cx="354.83" cy="296.76" r="2.1" fill="#1010e0"/>
<circle cx="355.84" cy="296.77" r="2.1" fill="#1010e0"/>
<circle cx="356.85" cy="296.79" r="2.1" fill="#1010e0"/>
<circle cx="357.86" cy="296.81" r="2.1" fill="#1010e0"/>
<circle cx="358.87" cy="296.83" r="2.1" fill="#1010e0"/>
<circle cx="359.88" cy="296.84" r="2.1" fill="#1010e0"/>
<circle cx="360.89" cy="296.86" r="2.1" fill="#1010e0"/>
<circle cx="361.91" cy="296.88" r="2.1" fill="#1010e0"/>
<circle cx="362.92" cy="296.9" r="2.1" fill="#1010e0"/>
<circle cx="363.93" cy="296.91" r="2.1" fill="#1010e0"/>
<circle cx="364.94" cy="296.93" r="2.1" fill="#1010e0"/>
<circle cx="365.95" cy="296.95" r="2.1" fill="#1010e0"/>
<circle cx="366.96" cy="296.97" r="2.1" fill="#1010e0"/>
<circle cx="367.97" cy="296.98" r="2.1" fill="#1010e0"/>
<circle cx="368.98" cy="297" r="2.1" fill="#1010e0"/>
<circle cx="369.99" cy="297.02" r="2.1" fill="#1010e0"/>
<circle cx="371" cy="297.04" r="2.1" fill="#1010e0"/>
<circle cx="372.01" cy="297.05" r="2.1" fill="#1010e0"/>
<circle cx="373.03" cy="297.07" r="2.1" fill="#1010e0"/>
<circle cx="374.04" cy="297.09" r="2.1" fill="#1010e0"/>
<circle cx="375.05" cy="297.11" r="2.1" fill="#1010e0"/>
<circle cx="376.06" cy="297.12" r="2.1" fill="#1010e0"/>
<circle cx="377.07" cy="297.14" r="2.1" fill="#1010e0"/>
<circle cx="378.08" cy="297.16" r="2.1" fill="#1010e0"/>
<circle cx="379.09" cy="297.18" r="2.1" fill="#1010e0"/>
<circle cx="380.1" cy="297.19" r="2.1" fill="#1010e0"/>
<circle cx="381.11" cy="297.21" r="2.1" fill="#1010e0"/>
<circle cx="382.12" cy="297.23" r="2.1" fill="#1010e0"/>
<circle cx="383.14" cy="297.25" r="2.1" fill="#1010e0"/>
<circle cx="384.15" cy="297.26" r="2.1" fill="#1010e0"/>
<circle cx="385.16" cy="297.28" r="2.1" fill="#1010e0"/>
<circle cx="386.17" cy="297.3" r="2.1" fill="#1010e0"/>
<circle cx="387.18" cy="297.31" r="2.1" fill="#1010e0"/>
<circle cx="388.19" cy="297.33" r="2.1" fill="#1010e0"/>
<circle cx="389.2" cy="297.35" r="2.1" fill="#1010e0"/>
<circle cx="390.21" cy="297.37" r="2.1" fill="#1010e0"/>
<circle cx="391.22" cy="297.38" r="2.1" fill="#1010e0"/>
<circle cx="392.24" cy="297.4" r="2.1" fill="#1010e0"/>
<circle cx="393.25" cy="297.42" r="2.1" fill="#1010e0"/>
<circle cx="394.26" cy="297.44" r="2.1" fill="#1010e0"/>
<circle cx="395.27" cy="297.45" r="2.1" fill="#1010e0"/>
<circle cx="396.28" cy="297.47" r="2.1" fill="#1010e0"/>
<circle cx="397.29" cy="297.49" r="2.1" fill="#1010e0"/>
<circle cx="398.3" cy="297.51" r="2.1" fill="#1010e0"/>
<circle cx="399.31" cy="297.52" r="2.1" fill="#1010e0"/>
<circle cx="400.32" cy="297.54" r="2.1" fill="#1010e0"/>
<circle cx="401.33" cy="297.56" r="2.1" fill="#1010e0"/>
<circle cx="402.35" cy="297.58" r="2.1" fill="#1010e0"/>
<circle cx="403.36" cy="297.59" r="2.1" fill="#1010e0"/>
<circle cx="404.37" cy="297.61" r="2.1" fill="#1010e0"/>
<circle cx="405.38" cy="297.63" r="2.1" fill="#1010e0"/>
<circle cx="406.39" cy="297.65" r="2.1" fill="#1010e0"/>
<circle cx="407.4" cy="297.66" r="2.1" fill="#1010e0"/>
<circle cx="408.41" cy="297.68" r="2.1" fill="#1010e0"/>
<circle cx="409.42" cy="297.7" r="2.1" fill="#1010e0"/>
<circle cx="410.43" cy="297.72" r="2.1" fill="#1010e0"/>
<circle cx="411.44" cy="297.73" r="2.1" fill="#1010e0"/>
<circle cx="412.45" cy="297.75" r="2.1" fill="#1010e0"/>
<circle cx="413.47" cy="297.77" r="2.1" fill="#1010e0"/>
<circle cx="414.48" cy="297.79" r="2.1" fill="#1010e0"/>
<circle cx="415.49" cy="297.8" r="2.1" fill="#1010e0"/>
<circle cx="416.5" cy="297.82" r="2.1" fill="#1010e0"/>
<circle cx="417.51" cy="297.84" r="2.1" fill="#1010e0"/>
<circle cx="418.52" cy="297.85" r="2.1" fill="#1010e0"/>
<circle cx="419.53" cy="297.87" r="2.1" fill="#1010e0"/>
<circle cx="420.54" cy="297.89" r="2.1" fill="#1010e0"/>
<circle cx="421.55" cy="297.9" r="2.1" fill="#1010e0"/>
<circle cx="422.56" cy="297.91" r="2.1" fill="#1010e0"/>
<circle cx="423.58" cy="297.91" r="2.1" fill="#1010e0"/>
<circle cx="424.59" cy="297.92" r="2.1" fill="#1010e0"/>
<circle cx="425.6" cy="297.93" r="2.1" fill="#1010e0"/>
<circle cx="426.61" cy="297.94" r="2.1" fill="#1010e0"/>
<circle cx="427.62" cy="297.95" r="2.1" fill="#1010e0"/>
<circle cx="428.63" cy="297.96" r="2.1" fill="#1010e0"/>
<circle cx="429.64" cy="297.96" r="2.1" fill="#1010e0"/>
<circle cx="430.65" cy="297.97" r="2.1" fill="#1010e0"/>
<circle cx="431.66" cy="297.98" r="2.1" fill="#1010e0"/>
<circle cx="432.68" cy="297.99" r="2.1" fill="#1010e0"/>
<circle cx="433.69" cy="298" r="2.1" fill="#1010e0"/>
<circle cx="434.7" cy="298.01" r="2.1" fill="#1010e0"/>
<circle cx="435.71" cy="298.01" r="2.1" fill="#1010e0"/>
<circle cx="436.72" cy="298.02" r="2.1" fill="#1010e0"/>
<circle cx="437.73" cy="298.03" r="2.1" fill="#1010e0"/>
<circle cx="438.74" cy="298.04" r="2.1" fill="#1010e0"/>
<circle cx="439.75" cy="298.05" r="2.1" fill="#1010e0"/>
<circle cx="440.76" cy="298.05" r="2.1" fill="#1010e0"/>
<circle cx="441.77" cy="298.06" r="2.1" fill="#1010e0"/>
<circle cx="442.78" cy="298.07" r="2.1" fill="#1010e0"/>
<circle cx="443.8" cy="298.08" r="2.1" fill="#1010e0"/>
<circle cx="444.81" cy="298.09" r="2.1" fill="#1010e0"/>
<circle cx="445.82" cy="298.1" r="2.1" fill="#1010e0"/>
<circle cx="446.83" cy="298.1" r="2.1" fill="#1010e0"/>
<circle cx="447.84" cy="298.11" r="2.1" fill="#1010e0"/>
<circle cx="448.85" cy="298.12" r="2.1" fill="#1010e0"/>
<circle cx="449.86" cy="298.13" r="2.1" fill="#1010e0"/>
<circle cx="450.87" cy="298.14" r="2.1" fill="#1010e0"/>
<circle cx="451.88" cy="298.15" r="2.1" fill="#1010e0"/>
<circle cx="452.89" cy="298.15" r="2.1" fill="#1010e0"/>
<circle cx="453.91" cy="298.16" r="2.1" fill="#1010e0"/>
<circle cx="454.92" cy="298.17" r="2.1" fill="#1010e0"/>
<circle cx="455.93" cy="298.18" r="2.1" fill="#1010e0"/>
<circle cx="456.94" cy="298.19" r="2.1" fill="#1010e0"/>
<circle cx="457.95" cy="298.19" r="2.1" fill="#1010e0"/>
<circle cx="458.96" cy="298.2" r="2.1" fill="#1010e0"/>
<circle cx="459.97" cy="298.21" r="2.1" fill="#1010e0"/>
<circle cx="460.98" cy="298.21" r="2.1" fill="#1010e0"/>
<circle cx="461.99" cy="298.22" r="2.1" fill="#1010e0"/>
<circle cx="463" cy="298.23" r="2.1" fill="#1010e0"/>
<circle cx="464.02" cy="298.23" r="2.1" fill="#1010e0"/>
<circle cx="465.03" cy="298.24" r="2.1" fill="#1010e0"/>
<circle cx="466.04" cy="298.24" r="2.1" fill="#1010e0"/>
<circle cx="467.05" cy="298.25" r="2.1" fill="#1010e0"/>
<circle cx="468.06" cy="298.26" r="2.1" fill="#1010e0"/>
<circle cx="469.07" cy="298.26" r="2.1" fill="#1010e0"/>
<circle cx="470.08" cy="298.27" r="2.1" fill="#1010e0"/>
<circle cx="471.09" cy="298.27" r="2.1" fill="#1010e0"/>
<circle cx="472.1" cy="298.28" r="2.1" fill="#1010e0"/>
<circle cx="473.12" cy="298.29" r="2.1" fill="#1010e0"/>
<circle cx="474.13" cy="298.29" r="2.1" fill="#1010e0"/>
<circle cx="475.14" cy="298.3" r="2.1" fill="#1010e0"/>
<circle cx="476.15" cy="298.3" r="2.1" fill="#1010e0"/>
<circle cx="477.16" cy="298.31" r="2.1" fill="#1010e0"/>
<circle cx="478.17" cy="298.32" r="2.1" fill="#1010e0"/>
<circle cx="479.18" cy="298.32" r="2.1" fill="#1010e0"/>
<circle cx="480.19" cy="298.33" r="2.1" fill="#1010e0"/>
<circle cx="481.2" cy="298.33" r="2.1" fill="#1010e0"/>
<circle cx="482.21" cy="298.34" r="2.1" fill="#1010e0"/>
<circle cx="483.23" cy="298.35" r="2.1" fill="#1010e0"/>
<circle cx="484.24" cy="298.35" r="2.1" fill="#1010e0"/>
<circle cx="485.25" cy="298.36" r="2.1" fill="#1010e0"/>
<circle cx="486.26" cy="298.37" r="2.1" fill="#1010e0"/>
<circle cx="487.27" cy="298.37" r="2.1" fill="#1010e0"/>
<circle cx="488.28" cy="298.38" r="2.1" fill="#1010e0"/>
<circle cx="489.29" cy="298.38" r="2.1" fill="#1010e0"/>
<circle cx="490.3" cy="298.39" r="2.1" fill="#1010e0"/>
<circle cx="491.31" cy="298.4" r="2.1" fill="#1010e0"/>
<circle cx="492.32" cy="298.4" r="2.1" fill="#1010e0"/>
<circle cx="493.33" cy="298.41" r="2.1" fill="#1010e0"/>
<circle cx="494.35" cy="298.41" r="2.1" fill="#1010e0"/>
<circle cx="495.36" cy="298.42" r="2.1" fill="#1010e0"/>
<circle cx="496.37" cy="298.43" r="2.1" fill="#1010e0"/>
<circle cx="497.38" cy="298.43" r="2.1" fill="#1010e0"/>
<circle cx="498.39" cy="298.44" r="2.1" fill="#1010e0"/>
<circle cx="499.4" cy="298.44" r="2.1" fill="#1010e0"/>
<circle cx="500.41" cy="298.45" r="2.1" fill="#1010e0"/>
<circle cx="501.42" cy="298.46" r="2.1" fill="#1010e0"/>
<circle cx="502.43" cy="298.46" r="2.1" fill="#1010e0"/>
<circle cx="503.44" cy="298.47" r="2.1" fill="#1010e0"/>
<circle cx="504.46" cy="298.48" r="2.1" fill="#1010e0"/>
<circle cx="505.47" cy="298.48" r="2.1" fill="#1010e0"/>
<circle cx="506.48" cy="298.49" r="2.1" fill="#1010e0"/>
<circle cx="507.49" cy="298.49" r="2.1" fill="#1010e0"/>
<circle cx="508.5" cy="298.5" r="2.1" fill="#1010e0"/>
<path d="M320.5,181 Q325,198 339.5,202.5" fill="none" stroke="#f01010" stroke-width="0.9"/>
<path d="M341,203 L337.2,200.4 L337.6,204.6 Z" fill="#f01010"/>
<text x="341.5" y="208.5" font-size="7.6" font-weight="bold" fill="#f01010">Cu<tspan font-size="5.4" dy="0.5">2</tspan><tspan dy="-0.5">S/PG-1.0A/g</tspan></text>
<path d="M415,176.3 Q419,193 434.5,197.5" fill="none" stroke="#f01010" stroke-width="0.9"/>
<path d="M436,198 L432.3,195.3 L432.6,199.5 Z" fill="#f01010"/>
<text x="436.6" y="203.5" font-size="7.6" font-weight="bold" fill="#f01010">Cu<tspan font-size="5.4" dy="0.5">2</tspan><tspan dy="-0.5">S/PG-0.1A/g</tspan></text>
<circle cx="417" cy="233.6" r="2.2" fill="#d8dcff" stroke="#4040f0" stroke-width="0.6"/>
<text x="426" y="235.9" font-size="6.5" font-weight="bold" fill="#222">Cu<tspan font-size="4.5" dy="0.5">2</tspan><tspan dy="-0.5">S/PG-1.0A/g-charge</tspan></text>
<circle cx="417" cy="242.0" r="2.2" fill="#1818e0"/>
<text x="426" y="244.3" font-size="6.5" font-weight="bold" fill="#222">Cu<tspan font-size="4.5" dy="0.5">2</tspan><tspan dy="-0.5">S/PG-1.0A/g-discharge</tspan></text>
<circle cx="417" cy="250.4" r="2.2" fill="#b8f8f4"/>
<text x="426" y="252.7" font-size="6.5" font-weight="bold" fill="#222">Cu<tspan font-size="4.5" dy="0.5">2</tspan><tspan dy="-0.5">S/PG-0.1A/g-charge</tspan></text>
<circle cx="417" cy="258.6" r="2.2" fill="#16d498"/>
<text x="426" y="260.9" font-size="6.5" font-weight="bold" fill="#222">Cu<tspan font-size="4.5" dy="0.5">2</tspan><tspan dy="-0.5">S/PG-0.1A/g-discharge</tspan></text>
<text x="271.8" y="168.7" font-size="11.2" fill="#333" stroke="#333" stroke-width="0.25">(e)</text>
<text transform="translate(283.5,247.2) rotate(-90)" text-anchor="middle" font-size="10.4" font-weight="bold" fill="#111">Specific capacity (mAh/g)</text>
<text x="415.6" y="353.5" text-anchor="middle" font-size="10" font-weight="bold" fill="#111">Cycle number (n)</text>
<text transform="translate(534.2,254.5) rotate(-90)" text-anchor="middle" font-size="10.3" font-weight="bold" fill="#f01010">Coulombic efficiency (%)</text>
</svg></body></html>
